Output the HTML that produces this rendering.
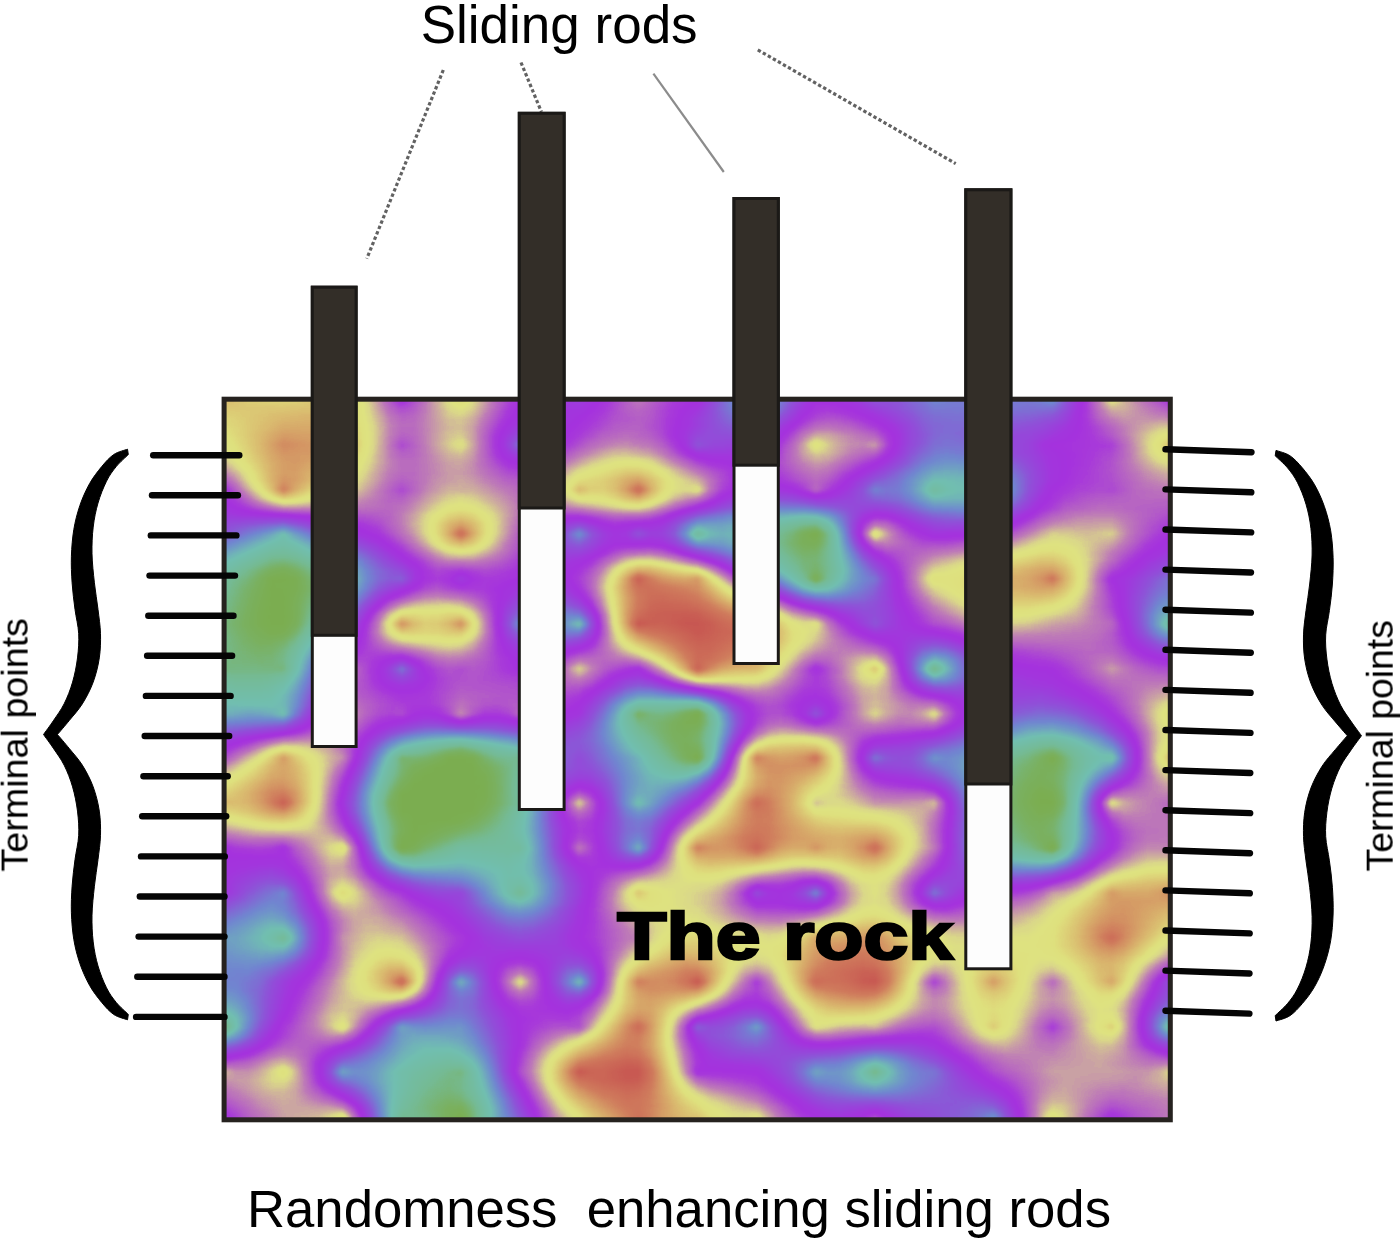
<!DOCTYPE html>
<html><head><meta charset="utf-8"><title>Randomness enhancing sliding rods</title>
<style>html,body{margin:0;padding:0;background:#fff}svg{display:block}</style></head>
<body>
<svg width="1400" height="1239" viewBox="0 0 1400 1239">
<defs>
<linearGradient id="r0" gradientUnits="userSpaceOnUse" x1="224.3" y1="0" x2="1171.0" y2="0"><stop offset=".0000" stop-color="#cccccc"/><stop offset=".0250" stop-color="#c3c3c3"/><stop offset=".0625" stop-color="#bfbfbf"/><stop offset=".1125" stop-color="#c8c8c8"/><stop offset=".1250" stop-color="#cccccc"/><stop offset=".1875" stop-color="#808080"/><stop offset=".2375" stop-color="#b0b0b0"/><stop offset=".2500" stop-color="#bfbfbf"/><stop offset=".2625" stop-color="#aeaeae"/><stop offset=".2875" stop-color="#949494"/><stop offset=".3125" stop-color="#808080"/><stop offset=".3250" stop-color="#7c7c7c"/><stop offset=".3750" stop-color="#737373"/><stop offset=".4375" stop-color="#999999"/><stop offset=".4750" stop-color="#868686"/><stop offset=".5000" stop-color="#808080"/><stop offset=".5375" stop-color="#515151"/><stop offset=".5500" stop-color="#3f3f3f"/><stop offset=".5625" stop-color="#262626"/><stop offset=".5750" stop-color="#414141"/><stop offset=".5875" stop-color="#565656"/><stop offset=".6000" stop-color="#666666"/><stop offset=".6250" stop-color="#808080"/><stop offset=".6500" stop-color="#7c7c7c"/><stop offset=".6625" stop-color="#787878"/><stop offset=".6750" stop-color="#717171"/><stop offset=".6875" stop-color="#666666"/><stop offset=".7000" stop-color="#676767"/><stop offset=".7125" stop-color="#656565"/><stop offset=".7375" stop-color="#5a5a5a"/><stop offset=".7500" stop-color="#525252"/><stop offset=".7750" stop-color="#575757"/><stop offset=".8000" stop-color="#565656"/><stop offset=".8125" stop-color="#525252"/><stop offset=".8250" stop-color="#565656"/><stop offset=".8500" stop-color="#585858"/><stop offset=".8625" stop-color="#545454"/><stop offset=".8750" stop-color="#4d4d4d"/><stop offset=".8875" stop-color="#636363"/><stop offset=".9250" stop-color="#9c9c9c"/><stop offset=".9375" stop-color="#b3b3b3"/><stop offset=".9500" stop-color="#a6a6a6"/><stop offset=".9875" stop-color="#8c8c8c"/><stop offset="1.0000" stop-color="#808080"/></linearGradient>
<linearGradient id="r1" gradientUnits="userSpaceOnUse" x1="224.3" y1="0" x2="1171.0" y2="0"><stop offset=".0000" stop-color="#c4c4c4"/><stop offset=".0625" stop-color="#c6c6c6"/><stop offset=".1125" stop-color="#cacaca"/><stop offset=".1250" stop-color="#c7c7c7"/><stop offset=".1375" stop-color="#bdbdbd"/><stop offset=".1750" stop-color="#949494"/><stop offset=".1875" stop-color="#8c8c8c"/><stop offset=".2000" stop-color="#909090"/><stop offset=".2375" stop-color="#acacac"/><stop offset=".2500" stop-color="#b1b1b1"/><stop offset=".2625" stop-color="#aaaaaa"/><stop offset=".3000" stop-color="#868686"/><stop offset=".3125" stop-color="#7e7e7e"/><stop offset=".3375" stop-color="#787878"/><stop offset=".3750" stop-color="#797979"/><stop offset=".4250" stop-color="#919191"/><stop offset=".4375" stop-color="#949494"/><stop offset=".4500" stop-color="#909090"/><stop offset=".5000" stop-color="#797979"/><stop offset=".5500" stop-color="#484848"/><stop offset=".5625" stop-color="#414141"/><stop offset=".5750" stop-color="#4c4c4c"/><stop offset=".6000" stop-color="#6d6d6d"/><stop offset=".6125" stop-color="#7a7a7a"/><stop offset=".6250" stop-color="#838383"/><stop offset=".6375" stop-color="#858585"/><stop offset=".6625" stop-color="#7f7f7f"/><stop offset=".6875" stop-color="#727272"/><stop offset=".7500" stop-color="#585858"/><stop offset=".8125" stop-color="#585858"/><stop offset=".8750" stop-color="#5d5d5d"/><stop offset=".8875" stop-color="#696969"/><stop offset=".9250" stop-color="#989898"/><stop offset=".9375" stop-color="#a4a4a4"/><stop offset=".9500" stop-color="#a4a4a4"/><stop offset="1.0000" stop-color="#8f8f8f"/></linearGradient>
<linearGradient id="r2" gradientUnits="userSpaceOnUse" x1="224.3" y1="0" x2="1171.0" y2="0"><stop offset=".0000" stop-color="#bfbfbf"/><stop offset=".0625" stop-color="#cccccc"/><stop offset=".0875" stop-color="#cecece"/><stop offset=".1125" stop-color="#cccccc"/><stop offset=".1250" stop-color="#c7c7c7"/><stop offset=".1375" stop-color="#bdbdbd"/><stop offset=".1750" stop-color="#999999"/><stop offset=".1875" stop-color="#939393"/><stop offset=".2000" stop-color="#949494"/><stop offset=".2375" stop-color="#a8a8a8"/><stop offset=".2500" stop-color="#a9a9a9"/><stop offset=".2625" stop-color="#a4a4a4"/><stop offset=".3000" stop-color="#828282"/><stop offset=".3125" stop-color="#7b7b7b"/><stop offset=".3250" stop-color="#777777"/><stop offset=".3625" stop-color="#7a7a7a"/><stop offset=".4125" stop-color="#8d8d8d"/><stop offset=".4375" stop-color="#919191"/><stop offset=".4500" stop-color="#8f8f8f"/><stop offset=".4750" stop-color="#838383"/><stop offset=".5375" stop-color="#5b5b5b"/><stop offset=".5500" stop-color="#555555"/><stop offset=".5625" stop-color="#545454"/><stop offset=".5750" stop-color="#5c5c5c"/><stop offset=".6125" stop-color="#828282"/><stop offset=".6250" stop-color="#8a8a8a"/><stop offset=".6375" stop-color="#8d8d8d"/><stop offset=".6500" stop-color="#8c8c8c"/><stop offset=".6750" stop-color="#838383"/><stop offset=".7375" stop-color="#616161"/><stop offset=".7500" stop-color="#5d5d5d"/><stop offset=".7750" stop-color="#5b5b5b"/><stop offset=".8500" stop-color="#626262"/><stop offset=".8750" stop-color="#686868"/><stop offset=".8875" stop-color="#707070"/><stop offset=".9250" stop-color="#939393"/><stop offset=".9375" stop-color="#9b9b9b"/><stop offset=".9500" stop-color="#9f9f9f"/><stop offset="1.0000" stop-color="#9c9c9c"/></linearGradient>
<linearGradient id="r3" gradientUnits="userSpaceOnUse" x1="224.3" y1="0" x2="1171.0" y2="0"><stop offset=".0000" stop-color="#bbbbbb"/><stop offset=".0625" stop-color="#d1d1d1"/><stop offset=".1000" stop-color="#d2d2d2"/><stop offset=".1125" stop-color="#cfcfcf"/><stop offset=".1250" stop-color="#cacaca"/><stop offset=".1375" stop-color="#c0c0c0"/><stop offset=".1750" stop-color="#9b9b9b"/><stop offset=".1875" stop-color="#959595"/><stop offset=".2000" stop-color="#959595"/><stop offset=".2375" stop-color="#a6a6a6"/><stop offset=".2500" stop-color="#a7a7a7"/><stop offset=".2625" stop-color="#a1a1a1"/><stop offset=".3000" stop-color="#7c7c7c"/><stop offset=".3125" stop-color="#747474"/><stop offset=".3250" stop-color="#727272"/><stop offset=".3375" stop-color="#757575"/><stop offset=".4125" stop-color="#909090"/><stop offset=".4375" stop-color="#929292"/><stop offset=".4625" stop-color="#898989"/><stop offset=".5125" stop-color="#6b6b6b"/><stop offset=".5375" stop-color="#626262"/><stop offset=".5500" stop-color="#606060"/><stop offset=".5625" stop-color="#626262"/><stop offset=".5750" stop-color="#696969"/><stop offset=".6125" stop-color="#8d8d8d"/><stop offset=".6250" stop-color="#959595"/><stop offset=".6375" stop-color="#979797"/><stop offset=".6625" stop-color="#929292"/><stop offset=".6875" stop-color="#878787"/><stop offset=".7375" stop-color="#646464"/><stop offset=".7500" stop-color="#5f5f5f"/><stop offset=".7750" stop-color="#5d5d5d"/><stop offset=".8625" stop-color="#6c6c6c"/><stop offset=".8875" stop-color="#777777"/><stop offset=".9500" stop-color="#9a9a9a"/><stop offset=".9875" stop-color="#a8a8a8"/><stop offset="1.0000" stop-color="#a9a9a9"/></linearGradient>
<linearGradient id="r4" gradientUnits="userSpaceOnUse" x1="224.3" y1="0" x2="1171.0" y2="0"><stop offset=".0000" stop-color="#b7b7b7"/><stop offset=".0625" stop-color="#d8d8d8"/><stop offset=".1125" stop-color="#d4d4d4"/><stop offset=".1250" stop-color="#cfcfcf"/><stop offset=".1750" stop-color="#9a9a9a"/><stop offset=".1875" stop-color="#929292"/><stop offset=".2000" stop-color="#949494"/><stop offset=".2375" stop-color="#a8a8a8"/><stop offset=".2500" stop-color="#aaaaaa"/><stop offset=".2625" stop-color="#a1a1a1"/><stop offset=".3000" stop-color="#757575"/><stop offset=".3125" stop-color="#6a6a6a"/><stop offset=".3250" stop-color="#6c6c6c"/><stop offset=".3500" stop-color="#7b7b7b"/><stop offset=".4000" stop-color="#929292"/><stop offset=".4250" stop-color="#969696"/><stop offset=".4500" stop-color="#919191"/><stop offset=".4625" stop-color="#8b8b8b"/><stop offset=".5000" stop-color="#6d6d6d"/><stop offset=".5125" stop-color="#6a6a6a"/><stop offset=".5500" stop-color="#696969"/><stop offset=".5625" stop-color="#6c6c6c"/><stop offset=".5750" stop-color="#747474"/><stop offset=".5875" stop-color="#7e7e7e"/><stop offset=".6125" stop-color="#9a9a9a"/><stop offset=".6250" stop-color="#a4a4a4"/><stop offset=".6375" stop-color="#a3a3a3"/><stop offset=".6875" stop-color="#939393"/><stop offset=".7250" stop-color="#6d6d6d"/><stop offset=".7500" stop-color="#5f5f5f"/><stop offset=".7625" stop-color="#5c5c5c"/><stop offset=".7875" stop-color="#606060"/><stop offset=".8125" stop-color="#6b6b6b"/><stop offset=".8500" stop-color="#6e6e6e"/><stop offset=".9250" stop-color="#898989"/><stop offset=".9375" stop-color="#8f8f8f"/><stop offset=".9875" stop-color="#b2b2b2"/><stop offset="1.0000" stop-color="#b8b8b8"/></linearGradient>
<linearGradient id="r5" gradientUnits="userSpaceOnUse" x1="224.3" y1="0" x2="1171.0" y2="0"><stop offset=".0000" stop-color="#b2b2b2"/><stop offset=".0375" stop-color="#cbcbcb"/><stop offset=".0625" stop-color="#e0e0e0"/><stop offset=".1000" stop-color="#d7d7d7"/><stop offset=".1250" stop-color="#d9d9d9"/><stop offset=".1500" stop-color="#b5b5b5"/><stop offset=".1875" stop-color="#8a8a8a"/><stop offset=".2500" stop-color="#b2b2b2"/><stop offset=".2875" stop-color="#838383"/><stop offset=".3000" stop-color="#717171"/><stop offset=".3125" stop-color="#595959"/><stop offset=".3250" stop-color="#6a6a6a"/><stop offset=".3500" stop-color="#7f7f7f"/><stop offset=".3875" stop-color="#949494"/><stop offset=".4125" stop-color="#9c9c9c"/><stop offset=".4250" stop-color="#9d9d9d"/><stop offset=".4500" stop-color="#979797"/><stop offset=".4625" stop-color="#919191"/><stop offset=".4750" stop-color="#878787"/><stop offset=".4875" stop-color="#797979"/><stop offset=".5000" stop-color="#666666"/><stop offset=".5125" stop-color="#6c6c6c"/><stop offset=".5625" stop-color="#737373"/><stop offset=".5875" stop-color="#868686"/><stop offset=".6000" stop-color="#939393"/><stop offset=".6125" stop-color="#a3a3a3"/><stop offset=".6250" stop-color="#b8b8b8"/><stop offset=".6375" stop-color="#aaaaaa"/><stop offset=".6500" stop-color="#a2a2a2"/><stop offset=".6625" stop-color="#9d9d9d"/><stop offset=".6750" stop-color="#9c9c9c"/><stop offset=".6875" stop-color="#a1a1a1"/><stop offset=".7000" stop-color="#8a8a8a"/><stop offset=".7125" stop-color="#797979"/><stop offset=".7250" stop-color="#6c6c6c"/><stop offset=".7500" stop-color="#5c5c5c"/><stop offset=".7625" stop-color="#5a5a5a"/><stop offset=".7750" stop-color="#5a5a5a"/><stop offset=".7875" stop-color="#5e5e5e"/><stop offset=".8000" stop-color="#666666"/><stop offset=".8125" stop-color="#737373"/><stop offset=".8250" stop-color="#6e6e6e"/><stop offset=".8375" stop-color="#6d6d6d"/><stop offset=".8500" stop-color="#717171"/><stop offset=".8750" stop-color="#808080"/><stop offset=".9375" stop-color="#878787"/><stop offset=".9750" stop-color="#ababab"/><stop offset=".9875" stop-color="#b9b9b9"/><stop offset="1.0000" stop-color="#cccccc"/></linearGradient>
<linearGradient id="r6" gradientUnits="userSpaceOnUse" x1="224.3" y1="0" x2="1171.0" y2="0"><stop offset=".0000" stop-color="#adadad"/><stop offset=".0500" stop-color="#d3d3d3"/><stop offset=".0625" stop-color="#dadada"/><stop offset=".0875" stop-color="#d9d9d9"/><stop offset=".1125" stop-color="#d3d3d3"/><stop offset=".1250" stop-color="#cecece"/><stop offset=".1625" stop-color="#a5a5a5"/><stop offset=".1750" stop-color="#999999"/><stop offset=".1875" stop-color="#929292"/><stop offset=".2000" stop-color="#939393"/><stop offset=".2375" stop-color="#a5a5a5"/><stop offset=".2500" stop-color="#a7a7a7"/><stop offset=".2625" stop-color="#a0a0a0"/><stop offset=".3000" stop-color="#787878"/><stop offset=".3125" stop-color="#6f6f6f"/><stop offset=".3250" stop-color="#747474"/><stop offset=".3500" stop-color="#878787"/><stop offset=".3750" stop-color="#979797"/><stop offset=".4000" stop-color="#a3a3a3"/><stop offset=".4125" stop-color="#a7a7a7"/><stop offset=".4250" stop-color="#a7a7a7"/><stop offset=".4500" stop-color="#a1a1a1"/><stop offset=".4625" stop-color="#9a9a9a"/><stop offset=".5000" stop-color="#7a7a7a"/><stop offset=".5125" stop-color="#777777"/><stop offset=".5375" stop-color="#777777"/><stop offset=".5625" stop-color="#7b7b7b"/><stop offset=".5750" stop-color="#818181"/><stop offset=".5875" stop-color="#8a8a8a"/><stop offset=".6125" stop-color="#a1a1a1"/><stop offset=".6250" stop-color="#a9a9a9"/><stop offset=".6375" stop-color="#a6a6a6"/><stop offset=".6625" stop-color="#999999"/><stop offset=".6875" stop-color="#909090"/><stop offset=".7250" stop-color="#676767"/><stop offset=".7375" stop-color="#5e5e5e"/><stop offset=".7500" stop-color="#575757"/><stop offset=".7625" stop-color="#545454"/><stop offset=".7875" stop-color="#585858"/><stop offset=".8125" stop-color="#656565"/><stop offset=".8500" stop-color="#707070"/><stop offset=".8750" stop-color="#7c7c7c"/><stop offset=".9375" stop-color="#8b8b8b"/><stop offset=".9500" stop-color="#939393"/><stop offset=".9875" stop-color="#b4b4b4"/><stop offset="1.0000" stop-color="#bbbbbb"/></linearGradient>
<linearGradient id="r7" gradientUnits="userSpaceOnUse" x1="224.3" y1="0" x2="1171.0" y2="0"><stop offset=".0000" stop-color="#a6a6a6"/><stop offset=".0500" stop-color="#d0d0d0"/><stop offset=".0625" stop-color="#d7d7d7"/><stop offset=".0750" stop-color="#d9d9d9"/><stop offset=".1000" stop-color="#d2d2d2"/><stop offset=".1250" stop-color="#c5c5c5"/><stop offset=".1625" stop-color="#a4a4a4"/><stop offset=".1750" stop-color="#9b9b9b"/><stop offset=".1875" stop-color="#959595"/><stop offset=".2000" stop-color="#959595"/><stop offset=".2375" stop-color="#a1a1a1"/><stop offset=".2500" stop-color="#a2a2a2"/><stop offset=".2625" stop-color="#9d9d9d"/><stop offset=".3000" stop-color="#828282"/><stop offset=".3125" stop-color="#7e7e7e"/><stop offset=".3250" stop-color="#808080"/><stop offset=".3375" stop-color="#888888"/><stop offset=".3625" stop-color="#9a9a9a"/><stop offset=".3875" stop-color="#a9a9a9"/><stop offset=".4125" stop-color="#b3b3b3"/><stop offset=".4250" stop-color="#b5b5b5"/><stop offset=".4375" stop-color="#b4b4b4"/><stop offset=".4500" stop-color="#afafaf"/><stop offset=".5000" stop-color="#8a8a8a"/><stop offset=".5125" stop-color="#848484"/><stop offset=".5375" stop-color="#7e7e7e"/><stop offset=".5625" stop-color="#808080"/><stop offset=".5750" stop-color="#858585"/><stop offset=".6125" stop-color="#9b9b9b"/><stop offset=".6250" stop-color="#a0a0a0"/><stop offset=".6375" stop-color="#9e9e9e"/><stop offset=".6750" stop-color="#898989"/><stop offset=".6875" stop-color="#818181"/><stop offset=".7375" stop-color="#565656"/><stop offset=".7500" stop-color="#505050"/><stop offset=".7625" stop-color="#4d4d4d"/><stop offset=".7750" stop-color="#4d4d4d"/><stop offset=".8000" stop-color="#535353"/><stop offset=".8250" stop-color="#5e5e5e"/><stop offset=".8750" stop-color="#7b7b7b"/><stop offset=".9375" stop-color="#8d8d8d"/><stop offset=".9875" stop-color="#ababab"/><stop offset="1.0000" stop-color="#afafaf"/></linearGradient>
<linearGradient id="r8" gradientUnits="userSpaceOnUse" x1="224.3" y1="0" x2="1171.0" y2="0"><stop offset=".0000" stop-color="#9c9c9c"/><stop offset=".0125" stop-color="#a6a6a6"/><stop offset=".0500" stop-color="#cfcfcf"/><stop offset=".0625" stop-color="#d7d7d7"/><stop offset=".0750" stop-color="#d7d7d7"/><stop offset=".1125" stop-color="#c6c6c6"/><stop offset=".1250" stop-color="#bfbfbf"/><stop offset=".1625" stop-color="#a1a1a1"/><stop offset=".1750" stop-color="#999999"/><stop offset=".1875" stop-color="#959595"/><stop offset=".2000" stop-color="#959595"/><stop offset=".2375" stop-color="#a0a0a0"/><stop offset=".2500" stop-color="#a0a0a0"/><stop offset=".2625" stop-color="#9d9d9d"/><stop offset=".3000" stop-color="#8b8b8b"/><stop offset=".3125" stop-color="#898989"/><stop offset=".3250" stop-color="#8b8b8b"/><stop offset=".3375" stop-color="#919191"/><stop offset=".3750" stop-color="#afafaf"/><stop offset=".3875" stop-color="#b5b5b5"/><stop offset=".4250" stop-color="#c4c4c4"/><stop offset=".4375" stop-color="#c4c4c4"/><stop offset=".4500" stop-color="#bebebe"/><stop offset=".4750" stop-color="#a9a9a9"/><stop offset=".5125" stop-color="#909090"/><stop offset=".5375" stop-color="#848484"/><stop offset=".5625" stop-color="#838383"/><stop offset=".5875" stop-color="#898989"/><stop offset=".6125" stop-color="#959595"/><stop offset=".6250" stop-color="#999999"/><stop offset=".6375" stop-color="#969696"/><stop offset=".6625" stop-color="#868686"/><stop offset=".7375" stop-color="#4d4d4d"/><stop offset=".7500" stop-color="#454545"/><stop offset=".7625" stop-color="#434343"/><stop offset=".8000" stop-color="#474747"/><stop offset=".8125" stop-color="#4b4b4b"/><stop offset=".8625" stop-color="#727272"/><stop offset=".8750" stop-color="#7a7a7a"/><stop offset=".9000" stop-color="#848484"/><stop offset=".9375" stop-color="#8d8d8d"/><stop offset=".9750" stop-color="#9e9e9e"/><stop offset="1.0000" stop-color="#a6a6a6"/></linearGradient>
<linearGradient id="r9" gradientUnits="userSpaceOnUse" x1="224.3" y1="0" x2="1171.0" y2="0"><stop offset=".0000" stop-color="#909090"/><stop offset=".0125" stop-color="#9c9c9c"/><stop offset=".0500" stop-color="#cecece"/><stop offset=".0625" stop-color="#dbdbdb"/><stop offset=".0750" stop-color="#d7d7d7"/><stop offset=".1000" stop-color="#c6c6c6"/><stop offset=".1250" stop-color="#b8b8b8"/><stop offset=".1750" stop-color="#969696"/><stop offset=".1875" stop-color="#919191"/><stop offset=".2000" stop-color="#949494"/><stop offset=".2250" stop-color="#9e9e9e"/><stop offset=".2500" stop-color="#a2a2a2"/><stop offset=".2625" stop-color="#a0a0a0"/><stop offset=".3000" stop-color="#929292"/><stop offset=".3125" stop-color="#909090"/><stop offset=".3250" stop-color="#929292"/><stop offset=".3375" stop-color="#989898"/><stop offset=".3500" stop-color="#a2a2a2"/><stop offset=".3750" stop-color="#bcbcbc"/><stop offset=".4000" stop-color="#c2c2c2"/><stop offset=".4125" stop-color="#c8c8c8"/><stop offset=".4250" stop-color="#d2d2d2"/><stop offset=".4375" stop-color="#d8d8d8"/><stop offset=".4750" stop-color="#b1b1b1"/><stop offset=".5000" stop-color="#a5a5a5"/><stop offset=".5250" stop-color="#8c8c8c"/><stop offset=".5375" stop-color="#858585"/><stop offset=".5500" stop-color="#828282"/><stop offset=".5875" stop-color="#848484"/><stop offset=".6250" stop-color="#949494"/><stop offset=".6375" stop-color="#8f8f8f"/><stop offset=".6500" stop-color="#868686"/><stop offset=".6875" stop-color="#646464"/><stop offset=".7125" stop-color="#595959"/><stop offset=".7500" stop-color="#393939"/><stop offset=".7875" stop-color="#3d3d3d"/><stop offset=".8125" stop-color="#3c3c3c"/><stop offset=".8500" stop-color="#676767"/><stop offset=".8750" stop-color="#7b7b7b"/><stop offset=".9000" stop-color="#858585"/><stop offset=".9375" stop-color="#8c8c8c"/><stop offset=".9750" stop-color="#9a9a9a"/><stop offset="1.0000" stop-color="#9f9f9f"/></linearGradient>
<linearGradient id="r10" gradientUnits="userSpaceOnUse" x1="224.3" y1="0" x2="1171.0" y2="0"><stop offset=".0000" stop-color="#808080"/><stop offset=".0375" stop-color="#b3b3b3"/><stop offset=".0500" stop-color="#c8c8c8"/><stop offset=".0625" stop-color="#e6e6e6"/><stop offset=".0750" stop-color="#d1d1d1"/><stop offset=".0875" stop-color="#c4c4c4"/><stop offset=".1000" stop-color="#bcbcbc"/><stop offset=".1250" stop-color="#b2b2b2"/><stop offset=".1875" stop-color="#8a8a8a"/><stop offset=".2125" stop-color="#9b9b9b"/><stop offset=".2375" stop-color="#a5a5a5"/><stop offset=".2625" stop-color="#a4a4a4"/><stop offset=".3125" stop-color="#949494"/><stop offset=".3250" stop-color="#969696"/><stop offset=".3375" stop-color="#9b9b9b"/><stop offset=".3500" stop-color="#a5a5a5"/><stop offset=".3625" stop-color="#b4b4b4"/><stop offset=".3750" stop-color="#cccccc"/><stop offset=".3875" stop-color="#c2c2c2"/><stop offset=".4000" stop-color="#c2c2c2"/><stop offset=".4125" stop-color="#c9c9c9"/><stop offset=".4250" stop-color="#d8d8d8"/><stop offset=".4375" stop-color="#f2f2f2"/><stop offset=".4500" stop-color="#d2d2d2"/><stop offset=".4625" stop-color="#bdbdbd"/><stop offset=".4750" stop-color="#b1b1b1"/><stop offset=".4875" stop-color="#adadad"/><stop offset=".5000" stop-color="#b2b2b2"/><stop offset=".5125" stop-color="#999999"/><stop offset=".5250" stop-color="#898989"/><stop offset=".5375" stop-color="#808080"/><stop offset=".5500" stop-color="#7d7d7d"/><stop offset=".5625" stop-color="#808080"/><stop offset=".5750" stop-color="#7a7a7a"/><stop offset=".5875" stop-color="#797979"/><stop offset=".6000" stop-color="#7d7d7d"/><stop offset=".6125" stop-color="#868686"/><stop offset=".6250" stop-color="#949494"/><stop offset=".6375" stop-color="#878787"/><stop offset=".6625" stop-color="#737373"/><stop offset=".6750" stop-color="#676767"/><stop offset=".6875" stop-color="#545454"/><stop offset=".7000" stop-color="#595959"/><stop offset=".7125" stop-color="#565656"/><stop offset=".7250" stop-color="#4d4d4d"/><stop offset=".7375" stop-color="#3f3f3f"/><stop offset=".7500" stop-color="#292929"/><stop offset=".7625" stop-color="#353535"/><stop offset=".7750" stop-color="#3a3a3a"/><stop offset=".7875" stop-color="#3a3a3a"/><stop offset=".8000" stop-color="#353535"/><stop offset=".8125" stop-color="#292929"/><stop offset=".8250" stop-color="#444444"/><stop offset=".8375" stop-color="#585858"/><stop offset=".8500" stop-color="#686868"/><stop offset=".8750" stop-color="#808080"/><stop offset=".9000" stop-color="#888888"/><stop offset=".9250" stop-color="#8b8b8b"/><stop offset=".9375" stop-color="#8a8a8a"/><stop offset=".9625" stop-color="#949494"/><stop offset="1.0000" stop-color="#999999"/></linearGradient>
<linearGradient id="r11" gradientUnits="userSpaceOnUse" x1="224.3" y1="0" x2="1171.0" y2="0"><stop offset=".0000" stop-color="#7f7f7f"/><stop offset=".0125" stop-color="#888888"/><stop offset=".0250" stop-color="#949494"/><stop offset=".0500" stop-color="#b2b2b2"/><stop offset=".0625" stop-color="#bebebe"/><stop offset=".0750" stop-color="#bababa"/><stop offset=".1000" stop-color="#adadad"/><stop offset=".1750" stop-color="#939393"/><stop offset=".1875" stop-color="#929292"/><stop offset=".2250" stop-color="#a6a6a6"/><stop offset=".2375" stop-color="#ababab"/><stop offset=".2500" stop-color="#adadad"/><stop offset=".2625" stop-color="#ababab"/><stop offset=".3125" stop-color="#979797"/><stop offset=".3250" stop-color="#979797"/><stop offset=".3375" stop-color="#999999"/><stop offset=".3500" stop-color="#9f9f9f"/><stop offset=".3750" stop-color="#b3b3b3"/><stop offset=".4000" stop-color="#b7b7b7"/><stop offset=".4125" stop-color="#bdbdbd"/><stop offset=".4250" stop-color="#c7c7c7"/><stop offset=".4375" stop-color="#cdcdcd"/><stop offset=".4750" stop-color="#a5a5a5"/><stop offset=".5000" stop-color="#979797"/><stop offset=".5250" stop-color="#7d7d7d"/><stop offset=".5375" stop-color="#747474"/><stop offset=".5500" stop-color="#707070"/><stop offset=".5875" stop-color="#696969"/><stop offset=".6000" stop-color="#6b6b6b"/><stop offset=".6250" stop-color="#767676"/><stop offset=".6375" stop-color="#757575"/><stop offset=".6625" stop-color="#6e6e6e"/><stop offset=".6875" stop-color="#626262"/><stop offset=".7125" stop-color="#5c5c5c"/><stop offset=".7250" stop-color="#545454"/><stop offset=".7500" stop-color="#3e3e3e"/><stop offset=".7875" stop-color="#414141"/><stop offset=".8000" stop-color="#3f3f3f"/><stop offset=".8125" stop-color="#404040"/><stop offset=".8250" stop-color="#4e4e4e"/><stop offset=".8500" stop-color="#6d6d6d"/><stop offset=".8625" stop-color="#7a7a7a"/><stop offset=".8750" stop-color="#838383"/><stop offset=".8875" stop-color="#898989"/><stop offset=".9125" stop-color="#8f8f8f"/><stop offset=".9750" stop-color="#949494"/><stop offset="1.0000" stop-color="#949494"/></linearGradient>
<linearGradient id="r12" gradientUnits="userSpaceOnUse" x1="224.3" y1="0" x2="1171.0" y2="0"><stop offset=".0000" stop-color="#7a7a7a"/><stop offset=".0125" stop-color="#7f7f7f"/><stop offset=".0625" stop-color="#9c9c9c"/><stop offset=".0750" stop-color="#9d9d9d"/><stop offset=".1750" stop-color="#949494"/><stop offset=".1875" stop-color="#979797"/><stop offset=".2000" stop-color="#9d9d9d"/><stop offset=".2375" stop-color="#b4b4b4"/><stop offset=".2500" stop-color="#b7b7b7"/><stop offset=".2625" stop-color="#b4b4b4"/><stop offset=".3125" stop-color="#989898"/><stop offset=".3375" stop-color="#939393"/><stop offset=".3625" stop-color="#989898"/><stop offset=".4250" stop-color="#adadad"/><stop offset=".4375" stop-color="#aeaeae"/><stop offset=".4500" stop-color="#a7a7a7"/><stop offset=".4875" stop-color="#878787"/><stop offset=".5250" stop-color="#6b6b6b"/><stop offset=".5625" stop-color="#5a5a5a"/><stop offset=".5875" stop-color="#555555"/><stop offset=".6125" stop-color="#575757"/><stop offset=".6625" stop-color="#6b6b6b"/><stop offset=".6875" stop-color="#707070"/><stop offset=".7000" stop-color="#6e6e6e"/><stop offset=".7125" stop-color="#696969"/><stop offset=".7500" stop-color="#505050"/><stop offset=".7750" stop-color="#4e4e4e"/><stop offset=".8000" stop-color="#4f4f4f"/><stop offset=".8125" stop-color="#535353"/><stop offset=".8250" stop-color="#5d5d5d"/><stop offset=".8625" stop-color="#818181"/><stop offset=".8875" stop-color="#8f8f8f"/><stop offset=".9250" stop-color="#959595"/><stop offset="1.0000" stop-color="#909090"/></linearGradient>
<linearGradient id="r13" gradientUnits="userSpaceOnUse" x1="224.3" y1="0" x2="1171.0" y2="0"><stop offset=".0000" stop-color="#747474"/><stop offset=".0625" stop-color="#7c7c7c"/><stop offset=".1125" stop-color="#898989"/><stop offset=".1625" stop-color="#909090"/><stop offset=".1750" stop-color="#939393"/><stop offset=".2000" stop-color="#a1a1a1"/><stop offset=".2375" stop-color="#c0c0c0"/><stop offset=".2500" stop-color="#c4c4c4"/><stop offset=".2625" stop-color="#c0c0c0"/><stop offset=".3000" stop-color="#a0a0a0"/><stop offset=".3125" stop-color="#979797"/><stop offset=".3375" stop-color="#8b8b8b"/><stop offset=".3625" stop-color="#858585"/><stop offset=".3750" stop-color="#858585"/><stop offset=".4125" stop-color="#939393"/><stop offset=".4375" stop-color="#939393"/><stop offset=".4500" stop-color="#8f8f8f"/><stop offset=".4625" stop-color="#878787"/><stop offset=".5000" stop-color="#636363"/><stop offset=".5125" stop-color="#5c5c5c"/><stop offset=".5625" stop-color="#464646"/><stop offset=".6125" stop-color="#3b3b3b"/><stop offset=".6250" stop-color="#3e3e3e"/><stop offset=".6375" stop-color="#484848"/><stop offset=".6750" stop-color="#787878"/><stop offset=".6875" stop-color="#818181"/><stop offset=".7000" stop-color="#808080"/><stop offset=".7375" stop-color="#676767"/><stop offset=".7500" stop-color="#616161"/><stop offset=".7750" stop-color="#5d5d5d"/><stop offset=".8000" stop-color="#5f5f5f"/><stop offset=".8125" stop-color="#646464"/><stop offset=".8250" stop-color="#6c6c6c"/><stop offset=".8625" stop-color="#8b8b8b"/><stop offset=".8750" stop-color="#929292"/><stop offset=".9000" stop-color="#9a9a9a"/><stop offset=".9375" stop-color="#9b9b9b"/><stop offset="1.0000" stop-color="#8b8b8b"/></linearGradient>
<linearGradient id="r14" gradientUnits="userSpaceOnUse" x1="224.3" y1="0" x2="1171.0" y2="0"><stop offset=".0000" stop-color="#6c6c6c"/><stop offset=".0625" stop-color="#5c5c5c"/><stop offset=".1125" stop-color="#797979"/><stop offset=".1625" stop-color="#8a8a8a"/><stop offset=".1875" stop-color="#999999"/><stop offset=".2125" stop-color="#adadad"/><stop offset=".2375" stop-color="#cdcdcd"/><stop offset=".2500" stop-color="#d7d7d7"/><stop offset=".2625" stop-color="#cccccc"/><stop offset=".2875" stop-color="#acacac"/><stop offset=".3000" stop-color="#9f9f9f"/><stop offset=".3125" stop-color="#949494"/><stop offset=".3625" stop-color="#717171"/><stop offset=".3750" stop-color="#6b6b6b"/><stop offset=".4000" stop-color="#7d7d7d"/><stop offset=".4125" stop-color="#828282"/><stop offset=".4375" stop-color="#7c7c7c"/><stop offset=".4500" stop-color="#7b7b7b"/><stop offset=".4625" stop-color="#777777"/><stop offset=".4750" stop-color="#6b6b6b"/><stop offset=".5000" stop-color="#474747"/><stop offset=".5250" stop-color="#474747"/><stop offset=".5375" stop-color="#444444"/><stop offset=".5625" stop-color="#323232"/><stop offset=".5875" stop-color="#2c2c2c"/><stop offset=".6125" stop-color="#1e1e1e"/><stop offset=".6250" stop-color="#1c1c1c"/><stop offset=".6375" stop-color="#303030"/><stop offset=".6750" stop-color="#858585"/><stop offset=".6875" stop-color="#989898"/><stop offset=".7000" stop-color="#949494"/><stop offset=".7250" stop-color="#7d7d7d"/><stop offset=".7375" stop-color="#757575"/><stop offset=".7500" stop-color="#6f6f6f"/><stop offset=".7625" stop-color="#6c6c6c"/><stop offset=".7875" stop-color="#6d6d6d"/><stop offset=".8125" stop-color="#737373"/><stop offset=".8625" stop-color="#979797"/><stop offset=".8750" stop-color="#9d9d9d"/><stop offset=".8875" stop-color="#a0a0a0"/><stop offset=".9375" stop-color="#a2a2a2"/><stop offset=".9750" stop-color="#8f8f8f"/><stop offset="1.0000" stop-color="#868686"/></linearGradient>
<linearGradient id="r15" gradientUnits="userSpaceOnUse" x1="224.3" y1="0" x2="1171.0" y2="0"><stop offset=".0000" stop-color="#666666"/><stop offset=".0375" stop-color="#4f4f4f"/><stop offset=".0500" stop-color="#464646"/><stop offset=".0625" stop-color="#383838"/><stop offset=".0750" stop-color="#494949"/><stop offset=".1000" stop-color="#606060"/><stop offset=".1250" stop-color="#737373"/><stop offset=".1625" stop-color="#838383"/><stop offset=".2000" stop-color="#9f9f9f"/><stop offset=".2125" stop-color="#acacac"/><stop offset=".2250" stop-color="#bcbcbc"/><stop offset=".2375" stop-color="#d2d2d2"/><stop offset=".2500" stop-color="#f2f2f2"/><stop offset=".2625" stop-color="#d3d3d3"/><stop offset=".2750" stop-color="#bcbcbc"/><stop offset=".2875" stop-color="#ababab"/><stop offset=".3125" stop-color="#8f8f8f"/><stop offset=".3500" stop-color="#727272"/><stop offset=".3625" stop-color="#636363"/><stop offset=".3750" stop-color="#4d4d4d"/><stop offset=".3875" stop-color="#656565"/><stop offset=".4000" stop-color="#737373"/><stop offset=".4125" stop-color="#797979"/><stop offset=".4250" stop-color="#767676"/><stop offset=".4375" stop-color="#666666"/><stop offset=".4500" stop-color="#727272"/><stop offset=".4625" stop-color="#717171"/><stop offset=".4750" stop-color="#656565"/><stop offset=".4875" stop-color="#4d4d4d"/><stop offset=".5000" stop-color="#262626"/><stop offset=".5125" stop-color="#3b3b3b"/><stop offset=".5250" stop-color="#414141"/><stop offset=".5375" stop-color="#3e3e3e"/><stop offset=".5500" stop-color="#323232"/><stop offset=".5625" stop-color="#1f1f1f"/><stop offset=".5750" stop-color="#232323"/><stop offset=".5875" stop-color="#202020"/><stop offset=".6000" stop-color="#171717"/><stop offset=".6125" stop-color="#090909"/><stop offset=".6250" stop-color="#000000"/><stop offset=".6375" stop-color="#1d1d1d"/><stop offset=".6625" stop-color="#666666"/><stop offset=".6750" stop-color="#8c8c8c"/><stop offset=".6875" stop-color="#bababa"/><stop offset=".7000" stop-color="#a2a2a2"/><stop offset=".7125" stop-color="#929292"/><stop offset=".7250" stop-color="#888888"/><stop offset=".7500" stop-color="#7a7a7a"/><stop offset=".8125" stop-color="#7f7f7f"/><stop offset=".8375" stop-color="#939393"/><stop offset=".8750" stop-color="#ababab"/><stop offset=".9125" stop-color="#a7a7a7"/><stop offset=".9375" stop-color="#ababab"/><stop offset=".9500" stop-color="#9e9e9e"/><stop offset=".9625" stop-color="#949494"/><stop offset="1.0000" stop-color="#808080"/></linearGradient>
<linearGradient id="r16" gradientUnits="userSpaceOnUse" x1="224.3" y1="0" x2="1171.0" y2="0"><stop offset=".0000" stop-color="#575757"/><stop offset=".0500" stop-color="#373737"/><stop offset=".0625" stop-color="#323232"/><stop offset=".0750" stop-color="#393939"/><stop offset=".1250" stop-color="#626262"/><stop offset=".1625" stop-color="#797979"/><stop offset=".1875" stop-color="#8d8d8d"/><stop offset=".2125" stop-color="#a4a4a4"/><stop offset=".2375" stop-color="#c4c4c4"/><stop offset=".2500" stop-color="#cecece"/><stop offset=".2625" stop-color="#c4c4c4"/><stop offset=".2875" stop-color="#a5a5a5"/><stop offset=".3000" stop-color="#989898"/><stop offset=".3625" stop-color="#666666"/><stop offset=".3750" stop-color="#616161"/><stop offset=".4000" stop-color="#767676"/><stop offset=".4125" stop-color="#7d7d7d"/><stop offset=".4500" stop-color="#7d7d7d"/><stop offset=".4625" stop-color="#7a7a7a"/><stop offset=".4750" stop-color="#707070"/><stop offset=".5000" stop-color="#4b4b4b"/><stop offset=".5250" stop-color="#494949"/><stop offset=".5375" stop-color="#434343"/><stop offset=".5625" stop-color="#2b2b2b"/><stop offset=".5875" stop-color="#1e1e1e"/><stop offset=".6125" stop-color="#090909"/><stop offset=".6250" stop-color="#070707"/><stop offset=".6375" stop-color="#1d1d1d"/><stop offset=".6750" stop-color="#7f7f7f"/><stop offset=".6875" stop-color="#989898"/><stop offset=".7000" stop-color="#9a9a9a"/><stop offset=".7375" stop-color="#8b8b8b"/><stop offset=".7625" stop-color="#8a8a8a"/><stop offset=".8125" stop-color="#949494"/><stop offset=".8625" stop-color="#afafaf"/><stop offset=".8750" stop-color="#b2b2b2"/><stop offset=".8875" stop-color="#b1b1b1"/><stop offset=".9375" stop-color="#a2a2a2"/><stop offset=".9750" stop-color="#878787"/><stop offset="1.0000" stop-color="#7b7b7b"/></linearGradient>
<linearGradient id="r17" gradientUnits="userSpaceOnUse" x1="224.3" y1="0" x2="1171.0" y2="0"><stop offset=".0000" stop-color="#494949"/><stop offset=".0500" stop-color="#2a2a2a"/><stop offset=".0625" stop-color="#282828"/><stop offset=".0750" stop-color="#2c2c2c"/><stop offset=".1750" stop-color="#787878"/><stop offset=".2375" stop-color="#aeaeae"/><stop offset=".2500" stop-color="#b2b2b2"/><stop offset=".2625" stop-color="#afafaf"/><stop offset=".3250" stop-color="#828282"/><stop offset=".3500" stop-color="#747474"/><stop offset=".3625" stop-color="#6f6f6f"/><stop offset=".3750" stop-color="#6f6f6f"/><stop offset=".3875" stop-color="#767676"/><stop offset=".4125" stop-color="#8a8a8a"/><stop offset=".4250" stop-color="#909090"/><stop offset=".4500" stop-color="#939393"/><stop offset=".4625" stop-color="#8f8f8f"/><stop offset=".4750" stop-color="#868686"/><stop offset=".5000" stop-color="#6d6d6d"/><stop offset=".5375" stop-color="#515151"/><stop offset=".5750" stop-color="#2d2d2d"/><stop offset=".6000" stop-color="#191919"/><stop offset=".6125" stop-color="#111111"/><stop offset=".6250" stop-color="#121212"/><stop offset=".6375" stop-color="#212121"/><stop offset=".6500" stop-color="#393939"/><stop offset=".6750" stop-color="#6e6e6e"/><stop offset=".6875" stop-color="#828282"/><stop offset=".7000" stop-color="#8c8c8c"/><stop offset=".7875" stop-color="#9d9d9d"/><stop offset=".8625" stop-color="#bababa"/><stop offset=".8750" stop-color="#bbbbbb"/><stop offset=".8875" stop-color="#b8b8b8"/><stop offset=".9000" stop-color="#b2b2b2"/><stop offset=".9750" stop-color="#818181"/><stop offset="1.0000" stop-color="#767676"/></linearGradient>
<linearGradient id="r18" gradientUnits="userSpaceOnUse" x1="224.3" y1="0" x2="1171.0" y2="0"><stop offset=".0000" stop-color="#3d3d3d"/><stop offset=".0500" stop-color="#1c1c1c"/><stop offset=".0625" stop-color="#1a1a1a"/><stop offset=".0750" stop-color="#1e1e1e"/><stop offset=".0875" stop-color="#262626"/><stop offset=".1250" stop-color="#434343"/><stop offset=".1625" stop-color="#656565"/><stop offset=".2250" stop-color="#959595"/><stop offset=".2375" stop-color="#9a9a9a"/><stop offset=".2625" stop-color="#9b9b9b"/><stop offset=".2875" stop-color="#939393"/><stop offset=".3375" stop-color="#7b7b7b"/><stop offset=".3625" stop-color="#777777"/><stop offset=".3750" stop-color="#7b7b7b"/><stop offset=".3875" stop-color="#838383"/><stop offset=".4250" stop-color="#a8a8a8"/><stop offset=".4375" stop-color="#afafaf"/><stop offset=".4500" stop-color="#afafaf"/><stop offset=".4750" stop-color="#a2a2a2"/><stop offset=".5000" stop-color="#8e8e8e"/><stop offset=".5250" stop-color="#747474"/><stop offset=".5625" stop-color="#474747"/><stop offset=".6000" stop-color="#202020"/><stop offset=".6125" stop-color="#171717"/><stop offset=".6250" stop-color="#161616"/><stop offset=".6375" stop-color="#212121"/><stop offset=".6750" stop-color="#606060"/><stop offset=".6875" stop-color="#727272"/><stop offset=".7000" stop-color="#7f7f7f"/><stop offset=".7125" stop-color="#8a8a8a"/><stop offset=".7500" stop-color="#a1a1a1"/><stop offset=".8625" stop-color="#c7c7c7"/><stop offset=".8750" stop-color="#c7c7c7"/><stop offset=".8875" stop-color="#c1c1c1"/><stop offset=".9500" stop-color="#8a8a8a"/><stop offset=".9750" stop-color="#797979"/><stop offset="1.0000" stop-color="#6e6e6e"/></linearGradient>
<linearGradient id="r19" gradientUnits="userSpaceOnUse" x1="224.3" y1="0" x2="1171.0" y2="0"><stop offset=".0000" stop-color="#323232"/><stop offset=".0500" stop-color="#0d0d0d"/><stop offset=".0625" stop-color="#080808"/><stop offset=".0750" stop-color="#0f0f0f"/><stop offset=".1000" stop-color="#242424"/><stop offset=".1250" stop-color="#353535"/><stop offset=".1500" stop-color="#535353"/><stop offset=".1625" stop-color="#5e5e5e"/><stop offset=".1875" stop-color="#6c6c6c"/><stop offset=".2125" stop-color="#848484"/><stop offset=".2250" stop-color="#8a8a8a"/><stop offset=".2500" stop-color="#878787"/><stop offset=".2750" stop-color="#8c8c8c"/><stop offset=".3000" stop-color="#878787"/><stop offset=".3375" stop-color="#7a7a7a"/><stop offset=".3500" stop-color="#797979"/><stop offset=".3625" stop-color="#7c7c7c"/><stop offset=".3750" stop-color="#838383"/><stop offset=".3875" stop-color="#8d8d8d"/><stop offset=".4000" stop-color="#9b9b9b"/><stop offset=".4250" stop-color="#c2c2c2"/><stop offset=".4375" stop-color="#d0d0d0"/><stop offset=".4500" stop-color="#cecece"/><stop offset=".4750" stop-color="#bebebe"/><stop offset=".5000" stop-color="#b2b2b2"/><stop offset=".5125" stop-color="#a1a1a1"/><stop offset=".5625" stop-color="#565656"/><stop offset=".6125" stop-color="#1a1a1a"/><stop offset=".6250" stop-color="#121212"/><stop offset=".6375" stop-color="#1f1f1f"/><stop offset=".6625" stop-color="#464646"/><stop offset=".7125" stop-color="#858585"/><stop offset=".7375" stop-color="#a1a1a1"/><stop offset=".7500" stop-color="#acacac"/><stop offset=".7875" stop-color="#b8b8b8"/><stop offset=".8125" stop-color="#c8c8c8"/><stop offset=".8375" stop-color="#cbcbcb"/><stop offset=".8625" stop-color="#d4d4d4"/><stop offset=".8750" stop-color="#d6d6d6"/><stop offset=".8875" stop-color="#cbcbcb"/><stop offset=".9250" stop-color="#999999"/><stop offset=".9375" stop-color="#8b8b8b"/><stop offset=".9750" stop-color="#727272"/><stop offset="1.0000" stop-color="#656565"/></linearGradient>
<linearGradient id="r20" gradientUnits="userSpaceOnUse" x1="224.3" y1="0" x2="1171.0" y2="0"><stop offset=".0000" stop-color="#262626"/><stop offset=".0250" stop-color="#181818"/><stop offset=".0500" stop-color="#010101"/><stop offset=".0625" stop-color="#000000"/><stop offset=".0750" stop-color="#030303"/><stop offset=".0875" stop-color="#111111"/><stop offset=".1000" stop-color="#1d1d1d"/><stop offset=".1125" stop-color="#242424"/><stop offset=".1250" stop-color="#262626"/><stop offset=".1375" stop-color="#3e3e3e"/><stop offset=".1500" stop-color="#505050"/><stop offset=".1625" stop-color="#5d5d5d"/><stop offset=".1750" stop-color="#636363"/><stop offset=".1875" stop-color="#616161"/><stop offset=".2000" stop-color="#767676"/><stop offset=".2125" stop-color="#828282"/><stop offset=".2250" stop-color="#868686"/><stop offset=".2375" stop-color="#828282"/><stop offset=".2500" stop-color="#737373"/><stop offset=".2625" stop-color="#808080"/><stop offset=".2750" stop-color="#858585"/><stop offset=".2875" stop-color="#858585"/><stop offset=".3125" stop-color="#808080"/><stop offset=".3375" stop-color="#777777"/><stop offset=".3500" stop-color="#787878"/><stop offset=".3625" stop-color="#7d7d7d"/><stop offset=".3875" stop-color="#929292"/><stop offset=".4000" stop-color="#a3a3a3"/><stop offset=".4125" stop-color="#bababa"/><stop offset=".4250" stop-color="#d6d6d6"/><stop offset=".4375" stop-color="#fafafa"/><stop offset=".4500" stop-color="#e7e7e7"/><stop offset=".4625" stop-color="#dcdcdc"/><stop offset=".4750" stop-color="#d6d6d6"/><stop offset=".4875" stop-color="#d4d4d4"/><stop offset=".5000" stop-color="#d9d9d9"/><stop offset=".5125" stop-color="#bdbdbd"/><stop offset=".5625" stop-color="#666666"/><stop offset=".5750" stop-color="#5a5a5a"/><stop offset=".5875" stop-color="#4b4b4b"/><stop offset=".6000" stop-color="#393939"/><stop offset=".6125" stop-color="#232323"/><stop offset=".6250" stop-color="#050505"/><stop offset=".6375" stop-color="#222222"/><stop offset=".6500" stop-color="#373737"/><stop offset=".6625" stop-color="#474747"/><stop offset=".6750" stop-color="#525252"/><stop offset=".6875" stop-color="#595959"/><stop offset=".7000" stop-color="#6f6f6f"/><stop offset=".7375" stop-color="#a5a5a5"/><stop offset=".7500" stop-color="#bababa"/><stop offset=".7625" stop-color="#b7b7b7"/><stop offset=".7750" stop-color="#b9b9b9"/><stop offset=".7875" stop-color="#bfbfbf"/><stop offset=".8000" stop-color="#c9c9c9"/><stop offset=".8125" stop-color="#d9d9d9"/><stop offset=".8250" stop-color="#d2d2d2"/><stop offset=".8375" stop-color="#d1d1d1"/><stop offset=".8500" stop-color="#d4d4d4"/><stop offset=".8625" stop-color="#dcdcdc"/><stop offset=".8750" stop-color="#ebebeb"/><stop offset=".8875" stop-color="#d0d0d0"/><stop offset=".9375" stop-color="#7f7f7f"/><stop offset=".9625" stop-color="#737373"/><stop offset="1.0000" stop-color="#595959"/></linearGradient>
<linearGradient id="r21" gradientUnits="userSpaceOnUse" x1="224.3" y1="0" x2="1171.0" y2="0"><stop offset=".0000" stop-color="#242424"/><stop offset=".0500" stop-color="#000000"/><stop offset=".0750" stop-color="#030303"/><stop offset=".1250" stop-color="#323232"/><stop offset=".1500" stop-color="#555555"/><stop offset=".1625" stop-color="#646464"/><stop offset=".2125" stop-color="#8a8a8a"/><stop offset=".2250" stop-color="#8d8d8d"/><stop offset=".2500" stop-color="#858585"/><stop offset=".2750" stop-color="#858585"/><stop offset=".3250" stop-color="#747474"/><stop offset=".3375" stop-color="#717171"/><stop offset=".3500" stop-color="#737373"/><stop offset=".3625" stop-color="#787878"/><stop offset=".3750" stop-color="#838383"/><stop offset=".3875" stop-color="#929292"/><stop offset=".4000" stop-color="#a6a6a6"/><stop offset=".4250" stop-color="#d9d9d9"/><stop offset=".4375" stop-color="#ededed"/><stop offset=".4500" stop-color="#eeeeee"/><stop offset=".5000" stop-color="#dedede"/><stop offset=".5125" stop-color="#cecece"/><stop offset=".5625" stop-color="#838383"/><stop offset=".5875" stop-color="#636363"/><stop offset=".6125" stop-color="#3e3e3e"/><stop offset=".6250" stop-color="#313131"/><stop offset=".6375" stop-color="#373737"/><stop offset=".6625" stop-color="#4e4e4e"/><stop offset=".6875" stop-color="#606060"/><stop offset=".7375" stop-color="#a0a0a0"/><stop offset=".7500" stop-color="#adadad"/><stop offset=".7875" stop-color="#bebebe"/><stop offset=".8125" stop-color="#cecece"/><stop offset=".8375" stop-color="#cfcfcf"/><stop offset=".8625" stop-color="#d5d5d5"/><stop offset=".8750" stop-color="#d5d5d5"/><stop offset=".8875" stop-color="#c9c9c9"/><stop offset=".9375" stop-color="#848484"/><stop offset=".9750" stop-color="#666666"/><stop offset=".9875" stop-color="#5d5d5d"/><stop offset="1.0000" stop-color="#575757"/></linearGradient>
<linearGradient id="r22" gradientUnits="userSpaceOnUse" x1="224.3" y1="0" x2="1171.0" y2="0"><stop offset=".0000" stop-color="#212121"/><stop offset=".0375" stop-color="#070707"/><stop offset=".0500" stop-color="#000000"/><stop offset=".0625" stop-color="#000000"/><stop offset=".0750" stop-color="#060606"/><stop offset=".1125" stop-color="#2d2d2d"/><stop offset=".1250" stop-color="#3d3d3d"/><stop offset=".1625" stop-color="#717171"/><stop offset=".1750" stop-color="#7f7f7f"/><stop offset=".2000" stop-color="#939393"/><stop offset=".2125" stop-color="#999999"/><stop offset=".2250" stop-color="#9b9b9b"/><stop offset=".2500" stop-color="#969696"/><stop offset=".2750" stop-color="#8a8a8a"/><stop offset=".3125" stop-color="#717171"/><stop offset=".3250" stop-color="#6c6c6c"/><stop offset=".3375" stop-color="#696969"/><stop offset=".3500" stop-color="#6a6a6a"/><stop offset=".3625" stop-color="#6f6f6f"/><stop offset=".3750" stop-color="#7a7a7a"/><stop offset=".3875" stop-color="#8b8b8b"/><stop offset=".4000" stop-color="#a2a2a2"/><stop offset=".4250" stop-color="#d5d5d5"/><stop offset=".4375" stop-color="#e8e8e8"/><stop offset=".4500" stop-color="#f0f0f0"/><stop offset=".4625" stop-color="#f1f1f1"/><stop offset=".4875" stop-color="#ececec"/><stop offset=".5000" stop-color="#e6e6e6"/><stop offset=".5125" stop-color="#dbdbdb"/><stop offset=".5500" stop-color="#aeaeae"/><stop offset=".6000" stop-color="#6e6e6e"/><stop offset=".6125" stop-color="#5f5f5f"/><stop offset=".6250" stop-color="#565656"/><stop offset=".6375" stop-color="#535353"/><stop offset=".6500" stop-color="#565656"/><stop offset=".6750" stop-color="#5e5e5e"/><stop offset=".6875" stop-color="#656565"/><stop offset=".7000" stop-color="#707070"/><stop offset=".7375" stop-color="#989898"/><stop offset=".7500" stop-color="#a4a4a4"/><stop offset=".8000" stop-color="#bfbfbf"/><stop offset=".8250" stop-color="#c7c7c7"/><stop offset=".8625" stop-color="#c9c9c9"/><stop offset=".8750" stop-color="#c6c6c6"/><stop offset=".8875" stop-color="#bdbdbd"/><stop offset=".9625" stop-color="#6d6d6d"/><stop offset=".9875" stop-color="#575757"/><stop offset="1.0000" stop-color="#515151"/></linearGradient>
<linearGradient id="r23" gradientUnits="userSpaceOnUse" x1="224.3" y1="0" x2="1171.0" y2="0"><stop offset=".0000" stop-color="#1f1f1f"/><stop offset=".0375" stop-color="#050505"/><stop offset=".0500" stop-color="#000000"/><stop offset=".0625" stop-color="#000000"/><stop offset=".0750" stop-color="#080808"/><stop offset=".1000" stop-color="#252525"/><stop offset=".1250" stop-color="#474747"/><stop offset=".1750" stop-color="#939393"/><stop offset=".1875" stop-color="#a1a1a1"/><stop offset=".2000" stop-color="#a8a8a8"/><stop offset=".2125" stop-color="#ababab"/><stop offset=".2375" stop-color="#adadad"/><stop offset=".2500" stop-color="#a9a9a9"/><stop offset=".2625" stop-color="#9f9f9f"/><stop offset=".3000" stop-color="#737373"/><stop offset=".3125" stop-color="#686868"/><stop offset=".3250" stop-color="#626262"/><stop offset=".3375" stop-color="#606060"/><stop offset=".3625" stop-color="#626262"/><stop offset=".3750" stop-color="#6c6c6c"/><stop offset=".3875" stop-color="#808080"/><stop offset=".4250" stop-color="#d5d5d5"/><stop offset=".4375" stop-color="#e9e9e9"/><stop offset=".4500" stop-color="#f3f3f3"/><stop offset=".4625" stop-color="#f6f6f6"/><stop offset=".4875" stop-color="#f4f4f4"/><stop offset=".5000" stop-color="#f0f0f0"/><stop offset=".5125" stop-color="#e8e8e8"/><stop offset=".5625" stop-color="#bbbbbb"/><stop offset=".6000" stop-color="#8b8b8b"/><stop offset=".6125" stop-color="#7f7f7f"/><stop offset=".6375" stop-color="#6f6f6f"/><stop offset=".6500" stop-color="#696969"/><stop offset=".6750" stop-color="#666666"/><stop offset=".6875" stop-color="#696969"/><stop offset=".7000" stop-color="#707070"/><stop offset=".7500" stop-color="#9b9b9b"/><stop offset=".8000" stop-color="#b7b7b7"/><stop offset=".8250" stop-color="#bebebe"/><stop offset=".8500" stop-color="#bebebe"/><stop offset=".8750" stop-color="#b8b8b8"/><stop offset=".9000" stop-color="#aaaaaa"/><stop offset=".9375" stop-color="#898989"/><stop offset=".9875" stop-color="#505050"/><stop offset="1.0000" stop-color="#494949"/></linearGradient>
<linearGradient id="r24" gradientUnits="userSpaceOnUse" x1="224.3" y1="0" x2="1171.0" y2="0"><stop offset=".0000" stop-color="#1c1c1c"/><stop offset=".0375" stop-color="#040404"/><stop offset=".0500" stop-color="#000000"/><stop offset=".0625" stop-color="#000000"/><stop offset=".0750" stop-color="#070707"/><stop offset=".1375" stop-color="#646464"/><stop offset=".1500" stop-color="#797979"/><stop offset=".1750" stop-color="#a9a9a9"/><stop offset=".1875" stop-color="#bcbcbc"/><stop offset=".2000" stop-color="#bebebe"/><stop offset=".2125" stop-color="#bbbbbb"/><stop offset=".2250" stop-color="#bcbcbc"/><stop offset=".2375" stop-color="#c0c0c0"/><stop offset=".2500" stop-color="#c0c0c0"/><stop offset=".2625" stop-color="#afafaf"/><stop offset=".3000" stop-color="#6d6d6d"/><stop offset=".3125" stop-color="#5d5d5d"/><stop offset=".3250" stop-color="#595959"/><stop offset=".3625" stop-color="#535353"/><stop offset=".3750" stop-color="#575757"/><stop offset=".3875" stop-color="#717171"/><stop offset=".4250" stop-color="#d7d7d7"/><stop offset=".4375" stop-color="#f0f0f0"/><stop offset=".4500" stop-color="#f8f8f8"/><stop offset=".4875" stop-color="#fcfcfc"/><stop offset=".5000" stop-color="#fbfbfb"/><stop offset=".5375" stop-color="#e4e4e4"/><stop offset=".5625" stop-color="#d8d8d8"/><stop offset=".5875" stop-color="#b2b2b2"/><stop offset=".6000" stop-color="#a4a4a4"/><stop offset=".6250" stop-color="#949494"/><stop offset=".6500" stop-color="#7b7b7b"/><stop offset=".6750" stop-color="#6c6c6c"/><stop offset=".6875" stop-color="#696969"/><stop offset=".7000" stop-color="#6f6f6f"/><stop offset=".7500" stop-color="#939393"/><stop offset=".8125" stop-color="#b4b4b4"/><stop offset=".8250" stop-color="#b5b5b5"/><stop offset=".8500" stop-color="#b3b3b3"/><stop offset=".9000" stop-color="#a4a4a4"/><stop offset=".9250" stop-color="#969696"/><stop offset=".9375" stop-color="#8d8d8d"/><stop offset=".9625" stop-color="#6d6d6d"/><stop offset=".9875" stop-color="#484848"/><stop offset="1.0000" stop-color="#3b3b3b"/></linearGradient>
<linearGradient id="r25" gradientUnits="userSpaceOnUse" x1="224.3" y1="0" x2="1171.0" y2="0"><stop offset=".0000" stop-color="#191919"/><stop offset=".0375" stop-color="#040404"/><stop offset=".0500" stop-color="#000000"/><stop offset=".0625" stop-color="#000000"/><stop offset=".0750" stop-color="#090909"/><stop offset=".1000" stop-color="#333333"/><stop offset=".1375" stop-color="#6d6d6d"/><stop offset=".1625" stop-color="#999999"/><stop offset=".1750" stop-color="#b7b7b7"/><stop offset=".1875" stop-color="#dedede"/><stop offset=".2000" stop-color="#cbcbcb"/><stop offset=".2125" stop-color="#c3c3c3"/><stop offset=".2250" stop-color="#c4c4c4"/><stop offset=".2375" stop-color="#cccccc"/><stop offset=".2500" stop-color="#dedede"/><stop offset=".2625" stop-color="#b9b9b9"/><stop offset=".2750" stop-color="#9d9d9d"/><stop offset=".3000" stop-color="#696969"/><stop offset=".3125" stop-color="#4c4c4c"/><stop offset=".3250" stop-color="#545454"/><stop offset=".3375" stop-color="#555555"/><stop offset=".3500" stop-color="#535353"/><stop offset=".3625" stop-color="#4a4a4a"/><stop offset=".3750" stop-color="#383838"/><stop offset=".3875" stop-color="#676767"/><stop offset=".4000" stop-color="#8e8e8e"/><stop offset=".4250" stop-color="#d6d6d6"/><stop offset=".4375" stop-color="#ffffff"/><stop offset=".4500" stop-color="#f9f9f9"/><stop offset=".4625" stop-color="#f8f8f8"/><stop offset=".4875" stop-color="#ffffff"/><stop offset=".5000" stop-color="#ffffff"/><stop offset=".5125" stop-color="#fcfcfc"/><stop offset=".5250" stop-color="#f4f4f4"/><stop offset=".5375" stop-color="#efefef"/><stop offset=".5500" stop-color="#f0f0f0"/><stop offset=".5625" stop-color="#f7f7f7"/><stop offset=".5750" stop-color="#d9d9d9"/><stop offset=".5875" stop-color="#c3c3c3"/><stop offset=".6000" stop-color="#b5b5b5"/><stop offset=".6125" stop-color="#afafaf"/><stop offset=".6250" stop-color="#b3b3b3"/><stop offset=".6375" stop-color="#9a9a9a"/><stop offset=".6500" stop-color="#898989"/><stop offset=".6875" stop-color="#666666"/><stop offset=".7000" stop-color="#707070"/><stop offset=".7500" stop-color="#8c8c8c"/><stop offset=".7625" stop-color="#8f8f8f"/><stop offset=".7875" stop-color="#9b9b9b"/><stop offset=".8125" stop-color="#adadad"/><stop offset=".8500" stop-color="#a8a8a8"/><stop offset=".8750" stop-color="#a1a1a1"/><stop offset=".9000" stop-color="#9e9e9e"/><stop offset=".9375" stop-color="#949494"/><stop offset=".9750" stop-color="#5c5c5c"/><stop offset=".9875" stop-color="#444444"/><stop offset="1.0000" stop-color="#262626"/></linearGradient>
<linearGradient id="r26" gradientUnits="userSpaceOnUse" x1="224.3" y1="0" x2="1171.0" y2="0"><stop offset=".0000" stop-color="#1b1b1b"/><stop offset=".0250" stop-color="#0e0e0e"/><stop offset=".0500" stop-color="#030303"/><stop offset=".0625" stop-color="#050505"/><stop offset=".0750" stop-color="#131313"/><stop offset=".1125" stop-color="#505050"/><stop offset=".1500" stop-color="#868686"/><stop offset=".1750" stop-color="#afafaf"/><stop offset=".1875" stop-color="#c0c0c0"/><stop offset=".2000" stop-color="#c1c1c1"/><stop offset=".2125" stop-color="#bebebe"/><stop offset=".2250" stop-color="#bfbfbf"/><stop offset=".2375" stop-color="#c3c3c3"/><stop offset=".2500" stop-color="#c4c4c4"/><stop offset=".2625" stop-color="#b3b3b3"/><stop offset=".3000" stop-color="#6f6f6f"/><stop offset=".3125" stop-color="#5f5f5f"/><stop offset=".3250" stop-color="#5b5b5b"/><stop offset=".3500" stop-color="#5a5a5a"/><stop offset=".3625" stop-color="#565656"/><stop offset=".3750" stop-color="#595959"/><stop offset=".3875" stop-color="#707070"/><stop offset=".4250" stop-color="#c9c9c9"/><stop offset=".4375" stop-color="#e1e1e1"/><stop offset=".4500" stop-color="#eaeaea"/><stop offset=".5000" stop-color="#fefefe"/><stop offset=".5625" stop-color="#ebebeb"/><stop offset=".5875" stop-color="#c9c9c9"/><stop offset=".6000" stop-color="#bbbbbb"/><stop offset=".6250" stop-color="#acacac"/><stop offset=".6500" stop-color="#929292"/><stop offset=".6625" stop-color="#878787"/><stop offset=".6875" stop-color="#777777"/><stop offset=".7250" stop-color="#787878"/><stop offset=".7500" stop-color="#7d7d7d"/><stop offset=".7750" stop-color="#868686"/><stop offset=".8125" stop-color="#9d9d9d"/><stop offset=".8250" stop-color="#9f9f9f"/><stop offset=".9125" stop-color="#989898"/><stop offset=".9250" stop-color="#969696"/><stop offset=".9375" stop-color="#909090"/><stop offset=".9500" stop-color="#848484"/><stop offset=".9875" stop-color="#515151"/><stop offset="1.0000" stop-color="#444444"/></linearGradient>
<linearGradient id="r27" gradientUnits="userSpaceOnUse" x1="224.3" y1="0" x2="1171.0" y2="0"><stop offset=".0000" stop-color="#1d1d1d"/><stop offset=".0250" stop-color="#111111"/><stop offset=".0375" stop-color="#0d0d0d"/><stop offset=".0500" stop-color="#0d0d0d"/><stop offset=".0625" stop-color="#121212"/><stop offset=".0750" stop-color="#1f1f1f"/><stop offset=".1125" stop-color="#5a5a5a"/><stop offset=".1375" stop-color="#7b7b7b"/><stop offset=".1750" stop-color="#9f9f9f"/><stop offset=".1875" stop-color="#a8a8a8"/><stop offset=".2000" stop-color="#acacac"/><stop offset=".2375" stop-color="#b3b3b3"/><stop offset=".2500" stop-color="#b1b1b1"/><stop offset=".2625" stop-color="#a6a6a6"/><stop offset=".3000" stop-color="#777777"/><stop offset=".3125" stop-color="#6d6d6d"/><stop offset=".3250" stop-color="#686868"/><stop offset=".3375" stop-color="#676767"/><stop offset=".3625" stop-color="#6a6a6a"/><stop offset=".3750" stop-color="#717171"/><stop offset=".3875" stop-color="#7e7e7e"/><stop offset=".4250" stop-color="#b9b9b9"/><stop offset=".4375" stop-color="#cacaca"/><stop offset=".4500" stop-color="#d6d6d6"/><stop offset=".4750" stop-color="#eaeaea"/><stop offset=".4875" stop-color="#f3f3f3"/><stop offset=".5000" stop-color="#f8f8f8"/><stop offset=".5125" stop-color="#f7f7f7"/><stop offset=".5500" stop-color="#eaeaea"/><stop offset=".5625" stop-color="#e2e2e2"/><stop offset=".6000" stop-color="#b9b9b9"/><stop offset=".6375" stop-color="#9e9e9e"/><stop offset=".7375" stop-color="#6e6e6e"/><stop offset=".7500" stop-color="#6c6c6c"/><stop offset=".7625" stop-color="#707070"/><stop offset=".8000" stop-color="#888888"/><stop offset=".8250" stop-color="#939393"/><stop offset=".8500" stop-color="#959595"/><stop offset=".9125" stop-color="#969696"/><stop offset=".9375" stop-color="#909090"/><stop offset=".9500" stop-color="#878787"/><stop offset=".9875" stop-color="#626262"/><stop offset="1.0000" stop-color="#5b5b5b"/></linearGradient>
<linearGradient id="r28" gradientUnits="userSpaceOnUse" x1="224.3" y1="0" x2="1171.0" y2="0"><stop offset=".0000" stop-color="#1d1d1d"/><stop offset=".0125" stop-color="#181818"/><stop offset=".0375" stop-color="#121212"/><stop offset=".0500" stop-color="#131313"/><stop offset=".0625" stop-color="#1a1a1a"/><stop offset=".0750" stop-color="#282828"/><stop offset=".1125" stop-color="#666666"/><stop offset=".1250" stop-color="#787878"/><stop offset=".1375" stop-color="#828282"/><stop offset=".1500" stop-color="#888888"/><stop offset=".1875" stop-color="#919191"/><stop offset=".2250" stop-color="#a2a2a2"/><stop offset=".2375" stop-color="#a4a4a4"/><stop offset=".2500" stop-color="#a2a2a2"/><stop offset=".2625" stop-color="#9c9c9c"/><stop offset=".3000" stop-color="#7d7d7d"/><stop offset=".3125" stop-color="#767676"/><stop offset=".3250" stop-color="#737373"/><stop offset=".3500" stop-color="#777777"/><stop offset=".3875" stop-color="#8b8b8b"/><stop offset=".4125" stop-color="#9d9d9d"/><stop offset=".4375" stop-color="#b4b4b4"/><stop offset=".4875" stop-color="#ebebeb"/><stop offset=".5000" stop-color="#f3f3f3"/><stop offset=".5125" stop-color="#f3f3f3"/><stop offset=".5250" stop-color="#eeeeee"/><stop offset=".5625" stop-color="#d9d9d9"/><stop offset=".6000" stop-color="#b2b2b2"/><stop offset=".6125" stop-color="#a6a6a6"/><stop offset=".6250" stop-color="#9e9e9e"/><stop offset=".6375" stop-color="#9a9a9a"/><stop offset=".6750" stop-color="#999999"/><stop offset=".6875" stop-color="#969696"/><stop offset=".7000" stop-color="#8c8c8c"/><stop offset=".7375" stop-color="#606060"/><stop offset=".7500" stop-color="#595959"/><stop offset=".7625" stop-color="#5c5c5c"/><stop offset=".8000" stop-color="#7b7b7b"/><stop offset=".8250" stop-color="#888888"/><stop offset=".9125" stop-color="#949494"/><stop offset=".9375" stop-color="#929292"/><stop offset=".9500" stop-color="#8c8c8c"/><stop offset=".9875" stop-color="#727272"/><stop offset="1.0000" stop-color="#6d6d6d"/></linearGradient>
<linearGradient id="r29" gradientUnits="userSpaceOnUse" x1="224.3" y1="0" x2="1171.0" y2="0"><stop offset=".0000" stop-color="#1c1c1c"/><stop offset=".0125" stop-color="#191919"/><stop offset=".0375" stop-color="#161616"/><stop offset=".0500" stop-color="#171717"/><stop offset=".0625" stop-color="#1d1d1d"/><stop offset=".0750" stop-color="#2e2e2e"/><stop offset=".1125" stop-color="#747474"/><stop offset=".1250" stop-color="#878787"/><stop offset=".1375" stop-color="#8b8b8b"/><stop offset=".1500" stop-color="#898989"/><stop offset=".1875" stop-color="#787878"/><stop offset=".2125" stop-color="#8c8c8c"/><stop offset=".2250" stop-color="#949494"/><stop offset=".2375" stop-color="#979797"/><stop offset=".2500" stop-color="#969696"/><stop offset=".2750" stop-color="#8f8f8f"/><stop offset=".3125" stop-color="#7c7c7c"/><stop offset=".3250" stop-color="#7c7c7c"/><stop offset=".3375" stop-color="#7f7f7f"/><stop offset=".3500" stop-color="#858585"/><stop offset=".3750" stop-color="#979797"/><stop offset=".4000" stop-color="#949494"/><stop offset=".4250" stop-color="#969696"/><stop offset=".4375" stop-color="#9c9c9c"/><stop offset=".4500" stop-color="#a9a9a9"/><stop offset=".4625" stop-color="#bababa"/><stop offset=".4875" stop-color="#e2e2e2"/><stop offset=".5000" stop-color="#f2f2f2"/><stop offset=".5125" stop-color="#eeeeee"/><stop offset=".5375" stop-color="#dedede"/><stop offset=".5625" stop-color="#d2d2d2"/><stop offset=".6125" stop-color="#9b9b9b"/><stop offset=".6250" stop-color="#929292"/><stop offset=".6375" stop-color="#939393"/><stop offset=".6750" stop-color="#a8a8a8"/><stop offset=".6875" stop-color="#aaaaaa"/><stop offset=".7000" stop-color="#9a9a9a"/><stop offset=".7375" stop-color="#505050"/><stop offset=".7500" stop-color="#3f3f3f"/><stop offset=".7625" stop-color="#484848"/><stop offset=".7875" stop-color="#676767"/><stop offset=".8000" stop-color="#727272"/><stop offset=".8125" stop-color="#797979"/><stop offset=".8375" stop-color="#838383"/><stop offset=".8750" stop-color="#888888"/><stop offset=".9250" stop-color="#979797"/><stop offset=".9375" stop-color="#989898"/><stop offset=".9750" stop-color="#868686"/><stop offset="1.0000" stop-color="#7d7d7d"/></linearGradient>
<linearGradient id="r30" gradientUnits="userSpaceOnUse" x1="224.3" y1="0" x2="1171.0" y2="0"><stop offset=".0000" stop-color="#1a1a1a"/><stop offset=".0250" stop-color="#1b1b1b"/><stop offset=".0625" stop-color="#191919"/><stop offset=".1000" stop-color="#656565"/><stop offset=".1125" stop-color="#808080"/><stop offset=".1250" stop-color="#9e9e9e"/><stop offset=".1625" stop-color="#808080"/><stop offset=".1750" stop-color="#717171"/><stop offset=".1875" stop-color="#595959"/><stop offset=".2000" stop-color="#727272"/><stop offset=".2125" stop-color="#828282"/><stop offset=".2250" stop-color="#8a8a8a"/><stop offset=".2375" stop-color="#8e8e8e"/><stop offset=".2500" stop-color="#8c8c8c"/><stop offset=".2625" stop-color="#8f8f8f"/><stop offset=".2750" stop-color="#8d8d8d"/><stop offset=".3125" stop-color="#7f7f7f"/><stop offset=".3250" stop-color="#828282"/><stop offset=".3500" stop-color="#8e8e8e"/><stop offset=".3625" stop-color="#9a9a9a"/><stop offset=".3750" stop-color="#adadad"/><stop offset=".3875" stop-color="#9c9c9c"/><stop offset=".4000" stop-color="#919191"/><stop offset=".4375" stop-color="#7f7f7f"/><stop offset=".4625" stop-color="#a3a3a3"/><stop offset=".4750" stop-color="#b8b8b8"/><stop offset=".4875" stop-color="#d3d3d3"/><stop offset=".5000" stop-color="#f7f7f7"/><stop offset=".5125" stop-color="#e1e1e1"/><stop offset=".5250" stop-color="#d4d4d4"/><stop offset=".5375" stop-color="#cecece"/><stop offset=".5625" stop-color="#cccccc"/><stop offset=".6250" stop-color="#7f7f7f"/><stop offset=".6625" stop-color="#a3a3a3"/><stop offset=".6750" stop-color="#b2b2b2"/><stop offset=".6875" stop-color="#c7c7c7"/><stop offset=".7000" stop-color="#a5a5a5"/><stop offset=".7250" stop-color="#6a6a6a"/><stop offset=".7375" stop-color="#474747"/><stop offset=".7500" stop-color="#191919"/><stop offset=".7625" stop-color="#3c3c3c"/><stop offset=".7750" stop-color="#535353"/><stop offset=".7875" stop-color="#626262"/><stop offset=".8000" stop-color="#6c6c6c"/><stop offset=".8125" stop-color="#737373"/><stop offset=".8375" stop-color="#7c7c7c"/><stop offset=".8750" stop-color="#808080"/><stop offset=".9125" stop-color="#919191"/><stop offset=".9375" stop-color="#a1a1a1"/><stop offset=".9625" stop-color="#939393"/><stop offset=".9875" stop-color="#8c8c8c"/><stop offset="1.0000" stop-color="#8c8c8c"/></linearGradient>
<linearGradient id="r31" gradientUnits="userSpaceOnUse" x1="224.3" y1="0" x2="1171.0" y2="0"><stop offset=".0000" stop-color="#252525"/><stop offset=".0125" stop-color="#222222"/><stop offset=".0375" stop-color="#222222"/><stop offset=".0500" stop-color="#242424"/><stop offset=".0625" stop-color="#2a2a2a"/><stop offset=".0750" stop-color="#3c3c3c"/><stop offset=".1125" stop-color="#818181"/><stop offset=".1250" stop-color="#919191"/><stop offset=".1375" stop-color="#929292"/><stop offset=".1500" stop-color="#8b8b8b"/><stop offset=".1750" stop-color="#757575"/><stop offset=".1875" stop-color="#6d6d6d"/><stop offset=".2000" stop-color="#747474"/><stop offset=".2250" stop-color="#878787"/><stop offset=".2375" stop-color="#8b8b8b"/><stop offset=".2625" stop-color="#8e8e8e"/><stop offset=".3125" stop-color="#878787"/><stop offset=".3250" stop-color="#888888"/><stop offset=".3750" stop-color="#9b9b9b"/><stop offset=".3875" stop-color="#939393"/><stop offset=".4125" stop-color="#7d7d7d"/><stop offset=".4250" stop-color="#767676"/><stop offset=".4375" stop-color="#737373"/><stop offset=".4500" stop-color="#7b7b7b"/><stop offset=".4625" stop-color="#888888"/><stop offset=".5000" stop-color="#bfbfbf"/><stop offset=".5125" stop-color="#bebebe"/><stop offset=".5250" stop-color="#bababa"/><stop offset=".5625" stop-color="#b6b6b6"/><stop offset=".5750" stop-color="#aeaeae"/><stop offset=".6125" stop-color="#8c8c8c"/><stop offset=".6250" stop-color="#868686"/><stop offset=".6375" stop-color="#8b8b8b"/><stop offset=".6750" stop-color="#aeaeae"/><stop offset=".6875" stop-color="#b2b2b2"/><stop offset=".7000" stop-color="#a4a4a4"/><stop offset=".7125" stop-color="#8d8d8d"/><stop offset=".7375" stop-color="#585858"/><stop offset=".7500" stop-color="#454545"/><stop offset=".7625" stop-color="#4b4b4b"/><stop offset=".7875" stop-color="#636363"/><stop offset=".8000" stop-color="#6b6b6b"/><stop offset=".8250" stop-color="#747474"/><stop offset=".8750" stop-color="#7c7c7c"/><stop offset=".9375" stop-color="#989898"/><stop offset="1.0000" stop-color="#949494"/></linearGradient>
<linearGradient id="r32" gradientUnits="userSpaceOnUse" x1="224.3" y1="0" x2="1171.0" y2="0"><stop offset=".0000" stop-color="#2d2d2d"/><stop offset=".0125" stop-color="#2a2a2a"/><stop offset=".0375" stop-color="#2a2a2a"/><stop offset=".0500" stop-color="#2d2d2d"/><stop offset=".0625" stop-color="#353535"/><stop offset=".0750" stop-color="#454545"/><stop offset=".1125" stop-color="#818181"/><stop offset=".1250" stop-color="#8d8d8d"/><stop offset=".1375" stop-color="#909090"/><stop offset=".1500" stop-color="#8c8c8c"/><stop offset=".1750" stop-color="#7e7e7e"/><stop offset=".1875" stop-color="#7a7a7a"/><stop offset=".2000" stop-color="#7c7c7c"/><stop offset=".2250" stop-color="#888888"/><stop offset=".2500" stop-color="#8f8f8f"/><stop offset=".3125" stop-color="#8c8c8c"/><stop offset=".3625" stop-color="#909090"/><stop offset=".3750" stop-color="#8e8e8e"/><stop offset=".3875" stop-color="#878787"/><stop offset=".4250" stop-color="#666666"/><stop offset=".4375" stop-color="#616161"/><stop offset=".4500" stop-color="#636363"/><stop offset=".4625" stop-color="#6b6b6b"/><stop offset=".5000" stop-color="#8c8c8c"/><stop offset=".5125" stop-color="#949494"/><stop offset=".5500" stop-color="#a2a2a2"/><stop offset=".5625" stop-color="#a3a3a3"/><stop offset=".5750" stop-color="#9f9f9f"/><stop offset=".6125" stop-color="#888888"/><stop offset=".6250" stop-color="#858585"/><stop offset=".6375" stop-color="#898989"/><stop offset=".6750" stop-color="#a6a6a6"/><stop offset=".6875" stop-color="#a8a8a8"/><stop offset=".7000" stop-color="#a1a1a1"/><stop offset=".7375" stop-color="#707070"/><stop offset=".7500" stop-color="#656565"/><stop offset=".7625" stop-color="#636363"/><stop offset=".8125" stop-color="#707070"/><stop offset=".8750" stop-color="#777777"/><stop offset=".9000" stop-color="#808080"/><stop offset=".9375" stop-color="#929292"/><stop offset=".9750" stop-color="#9a9a9a"/><stop offset="1.0000" stop-color="#9d9d9d"/></linearGradient>
<linearGradient id="r33" gradientUnits="userSpaceOnUse" x1="224.3" y1="0" x2="1171.0" y2="0"><stop offset=".0000" stop-color="#353535"/><stop offset=".0125" stop-color="#323232"/><stop offset=".0375" stop-color="#323232"/><stop offset=".0500" stop-color="#343434"/><stop offset=".0625" stop-color="#3c3c3c"/><stop offset=".0750" stop-color="#4b4b4b"/><stop offset=".1000" stop-color="#737373"/><stop offset=".1125" stop-color="#848484"/><stop offset=".1250" stop-color="#909090"/><stop offset=".1375" stop-color="#929292"/><stop offset=".1875" stop-color="#838383"/><stop offset=".2125" stop-color="#858585"/><stop offset=".2500" stop-color="#929292"/><stop offset=".3625" stop-color="#898989"/><stop offset=".3750" stop-color="#858585"/><stop offset=".3875" stop-color="#7b7b7b"/><stop offset=".4250" stop-color="#535353"/><stop offset=".4375" stop-color="#4a4a4a"/><stop offset=".4500" stop-color="#494949"/><stop offset=".4875" stop-color="#555555"/><stop offset=".5000" stop-color="#5c5c5c"/><stop offset=".5375" stop-color="#858585"/><stop offset=".5500" stop-color="#8e8e8e"/><stop offset=".5625" stop-color="#939393"/><stop offset=".5750" stop-color="#949494"/><stop offset=".5875" stop-color="#909090"/><stop offset=".6125" stop-color="#828282"/><stop offset=".6250" stop-color="#808080"/><stop offset=".6375" stop-color="#858585"/><stop offset=".6750" stop-color="#a2a2a2"/><stop offset=".6875" stop-color="#a5a5a5"/><stop offset=".7000" stop-color="#a1a1a1"/><stop offset=".7375" stop-color="#868686"/><stop offset=".7750" stop-color="#747474"/><stop offset=".8625" stop-color="#6e6e6e"/><stop offset=".9000" stop-color="#797979"/><stop offset=".9750" stop-color="#9e9e9e"/><stop offset="1.0000" stop-color="#a6a6a6"/></linearGradient>
<linearGradient id="r34" gradientUnits="userSpaceOnUse" x1="224.3" y1="0" x2="1171.0" y2="0"><stop offset=".0000" stop-color="#3b3b3b"/><stop offset=".0500" stop-color="#393939"/><stop offset=".0625" stop-color="#3d3d3d"/><stop offset=".0750" stop-color="#4e4e4e"/><stop offset=".1000" stop-color="#797979"/><stop offset=".1125" stop-color="#8c8c8c"/><stop offset=".1250" stop-color="#979797"/><stop offset=".1375" stop-color="#979797"/><stop offset=".1625" stop-color="#8d8d8d"/><stop offset=".2000" stop-color="#858585"/><stop offset=".2125" stop-color="#858585"/><stop offset=".2250" stop-color="#888888"/><stop offset=".2500" stop-color="#979797"/><stop offset=".2750" stop-color="#8e8e8e"/><stop offset=".2875" stop-color="#8d8d8d"/><stop offset=".3125" stop-color="#919191"/><stop offset=".3625" stop-color="#848484"/><stop offset=".3750" stop-color="#7e7e7e"/><stop offset=".3875" stop-color="#727272"/><stop offset=".4000" stop-color="#636363"/><stop offset=".4250" stop-color="#3e3e3e"/><stop offset=".4375" stop-color="#2f2f2f"/><stop offset=".4750" stop-color="#2e2e2e"/><stop offset=".4875" stop-color="#2a2a2a"/><stop offset=".5000" stop-color="#2a2a2a"/><stop offset=".5125" stop-color="#404040"/><stop offset=".5250" stop-color="#5a5a5a"/><stop offset=".5375" stop-color="#707070"/><stop offset=".5500" stop-color="#7f7f7f"/><stop offset=".5625" stop-color="#898989"/><stop offset=".5750" stop-color="#8d8d8d"/><stop offset=".5875" stop-color="#8b8b8b"/><stop offset=".6250" stop-color="#767676"/><stop offset=".6375" stop-color="#7e7e7e"/><stop offset=".6750" stop-color="#a1a1a1"/><stop offset=".6875" stop-color="#a7a7a7"/><stop offset=".7250" stop-color="#999999"/><stop offset=".7500" stop-color="#989898"/><stop offset=".7750" stop-color="#808080"/><stop offset=".7875" stop-color="#787878"/><stop offset=".8375" stop-color="#696969"/><stop offset=".8625" stop-color="#676767"/><stop offset=".8875" stop-color="#6b6b6b"/><stop offset=".9125" stop-color="#767676"/><stop offset=".9500" stop-color="#8f8f8f"/><stop offset=".9875" stop-color="#aaaaaa"/><stop offset="1.0000" stop-color="#b1b1b1"/></linearGradient>
<linearGradient id="r35" gradientUnits="userSpaceOnUse" x1="224.3" y1="0" x2="1171.0" y2="0"><stop offset=".0000" stop-color="#404040"/><stop offset=".0250" stop-color="#474747"/><stop offset=".0375" stop-color="#464646"/><stop offset=".0500" stop-color="#424242"/><stop offset=".0625" stop-color="#383838"/><stop offset=".0750" stop-color="#565656"/><stop offset=".0875" stop-color="#6d6d6d"/><stop offset=".1250" stop-color="#a6a6a6"/><stop offset=".1500" stop-color="#929292"/><stop offset=".1625" stop-color="#8c8c8c"/><stop offset=".1750" stop-color="#898989"/><stop offset=".1875" stop-color="#8c8c8c"/><stop offset=".2000" stop-color="#818181"/><stop offset=".2125" stop-color="#7e7e7e"/><stop offset=".2250" stop-color="#818181"/><stop offset=".2375" stop-color="#8b8b8b"/><stop offset=".2500" stop-color="#9e9e9e"/><stop offset=".2625" stop-color="#8e8e8e"/><stop offset=".2750" stop-color="#868686"/><stop offset=".2875" stop-color="#858585"/><stop offset=".3000" stop-color="#898989"/><stop offset=".3125" stop-color="#949494"/><stop offset=".3250" stop-color="#898989"/><stop offset=".3375" stop-color="#848484"/><stop offset=".3750" stop-color="#7a7a7a"/><stop offset=".4000" stop-color="#5b5b5b"/><stop offset=".4125" stop-color="#474747"/><stop offset=".4250" stop-color="#2e2e2e"/><stop offset=".4375" stop-color="#0f0f0f"/><stop offset=".4500" stop-color="#191919"/><stop offset=".4625" stop-color="#1b1b1b"/><stop offset=".4750" stop-color="#161616"/><stop offset=".4875" stop-color="#0a0a0a"/><stop offset=".5000" stop-color="#000000"/><stop offset=".5250" stop-color="#464646"/><stop offset=".5375" stop-color="#626262"/><stop offset=".5500" stop-color="#777777"/><stop offset=".5625" stop-color="#858585"/><stop offset=".5750" stop-color="#8c8c8c"/><stop offset=".5875" stop-color="#8c8c8c"/><stop offset=".6000" stop-color="#878787"/><stop offset=".6125" stop-color="#7a7a7a"/><stop offset=".6250" stop-color="#666666"/><stop offset=".6375" stop-color="#7b7b7b"/><stop offset=".6500" stop-color="#8a8a8a"/><stop offset=".6875" stop-color="#adadad"/><stop offset=".7000" stop-color="#a3a3a3"/><stop offset=".7125" stop-color="#9d9d9d"/><stop offset=".7250" stop-color="#9c9c9c"/><stop offset=".7375" stop-color="#a2a2a2"/><stop offset=".7500" stop-color="#b2b2b2"/><stop offset=".7625" stop-color="#969696"/><stop offset=".7750" stop-color="#848484"/><stop offset=".7875" stop-color="#797979"/><stop offset=".8000" stop-color="#737373"/><stop offset=".8125" stop-color="#737373"/><stop offset=".8250" stop-color="#686868"/><stop offset=".8375" stop-color="#626262"/><stop offset=".8625" stop-color="#5d5d5d"/><stop offset=".8875" stop-color="#606060"/><stop offset=".9000" stop-color="#656565"/><stop offset=".9250" stop-color="#757575"/><stop offset=".9625" stop-color="#959595"/><stop offset=".9875" stop-color="#afafaf"/><stop offset="1.0000" stop-color="#bfbfbf"/></linearGradient>
<linearGradient id="r36" gradientUnits="userSpaceOnUse" x1="224.3" y1="0" x2="1171.0" y2="0"><stop offset=".0000" stop-color="#535353"/><stop offset=".0625" stop-color="#5c5c5c"/><stop offset=".1000" stop-color="#898989"/><stop offset=".1125" stop-color="#959595"/><stop offset=".1250" stop-color="#9b9b9b"/><stop offset=".1375" stop-color="#969696"/><stop offset=".1625" stop-color="#848484"/><stop offset=".2125" stop-color="#6f6f6f"/><stop offset=".2250" stop-color="#707070"/><stop offset=".2500" stop-color="#7b7b7b"/><stop offset=".2750" stop-color="#747474"/><stop offset=".2875" stop-color="#747474"/><stop offset=".3125" stop-color="#7d7d7d"/><stop offset=".3625" stop-color="#757575"/><stop offset=".3750" stop-color="#707070"/><stop offset=".3875" stop-color="#656565"/><stop offset=".4000" stop-color="#555555"/><stop offset=".4375" stop-color="#1c1c1c"/><stop offset=".4625" stop-color="#131313"/><stop offset=".4875" stop-color="#050505"/><stop offset=".5000" stop-color="#050505"/><stop offset=".5125" stop-color="#1f1f1f"/><stop offset=".5250" stop-color="#404040"/><stop offset=".5375" stop-color="#5e5e5e"/><stop offset=".5500" stop-color="#767676"/><stop offset=".5625" stop-color="#888888"/><stop offset=".5750" stop-color="#919191"/><stop offset=".5875" stop-color="#949494"/><stop offset=".6000" stop-color="#919191"/><stop offset=".6250" stop-color="#828282"/><stop offset=".6750" stop-color="#9a9a9a"/><stop offset=".6875" stop-color="#9d9d9d"/><stop offset=".7125" stop-color="#969696"/><stop offset=".7500" stop-color="#999999"/><stop offset=".7750" stop-color="#7e7e7e"/><stop offset=".7875" stop-color="#737373"/><stop offset=".8000" stop-color="#6b6b6b"/><stop offset=".8375" stop-color="#565656"/><stop offset=".8500" stop-color="#525252"/><stop offset=".8750" stop-color="#505050"/><stop offset=".9000" stop-color="#585858"/><stop offset=".9250" stop-color="#696969"/><stop offset=".9500" stop-color="#828282"/><stop offset=".9875" stop-color="#adadad"/><stop offset="1.0000" stop-color="#b7b7b7"/></linearGradient>
<linearGradient id="r37" gradientUnits="userSpaceOnUse" x1="224.3" y1="0" x2="1171.0" y2="0"><stop offset=".0000" stop-color="#646464"/><stop offset=".0500" stop-color="#747474"/><stop offset=".0625" stop-color="#7a7a7a"/><stop offset=".1000" stop-color="#929292"/><stop offset=".1125" stop-color="#979797"/><stop offset=".1250" stop-color="#979797"/><stop offset=".1375" stop-color="#909090"/><stop offset=".1750" stop-color="#6e6e6e"/><stop offset=".2000" stop-color="#5e5e5e"/><stop offset=".2125" stop-color="#595959"/><stop offset=".2250" stop-color="#575757"/><stop offset=".2750" stop-color="#5b5b5b"/><stop offset=".3250" stop-color="#6a6a6a"/><stop offset=".3500" stop-color="#6d6d6d"/><stop offset=".3625" stop-color="#6d6d6d"/><stop offset=".3750" stop-color="#696969"/><stop offset=".3875" stop-color="#606060"/><stop offset=".4000" stop-color="#535353"/><stop offset=".4375" stop-color="#252525"/><stop offset=".4500" stop-color="#1b1b1b"/><stop offset=".4750" stop-color="#0c0c0c"/><stop offset=".4875" stop-color="#090909"/><stop offset=".5000" stop-color="#0f0f0f"/><stop offset=".5125" stop-color="#252525"/><stop offset=".5375" stop-color="#626262"/><stop offset=".5500" stop-color="#7e7e7e"/><stop offset=".5625" stop-color="#929292"/><stop offset=".5750" stop-color="#9e9e9e"/><stop offset=".5875" stop-color="#a3a3a3"/><stop offset=".6000" stop-color="#a2a2a2"/><stop offset=".6375" stop-color="#989898"/><stop offset=".7500" stop-color="#838383"/><stop offset=".8000" stop-color="#5e5e5e"/><stop offset=".8250" stop-color="#4f4f4f"/><stop offset=".8500" stop-color="#434343"/><stop offset=".8750" stop-color="#404040"/><stop offset=".9000" stop-color="#4a4a4a"/><stop offset=".9250" stop-color="#5c5c5c"/><stop offset=".9500" stop-color="#787878"/><stop offset=".9875" stop-color="#aaaaaa"/><stop offset="1.0000" stop-color="#b4b4b4"/></linearGradient>
<linearGradient id="r38" gradientUnits="userSpaceOnUse" x1="224.3" y1="0" x2="1171.0" y2="0"><stop offset=".0000" stop-color="#747474"/><stop offset=".0250" stop-color="#808080"/><stop offset=".0625" stop-color="#979797"/><stop offset=".0875" stop-color="#9c9c9c"/><stop offset=".1125" stop-color="#9b9b9b"/><stop offset=".1250" stop-color="#969696"/><stop offset=".1375" stop-color="#8b8b8b"/><stop offset=".1750" stop-color="#5b5b5b"/><stop offset=".1875" stop-color="#4e4e4e"/><stop offset=".2000" stop-color="#454545"/><stop offset=".2125" stop-color="#404040"/><stop offset=".2375" stop-color="#393939"/><stop offset=".2500" stop-color="#383838"/><stop offset=".3000" stop-color="#4a4a4a"/><stop offset=".3500" stop-color="#646464"/><stop offset=".3625" stop-color="#676767"/><stop offset=".3750" stop-color="#656565"/><stop offset=".3875" stop-color="#5f5f5f"/><stop offset=".4000" stop-color="#545454"/><stop offset=".4375" stop-color="#2d2d2d"/><stop offset=".4625" stop-color="#171717"/><stop offset=".4750" stop-color="#0e0e0e"/><stop offset=".4875" stop-color="#0b0b0b"/><stop offset=".5000" stop-color="#121212"/><stop offset=".5125" stop-color="#282828"/><stop offset=".5500" stop-color="#8c8c8c"/><stop offset=".5625" stop-color="#a4a4a4"/><stop offset=".5750" stop-color="#b1b1b1"/><stop offset=".5875" stop-color="#b5b5b5"/><stop offset=".6125" stop-color="#b6b6b6"/><stop offset=".6250" stop-color="#b2b2b2"/><stop offset=".6375" stop-color="#aaaaaa"/><stop offset=".6750" stop-color="#888888"/><stop offset=".6875" stop-color="#808080"/><stop offset=".7250" stop-color="#797979"/><stop offset=".7500" stop-color="#707070"/><stop offset=".7750" stop-color="#636363"/><stop offset=".8250" stop-color="#404040"/><stop offset=".8625" stop-color="#2f2f2f"/><stop offset=".8750" stop-color="#2e2e2e"/><stop offset=".8875" stop-color="#333333"/><stop offset=".9000" stop-color="#3b3b3b"/><stop offset=".9250" stop-color="#4d4d4d"/><stop offset=".9375" stop-color="#5b5b5b"/><stop offset=".9500" stop-color="#6d6d6d"/><stop offset=".9750" stop-color="#989898"/><stop offset=".9875" stop-color="#aaaaaa"/><stop offset="1.0000" stop-color="#b6b6b6"/></linearGradient>
<linearGradient id="r39" gradientUnits="userSpaceOnUse" x1="224.3" y1="0" x2="1171.0" y2="0"><stop offset=".0000" stop-color="#818181"/><stop offset=".0250" stop-color="#939393"/><stop offset=".0500" stop-color="#acacac"/><stop offset=".0625" stop-color="#b6b6b6"/><stop offset=".0750" stop-color="#b3b3b3"/><stop offset=".1125" stop-color="#a1a1a1"/><stop offset=".1250" stop-color="#989898"/><stop offset=".1375" stop-color="#878787"/><stop offset=".1750" stop-color="#464646"/><stop offset=".1875" stop-color="#343434"/><stop offset=".2375" stop-color="#191919"/><stop offset=".2500" stop-color="#141414"/><stop offset=".2875" stop-color="#2e2e2e"/><stop offset=".3125" stop-color="#383838"/><stop offset=".3375" stop-color="#535353"/><stop offset=".3500" stop-color="#5d5d5d"/><stop offset=".3625" stop-color="#646464"/><stop offset=".3750" stop-color="#666666"/><stop offset=".3875" stop-color="#616161"/><stop offset=".4000" stop-color="#585858"/><stop offset=".4625" stop-color="#1d1d1d"/><stop offset=".4875" stop-color="#090909"/><stop offset=".5000" stop-color="#0b0b0b"/><stop offset=".5125" stop-color="#282828"/><stop offset=".5500" stop-color="#a1a1a1"/><stop offset=".5625" stop-color="#bfbfbf"/><stop offset=".5750" stop-color="#c8c8c8"/><stop offset=".6125" stop-color="#cdcdcd"/><stop offset=".6250" stop-color="#cccccc"/><stop offset=".6375" stop-color="#bcbcbc"/><stop offset=".6750" stop-color="#7f7f7f"/><stop offset=".6875" stop-color="#707070"/><stop offset=".7250" stop-color="#6d6d6d"/><stop offset=".7500" stop-color="#5e5e5e"/><stop offset=".7750" stop-color="#565656"/><stop offset=".7875" stop-color="#4d4d4d"/><stop offset=".8125" stop-color="#373737"/><stop offset=".8625" stop-color="#1d1d1d"/><stop offset=".8750" stop-color="#191919"/><stop offset=".9375" stop-color="#494949"/><stop offset=".9500" stop-color="#616161"/><stop offset=".9750" stop-color="#979797"/><stop offset=".9875" stop-color="#adadad"/><stop offset="1.0000" stop-color="#bdbdbd"/></linearGradient>
<linearGradient id="r40" gradientUnits="userSpaceOnUse" x1="224.3" y1="0" x2="1171.0" y2="0"><stop offset=".0000" stop-color="#8c8c8c"/><stop offset=".0375" stop-color="#b2b2b2"/><stop offset=".0500" stop-color="#c3c3c3"/><stop offset=".0625" stop-color="#d9d9d9"/><stop offset=".0750" stop-color="#c6c6c6"/><stop offset=".0875" stop-color="#b9b9b9"/><stop offset=".1125" stop-color="#a5a5a5"/><stop offset=".1250" stop-color="#9e9e9e"/><stop offset=".1625" stop-color="#505050"/><stop offset=".1750" stop-color="#343434"/><stop offset=".1875" stop-color="#141414"/><stop offset=".2000" stop-color="#161616"/><stop offset=".2125" stop-color="#131313"/><stop offset=".2250" stop-color="#0b0b0b"/><stop offset=".2375" stop-color="#000000"/><stop offset=".2500" stop-color="#000000"/><stop offset=".2625" stop-color="#030303"/><stop offset=".2750" stop-color="#131313"/><stop offset=".2875" stop-color="#1d1d1d"/><stop offset=".3000" stop-color="#212121"/><stop offset=".3125" stop-color="#1f1f1f"/><stop offset=".3250" stop-color="#383838"/><stop offset=".3375" stop-color="#4c4c4c"/><stop offset=".3500" stop-color="#5a5a5a"/><stop offset=".3625" stop-color="#646464"/><stop offset=".3750" stop-color="#6b6b6b"/><stop offset=".3875" stop-color="#646464"/><stop offset=".4375" stop-color="#404040"/><stop offset=".4500" stop-color="#313131"/><stop offset=".5000" stop-color="#000000"/><stop offset=".5500" stop-color="#b4b4b4"/><stop offset=".5625" stop-color="#e5e5e5"/><stop offset=".5750" stop-color="#dbdbdb"/><stop offset=".5875" stop-color="#d7d7d7"/><stop offset=".6000" stop-color="#d8d8d8"/><stop offset=".6125" stop-color="#dedede"/><stop offset=".6250" stop-color="#ededed"/><stop offset=".6375" stop-color="#c9c9c9"/><stop offset=".6500" stop-color="#adadad"/><stop offset=".6750" stop-color="#797979"/><stop offset=".6875" stop-color="#595959"/><stop offset=".7000" stop-color="#656565"/><stop offset=".7125" stop-color="#696969"/><stop offset=".7250" stop-color="#676767"/><stop offset=".7375" stop-color="#5e5e5e"/><stop offset=".7500" stop-color="#4c4c4c"/><stop offset=".7625" stop-color="#515151"/><stop offset=".7750" stop-color="#4e4e4e"/><stop offset=".7875" stop-color="#454545"/><stop offset=".8000" stop-color="#383838"/><stop offset=".8125" stop-color="#262626"/><stop offset=".8250" stop-color="#242424"/><stop offset=".8500" stop-color="#181818"/><stop offset=".8625" stop-color="#0e0e0e"/><stop offset=".8750" stop-color="#000000"/><stop offset=".8875" stop-color="#151515"/><stop offset=".9000" stop-color="#252525"/><stop offset=".9125" stop-color="#303030"/><stop offset=".9250" stop-color="#363636"/><stop offset=".9375" stop-color="#333333"/><stop offset=".9500" stop-color="#5b5b5b"/><stop offset=".9625" stop-color="#7b7b7b"/><stop offset="1.0000" stop-color="#cccccc"/></linearGradient>
<linearGradient id="r41" gradientUnits="userSpaceOnUse" x1="224.3" y1="0" x2="1171.0" y2="0"><stop offset=".0000" stop-color="#9d9d9d"/><stop offset=".0250" stop-color="#b3b3b3"/><stop offset=".0500" stop-color="#cdcdcd"/><stop offset=".0625" stop-color="#d4d4d4"/><stop offset=".0750" stop-color="#cdcdcd"/><stop offset=".1125" stop-color="#a3a3a3"/><stop offset=".1250" stop-color="#939393"/><stop offset=".1375" stop-color="#7c7c7c"/><stop offset=".1750" stop-color="#2c2c2c"/><stop offset=".1875" stop-color="#161616"/><stop offset=".2000" stop-color="#0b0b0b"/><stop offset=".2250" stop-color="#000000"/><stop offset=".2625" stop-color="#000000"/><stop offset=".3125" stop-color="#252525"/><stop offset=".3375" stop-color="#4a4a4a"/><stop offset=".3500" stop-color="#5a5a5a"/><stop offset=".3625" stop-color="#666666"/><stop offset=".3750" stop-color="#6b6b6b"/><stop offset=".3875" stop-color="#686868"/><stop offset=".4000" stop-color="#606060"/><stop offset=".4500" stop-color="#383838"/><stop offset=".4750" stop-color="#262626"/><stop offset=".4875" stop-color="#202020"/><stop offset=".5000" stop-color="#252525"/><stop offset=".5125" stop-color="#424242"/><stop offset=".5500" stop-color="#b9b9b9"/><stop offset=".5625" stop-color="#d6d6d6"/><stop offset=".5750" stop-color="#dddddd"/><stop offset=".6125" stop-color="#dcdcdc"/><stop offset=".6250" stop-color="#d9d9d9"/><stop offset=".6375" stop-color="#c6c6c6"/><stop offset=".6750" stop-color="#808080"/><stop offset=".6875" stop-color="#6f6f6f"/><stop offset=".7250" stop-color="#6a6a6a"/><stop offset=".7500" stop-color="#5a5a5a"/><stop offset=".7750" stop-color="#4d4d4d"/><stop offset=".7875" stop-color="#424242"/><stop offset=".8125" stop-color="#282828"/><stop offset=".8250" stop-color="#1f1f1f"/><stop offset=".8625" stop-color="#0b0b0b"/><stop offset=".8750" stop-color="#090909"/><stop offset=".8875" stop-color="#151515"/><stop offset=".9125" stop-color="#333333"/><stop offset=".9375" stop-color="#4c4c4c"/><stop offset=".9750" stop-color="#969696"/><stop offset=".9875" stop-color="#aaaaaa"/><stop offset="1.0000" stop-color="#b8b8b8"/></linearGradient>
<linearGradient id="r42" gradientUnits="userSpaceOnUse" x1="224.3" y1="0" x2="1171.0" y2="0"><stop offset=".0000" stop-color="#ababab"/><stop offset=".0500" stop-color="#d2d2d2"/><stop offset=".0625" stop-color="#d5d5d5"/><stop offset=".0750" stop-color="#cfcfcf"/><stop offset=".0875" stop-color="#c2c2c2"/><stop offset=".1000" stop-color="#b1b1b1"/><stop offset=".1250" stop-color="#8b8b8b"/><stop offset=".1375" stop-color="#737373"/><stop offset=".1750" stop-color="#262626"/><stop offset=".1875" stop-color="#121212"/><stop offset=".2000" stop-color="#050505"/><stop offset=".2125" stop-color="#000000"/><stop offset=".2625" stop-color="#000000"/><stop offset=".2750" stop-color="#040404"/><stop offset=".3000" stop-color="#1b1b1b"/><stop offset=".3125" stop-color="#282828"/><stop offset=".3500" stop-color="#5e5e5e"/><stop offset=".3625" stop-color="#6b6b6b"/><stop offset=".3750" stop-color="#707070"/><stop offset=".3875" stop-color="#6e6e6e"/><stop offset=".4000" stop-color="#666666"/><stop offset=".4250" stop-color="#4f4f4f"/><stop offset=".4500" stop-color="#3d3d3d"/><stop offset=".4750" stop-color="#363636"/><stop offset=".4875" stop-color="#393939"/><stop offset=".5000" stop-color="#454545"/><stop offset=".5125" stop-color="#5c5c5c"/><stop offset=".5500" stop-color="#bbbbbb"/><stop offset=".5625" stop-color="#d1d1d1"/><stop offset=".5750" stop-color="#dadada"/><stop offset=".5875" stop-color="#dbdbdb"/><stop offset=".6000" stop-color="#d7d7d7"/><stop offset=".6125" stop-color="#d3d3d3"/><stop offset=".6250" stop-color="#cacaca"/><stop offset=".6375" stop-color="#bdbdbd"/><stop offset=".6750" stop-color="#8b8b8b"/><stop offset=".6875" stop-color="#7f7f7f"/><stop offset=".7000" stop-color="#7a7a7a"/><stop offset=".7250" stop-color="#757575"/><stop offset=".7500" stop-color="#676767"/><stop offset=".7750" stop-color="#525252"/><stop offset=".8125" stop-color="#282828"/><stop offset=".8250" stop-color="#1d1d1d"/><stop offset=".8500" stop-color="#0e0e0e"/><stop offset=".8625" stop-color="#0a0a0a"/><stop offset=".8750" stop-color="#0d0d0d"/><stop offset=".8875" stop-color="#181818"/><stop offset=".9625" stop-color="#868686"/><stop offset=".9875" stop-color="#a3a3a3"/><stop offset="1.0000" stop-color="#acacac"/></linearGradient>
<linearGradient id="r43" gradientUnits="userSpaceOnUse" x1="224.3" y1="0" x2="1171.0" y2="0"><stop offset=".0000" stop-color="#b7b7b7"/><stop offset=".0500" stop-color="#dadada"/><stop offset=".0625" stop-color="#dbdbdb"/><stop offset=".0750" stop-color="#d3d3d3"/><stop offset=".0875" stop-color="#c3c3c3"/><stop offset=".1125" stop-color="#9b9b9b"/><stop offset=".1375" stop-color="#6c6c6c"/><stop offset=".1750" stop-color="#1e1e1e"/><stop offset=".1875" stop-color="#0a0a0a"/><stop offset=".2000" stop-color="#000000"/><stop offset=".2625" stop-color="#000000"/><stop offset=".2750" stop-color="#020202"/><stop offset=".3000" stop-color="#1b1b1b"/><stop offset=".3125" stop-color="#2a2a2a"/><stop offset=".3500" stop-color="#646464"/><stop offset=".3625" stop-color="#747474"/><stop offset=".3750" stop-color="#7c7c7c"/><stop offset=".3875" stop-color="#787878"/><stop offset=".4000" stop-color="#6d6d6d"/><stop offset=".4250" stop-color="#505050"/><stop offset=".4375" stop-color="#464646"/><stop offset=".4500" stop-color="#414141"/><stop offset=".4625" stop-color="#424242"/><stop offset=".4750" stop-color="#464646"/><stop offset=".4875" stop-color="#4e4e4e"/><stop offset=".5000" stop-color="#5d5d5d"/><stop offset=".5125" stop-color="#727272"/><stop offset=".5500" stop-color="#c2c2c2"/><stop offset=".5625" stop-color="#d4d4d4"/><stop offset=".5750" stop-color="#dbdbdb"/><stop offset=".5875" stop-color="#d9d9d9"/><stop offset=".6000" stop-color="#d3d3d3"/><stop offset=".6375" stop-color="#b5b5b5"/><stop offset=".6750" stop-color="#949494"/><stop offset=".6875" stop-color="#8b8b8b"/><stop offset=".7000" stop-color="#878787"/><stop offset=".7375" stop-color="#7f7f7f"/><stop offset=".7500" stop-color="#787878"/><stop offset=".7625" stop-color="#6b6b6b"/><stop offset=".8125" stop-color="#272727"/><stop offset=".8375" stop-color="#111111"/><stop offset=".8500" stop-color="#0b0b0b"/><stop offset=".8625" stop-color="#070707"/><stop offset=".8750" stop-color="#0b0b0b"/><stop offset=".8875" stop-color="#191919"/><stop offset=".9000" stop-color="#2f2f2f"/><stop offset=".9250" stop-color="#616161"/><stop offset=".9375" stop-color="#767676"/><stop offset=".9500" stop-color="#858585"/><stop offset=".9750" stop-color="#979797"/><stop offset="1.0000" stop-color="#a3a3a3"/></linearGradient>
<linearGradient id="r44" gradientUnits="userSpaceOnUse" x1="224.3" y1="0" x2="1171.0" y2="0"><stop offset=".0000" stop-color="#c1c1c1"/><stop offset=".0250" stop-color="#cecece"/><stop offset=".0500" stop-color="#e2e2e2"/><stop offset=".0625" stop-color="#e7e7e7"/><stop offset=".0750" stop-color="#dadada"/><stop offset=".1000" stop-color="#afafaf"/><stop offset=".1375" stop-color="#676767"/><stop offset=".1750" stop-color="#151515"/><stop offset=".1875" stop-color="#000000"/><stop offset=".2625" stop-color="#000000"/><stop offset=".2750" stop-color="#020202"/><stop offset=".3000" stop-color="#1b1b1b"/><stop offset=".3125" stop-color="#2a2a2a"/><stop offset=".3250" stop-color="#3e3e3e"/><stop offset=".3625" stop-color="#828282"/><stop offset=".3750" stop-color="#8f8f8f"/><stop offset=".3875" stop-color="#868686"/><stop offset=".4250" stop-color="#4f4f4f"/><stop offset=".4375" stop-color="#434343"/><stop offset=".4500" stop-color="#434343"/><stop offset=".4625" stop-color="#4a4a4a"/><stop offset=".4875" stop-color="#606060"/><stop offset=".5000" stop-color="#707070"/><stop offset=".5125" stop-color="#858585"/><stop offset=".5500" stop-color="#cecece"/><stop offset=".5625" stop-color="#dfdfdf"/><stop offset=".5750" stop-color="#e0e0e0"/><stop offset=".5875" stop-color="#d9d9d9"/><stop offset=".6000" stop-color="#cfcfcf"/><stop offset=".6250" stop-color="#b4b4b4"/><stop offset=".6500" stop-color="#aaaaaa"/><stop offset=".6875" stop-color="#969696"/><stop offset=".7125" stop-color="#929292"/><stop offset=".7375" stop-color="#929292"/><stop offset=".7500" stop-color="#8d8d8d"/><stop offset=".7625" stop-color="#7a7a7a"/><stop offset=".8000" stop-color="#373737"/><stop offset=".8125" stop-color="#242424"/><stop offset=".8250" stop-color="#181818"/><stop offset=".8375" stop-color="#0f0f0f"/><stop offset=".8625" stop-color="#010101"/><stop offset=".8750" stop-color="#040404"/><stop offset=".8875" stop-color="#171717"/><stop offset=".9000" stop-color="#333333"/><stop offset=".9250" stop-color="#747474"/><stop offset=".9375" stop-color="#909090"/><stop offset=".9500" stop-color="#979797"/><stop offset="1.0000" stop-color="#9c9c9c"/></linearGradient>
<linearGradient id="r45" gradientUnits="userSpaceOnUse" x1="224.3" y1="0" x2="1171.0" y2="0"><stop offset=".0000" stop-color="#cccccc"/><stop offset=".0125" stop-color="#cacaca"/><stop offset=".0250" stop-color="#cecece"/><stop offset=".0375" stop-color="#d7d7d7"/><stop offset=".0500" stop-color="#e5e5e5"/><stop offset=".0625" stop-color="#fafafa"/><stop offset=".0750" stop-color="#dcdcdc"/><stop offset=".1125" stop-color="#959595"/><stop offset=".1250" stop-color="#7a7a7a"/><stop offset=".1375" stop-color="#646464"/><stop offset=".1500" stop-color="#4b4b4b"/><stop offset=".1750" stop-color="#0e0e0e"/><stop offset=".1875" stop-color="#000000"/><stop offset=".2625" stop-color="#000000"/><stop offset=".2750" stop-color="#040404"/><stop offset=".3125" stop-color="#262626"/><stop offset=".3500" stop-color="#727272"/><stop offset=".3625" stop-color="#8d8d8d"/><stop offset=".3750" stop-color="#adadad"/><stop offset=".3875" stop-color="#919191"/><stop offset=".4375" stop-color="#383838"/><stop offset=".4750" stop-color="#616161"/><stop offset=".5000" stop-color="#808080"/><stop offset=".5375" stop-color="#c2c2c2"/><stop offset=".5625" stop-color="#f2f2f2"/><stop offset=".6000" stop-color="#cecece"/><stop offset=".6125" stop-color="#bdbdbd"/><stop offset=".6250" stop-color="#a6a6a6"/><stop offset=".6375" stop-color="#acacac"/><stop offset=".6500" stop-color="#adadad"/><stop offset=".6625" stop-color="#aaaaaa"/><stop offset=".6875" stop-color="#9e9e9e"/><stop offset=".7125" stop-color="#9e9e9e"/><stop offset=".7375" stop-color="#a1a1a1"/><stop offset=".7500" stop-color="#a8a8a8"/><stop offset=".7625" stop-color="#878787"/><stop offset=".7750" stop-color="#6a6a6a"/><stop offset=".8125" stop-color="#1f1f1f"/><stop offset=".8500" stop-color="#060606"/><stop offset=".8625" stop-color="#000000"/><stop offset=".8750" stop-color="#000000"/><stop offset=".8875" stop-color="#151515"/><stop offset=".9125" stop-color="#5a5a5a"/><stop offset=".9250" stop-color="#828282"/><stop offset=".9375" stop-color="#b3b3b3"/><stop offset=".9500" stop-color="#a4a4a4"/><stop offset=".9625" stop-color="#9e9e9e"/><stop offset="1.0000" stop-color="#949494"/></linearGradient>
<linearGradient id="r46" gradientUnits="userSpaceOnUse" x1="224.3" y1="0" x2="1171.0" y2="0"><stop offset=".0000" stop-color="#bdbdbd"/><stop offset=".0250" stop-color="#c6c6c6"/><stop offset=".0500" stop-color="#d6d6d6"/><stop offset=".0625" stop-color="#dbdbdb"/><stop offset=".0750" stop-color="#cfcfcf"/><stop offset=".1000" stop-color="#aaaaaa"/><stop offset=".1250" stop-color="#7f7f7f"/><stop offset=".1500" stop-color="#4d4d4d"/><stop offset=".1750" stop-color="#131313"/><stop offset=".1875" stop-color="#000000"/><stop offset=".2625" stop-color="#000000"/><stop offset=".2750" stop-color="#0a0a0a"/><stop offset=".3000" stop-color="#202020"/><stop offset=".3125" stop-color="#2f2f2f"/><stop offset=".3250" stop-color="#434343"/><stop offset=".3625" stop-color="#898989"/><stop offset=".3750" stop-color="#969696"/><stop offset=".3875" stop-color="#8d8d8d"/><stop offset=".4250" stop-color="#565656"/><stop offset=".4375" stop-color="#4c4c4c"/><stop offset=".4500" stop-color="#515151"/><stop offset=".4625" stop-color="#5f5f5f"/><stop offset=".4875" stop-color="#808080"/><stop offset=".5500" stop-color="#dddddd"/><stop offset=".5625" stop-color="#e8e8e8"/><stop offset=".5750" stop-color="#e6e6e6"/><stop offset=".5875" stop-color="#dcdcdc"/><stop offset=".6250" stop-color="#b7b7b7"/><stop offset=".6625" stop-color="#b3b3b3"/><stop offset=".7375" stop-color="#a4a4a4"/><stop offset=".7500" stop-color="#9c9c9c"/><stop offset=".7625" stop-color="#878787"/><stop offset=".8000" stop-color="#3b3b3b"/><stop offset=".8125" stop-color="#272727"/><stop offset=".8250" stop-color="#191919"/><stop offset=".8375" stop-color="#101010"/><stop offset=".8625" stop-color="#030303"/><stop offset=".8750" stop-color="#060606"/><stop offset=".8875" stop-color="#1b1b1b"/><stop offset=".9000" stop-color="#393939"/><stop offset=".9250" stop-color="#7d7d7d"/><stop offset=".9375" stop-color="#989898"/><stop offset=".9500" stop-color="#9e9e9e"/><stop offset="1.0000" stop-color="#969696"/></linearGradient>
<linearGradient id="r47" gradientUnits="userSpaceOnUse" x1="224.3" y1="0" x2="1171.0" y2="0"><stop offset=".0000" stop-color="#aeaeae"/><stop offset=".0500" stop-color="#c1c1c1"/><stop offset=".0625" stop-color="#c2c2c2"/><stop offset=".0750" stop-color="#bdbdbd"/><stop offset=".0875" stop-color="#b4b4b4"/><stop offset=".1125" stop-color="#989898"/><stop offset=".1250" stop-color="#858585"/><stop offset=".1375" stop-color="#6e6e6e"/><stop offset=".1750" stop-color="#1a1a1a"/><stop offset=".1875" stop-color="#060606"/><stop offset=".2000" stop-color="#000000"/><stop offset=".2375" stop-color="#000000"/><stop offset=".2500" stop-color="#020202"/><stop offset=".2875" stop-color="#1a1a1a"/><stop offset=".3000" stop-color="#252525"/><stop offset=".3125" stop-color="#333333"/><stop offset=".3250" stop-color="#454545"/><stop offset=".3500" stop-color="#707070"/><stop offset=".3625" stop-color="#818181"/><stop offset=".3750" stop-color="#8a8a8a"/><stop offset=".3875" stop-color="#868686"/><stop offset=".4250" stop-color="#5c5c5c"/><stop offset=".4375" stop-color="#575757"/><stop offset=".4500" stop-color="#5c5c5c"/><stop offset=".4625" stop-color="#6a6a6a"/><stop offset=".5000" stop-color="#a3a3a3"/><stop offset=".5250" stop-color="#c4c4c4"/><stop offset=".5500" stop-color="#dfdfdf"/><stop offset=".5625" stop-color="#e6e6e6"/><stop offset=".5750" stop-color="#e5e5e5"/><stop offset=".6250" stop-color="#c4c4c4"/><stop offset=".6375" stop-color="#c0c0c0"/><stop offset=".6875" stop-color="#bbbbbb"/><stop offset=".7125" stop-color="#b2b2b2"/><stop offset=".7375" stop-color="#a3a3a3"/><stop offset=".7500" stop-color="#979797"/><stop offset=".7625" stop-color="#848484"/><stop offset=".8000" stop-color="#3e3e3e"/><stop offset=".8125" stop-color="#2b2b2b"/><stop offset=".8250" stop-color="#1d1d1d"/><stop offset=".8375" stop-color="#131313"/><stop offset=".8500" stop-color="#0c0c0c"/><stop offset=".8625" stop-color="#0a0a0a"/><stop offset=".8750" stop-color="#101010"/><stop offset=".8875" stop-color="#212121"/><stop offset=".9000" stop-color="#3b3b3b"/><stop offset=".9250" stop-color="#747474"/><stop offset=".9375" stop-color="#898989"/><stop offset=".9500" stop-color="#949494"/><stop offset=".9625" stop-color="#989898"/><stop offset="1.0000" stop-color="#989898"/></linearGradient>
<linearGradient id="r48" gradientUnits="userSpaceOnUse" x1="224.3" y1="0" x2="1171.0" y2="0"><stop offset=".0000" stop-color="#9f9f9f"/><stop offset=".0375" stop-color="#aaaaaa"/><stop offset=".0625" stop-color="#acacac"/><stop offset=".0875" stop-color="#aaaaaa"/><stop offset=".1000" stop-color="#a6a6a6"/><stop offset=".1125" stop-color="#9e9e9e"/><stop offset=".1250" stop-color="#8f8f8f"/><stop offset=".1375" stop-color="#787878"/><stop offset=".1750" stop-color="#1e1e1e"/><stop offset=".1875" stop-color="#090909"/><stop offset=".2000" stop-color="#000000"/><stop offset=".2125" stop-color="#010101"/><stop offset=".2375" stop-color="#0a0a0a"/><stop offset=".2750" stop-color="#191919"/><stop offset=".3000" stop-color="#282828"/><stop offset=".3125" stop-color="#343434"/><stop offset=".3250" stop-color="#454545"/><stop offset=".3500" stop-color="#6d6d6d"/><stop offset=".3625" stop-color="#7e7e7e"/><stop offset=".3750" stop-color="#878787"/><stop offset=".3875" stop-color="#848484"/><stop offset=".4250" stop-color="#5d5d5d"/><stop offset=".4375" stop-color="#595959"/><stop offset=".4500" stop-color="#616161"/><stop offset=".4625" stop-color="#737373"/><stop offset=".4875" stop-color="#a1a1a1"/><stop offset=".5000" stop-color="#b5b5b5"/><stop offset=".5125" stop-color="#c4c4c4"/><stop offset=".5500" stop-color="#e3e3e3"/><stop offset=".5625" stop-color="#e8e8e8"/><stop offset=".5750" stop-color="#e6e6e6"/><stop offset=".6000" stop-color="#d8d8d8"/><stop offset=".6250" stop-color="#cdcdcd"/><stop offset=".6500" stop-color="#c9c9c9"/><stop offset=".6750" stop-color="#cbcbcb"/><stop offset=".6875" stop-color="#cacaca"/><stop offset=".7000" stop-color="#c4c4c4"/><stop offset=".7375" stop-color="#a4a4a4"/><stop offset=".7500" stop-color="#959595"/><stop offset=".7625" stop-color="#828282"/><stop offset=".8000" stop-color="#3f3f3f"/><stop offset=".8125" stop-color="#2c2c2c"/><stop offset=".8250" stop-color="#1f1f1f"/><stop offset=".8375" stop-color="#161616"/><stop offset=".8500" stop-color="#101010"/><stop offset=".8625" stop-color="#0d0d0d"/><stop offset=".8750" stop-color="#121212"/><stop offset=".8875" stop-color="#232323"/><stop offset=".9250" stop-color="#6e6e6e"/><stop offset=".9375" stop-color="#818181"/><stop offset=".9500" stop-color="#8d8d8d"/><stop offset=".9625" stop-color="#949494"/><stop offset=".9750" stop-color="#979797"/><stop offset="1.0000" stop-color="#989898"/></linearGradient>
<linearGradient id="r49" gradientUnits="userSpaceOnUse" x1="224.3" y1="0" x2="1171.0" y2="0"><stop offset=".0000" stop-color="#909090"/><stop offset=".0250" stop-color="#979797"/><stop offset=".0625" stop-color="#979797"/><stop offset=".1000" stop-color="#a5a5a5"/><stop offset=".1125" stop-color="#a7a7a7"/><stop offset=".1250" stop-color="#a0a0a0"/><stop offset=".1375" stop-color="#868686"/><stop offset=".1750" stop-color="#1e1e1e"/><stop offset=".1875" stop-color="#040404"/><stop offset=".2000" stop-color="#010101"/><stop offset=".2500" stop-color="#1c1c1c"/><stop offset=".3000" stop-color="#292929"/><stop offset=".3125" stop-color="#313131"/><stop offset=".3250" stop-color="#424242"/><stop offset=".3625" stop-color="#808080"/><stop offset=".3750" stop-color="#8b8b8b"/><stop offset=".3875" stop-color="#868686"/><stop offset=".4000" stop-color="#797979"/><stop offset=".4250" stop-color="#5a5a5a"/><stop offset=".4375" stop-color="#525252"/><stop offset=".4500" stop-color="#616161"/><stop offset=".4625" stop-color="#7b7b7b"/><stop offset=".4875" stop-color="#b3b3b3"/><stop offset=".5000" stop-color="#cacaca"/><stop offset=".5125" stop-color="#d3d3d3"/><stop offset=".5250" stop-color="#d8d8d8"/><stop offset=".5500" stop-color="#e8e8e8"/><stop offset=".5625" stop-color="#eeeeee"/><stop offset=".6000" stop-color="#d8d8d8"/><stop offset=".6375" stop-color="#d1d1d1"/><stop offset=".6500" stop-color="#d0d0d0"/><stop offset=".6875" stop-color="#dbdbdb"/><stop offset=".7000" stop-color="#d0d0d0"/><stop offset=".7500" stop-color="#969696"/><stop offset=".7625" stop-color="#828282"/><stop offset=".8000" stop-color="#3e3e3e"/><stop offset=".8125" stop-color="#2b2b2b"/><stop offset=".8250" stop-color="#212121"/><stop offset=".8625" stop-color="#0d0d0d"/><stop offset=".8750" stop-color="#0d0d0d"/><stop offset=".8875" stop-color="#222222"/><stop offset=".9125" stop-color="#575757"/><stop offset=".9250" stop-color="#6d6d6d"/><stop offset=".9375" stop-color="#7e7e7e"/><stop offset=".9500" stop-color="#8b8b8b"/><stop offset=".9625" stop-color="#939393"/><stop offset=".9750" stop-color="#989898"/><stop offset="1.0000" stop-color="#999999"/></linearGradient>
<linearGradient id="r50" gradientUnits="userSpaceOnUse" x1="224.3" y1="0" x2="1171.0" y2="0"><stop offset=".0000" stop-color="#808080"/><stop offset=".0125" stop-color="#868686"/><stop offset=".0375" stop-color="#898989"/><stop offset=".0500" stop-color="#878787"/><stop offset=".0625" stop-color="#808080"/><stop offset=".0750" stop-color="#8f8f8f"/><stop offset=".1125" stop-color="#aeaeae"/><stop offset=".1250" stop-color="#bababa"/><stop offset=".1375" stop-color="#939393"/><stop offset=".1625" stop-color="#4a4a4a"/><stop offset=".1750" stop-color="#222222"/><stop offset=".1875" stop-color="#000000"/><stop offset=".2000" stop-color="#060606"/><stop offset=".2125" stop-color="#131313"/><stop offset=".2500" stop-color="#2b2b2b"/><stop offset=".3125" stop-color="#292929"/><stop offset=".3625" stop-color="#818181"/><stop offset=".3750" stop-color="#999999"/><stop offset=".4125" stop-color="#6c6c6c"/><stop offset=".4250" stop-color="#595959"/><stop offset=".4375" stop-color="#404040"/><stop offset=".4500" stop-color="#646464"/><stop offset=".4875" stop-color="#bfbfbf"/><stop offset=".5000" stop-color="#e6e6e6"/><stop offset=".5125" stop-color="#dcdcdc"/><stop offset=".5250" stop-color="#dadada"/><stop offset=".5375" stop-color="#dddddd"/><stop offset=".5500" stop-color="#e7e7e7"/><stop offset=".5625" stop-color="#f7f7f7"/><stop offset=".5750" stop-color="#e4e4e4"/><stop offset=".5875" stop-color="#d7d7d7"/><stop offset=".6000" stop-color="#d2d2d2"/><stop offset=".6125" stop-color="#d2d2d2"/><stop offset=".6250" stop-color="#dbdbdb"/><stop offset=".6375" stop-color="#d1d1d1"/><stop offset=".6500" stop-color="#cfcfcf"/><stop offset=".6625" stop-color="#d4d4d4"/><stop offset=".6750" stop-color="#dfdfdf"/><stop offset=".6875" stop-color="#f2f2f2"/><stop offset=".7000" stop-color="#d6d6d6"/><stop offset=".7125" stop-color="#c2c2c2"/><stop offset=".7250" stop-color="#b1b1b1"/><stop offset=".7500" stop-color="#999999"/><stop offset=".8000" stop-color="#404040"/><stop offset=".8125" stop-color="#262626"/><stop offset=".8250" stop-color="#272727"/><stop offset=".8375" stop-color="#242424"/><stop offset=".8500" stop-color="#1d1d1d"/><stop offset=".8625" stop-color="#121212"/><stop offset=".8750" stop-color="#000000"/><stop offset=".8875" stop-color="#262626"/><stop offset=".9000" stop-color="#444444"/><stop offset=".9125" stop-color="#5d5d5d"/><stop offset=".9250" stop-color="#717171"/><stop offset=".9500" stop-color="#8e8e8e"/><stop offset=".9625" stop-color="#979797"/><stop offset=".9750" stop-color="#9c9c9c"/><stop offset=".9875" stop-color="#9c9c9c"/><stop offset="1.0000" stop-color="#999999"/></linearGradient>
<linearGradient id="r51" gradientUnits="userSpaceOnUse" x1="224.3" y1="0" x2="1171.0" y2="0"><stop offset=".0000" stop-color="#7e7e7e"/><stop offset=".0625" stop-color="#7f7f7f"/><stop offset=".1125" stop-color="#a9a9a9"/><stop offset=".1250" stop-color="#a9a9a9"/><stop offset=".1375" stop-color="#959595"/><stop offset=".1500" stop-color="#787878"/><stop offset=".1750" stop-color="#383838"/><stop offset=".1875" stop-color="#202020"/><stop offset=".2000" stop-color="#1e1e1e"/><stop offset=".2250" stop-color="#2b2b2b"/><stop offset=".2500" stop-color="#343434"/><stop offset=".3000" stop-color="#2e2e2e"/><stop offset=".3125" stop-color="#333333"/><stop offset=".3250" stop-color="#414141"/><stop offset=".3625" stop-color="#7a7a7a"/><stop offset=".3750" stop-color="#878787"/><stop offset=".3875" stop-color="#868686"/><stop offset=".4000" stop-color="#7e7e7e"/><stop offset=".4250" stop-color="#696969"/><stop offset=".4375" stop-color="#656565"/><stop offset=".4500" stop-color="#757575"/><stop offset=".4875" stop-color="#bdbdbd"/><stop offset=".5000" stop-color="#d0d0d0"/><stop offset=".5125" stop-color="#d3d3d3"/><stop offset=".5375" stop-color="#d3d3d3"/><stop offset=".5625" stop-color="#d9d9d9"/><stop offset=".5875" stop-color="#c8c8c8"/><stop offset=".6000" stop-color="#c3c3c3"/><stop offset=".6125" stop-color="#c3c3c3"/><stop offset=".6500" stop-color="#c6c6c6"/><stop offset=".6750" stop-color="#d5d5d5"/><stop offset=".6875" stop-color="#d9d9d9"/><stop offset=".7000" stop-color="#cdcdcd"/><stop offset=".7250" stop-color="#ababab"/><stop offset=".7500" stop-color="#8f8f8f"/><stop offset=".8000" stop-color="#4b4b4b"/><stop offset=".8125" stop-color="#3d3d3d"/><stop offset=".8625" stop-color="#2a2a2a"/><stop offset=".8750" stop-color="#2a2a2a"/><stop offset=".8875" stop-color="#3d3d3d"/><stop offset=".9125" stop-color="#6a6a6a"/><stop offset=".9250" stop-color="#7d7d7d"/><stop offset=".9375" stop-color="#8b8b8b"/><stop offset=".9500" stop-color="#979797"/><stop offset=".9625" stop-color="#9f9f9f"/><stop offset=".9750" stop-color="#a4a4a4"/><stop offset="1.0000" stop-color="#a5a5a5"/></linearGradient>
<linearGradient id="r52" gradientUnits="userSpaceOnUse" x1="224.3" y1="0" x2="1171.0" y2="0"><stop offset=".0000" stop-color="#7c7c7c"/><stop offset=".0500" stop-color="#777777"/><stop offset=".0625" stop-color="#7a7a7a"/><stop offset=".0750" stop-color="#838383"/><stop offset=".1000" stop-color="#9a9a9a"/><stop offset=".1125" stop-color="#a3a3a3"/><stop offset=".1250" stop-color="#a2a2a2"/><stop offset=".1375" stop-color="#969696"/><stop offset=".1500" stop-color="#818181"/><stop offset=".1750" stop-color="#525252"/><stop offset=".1875" stop-color="#414141"/><stop offset=".2000" stop-color="#3a3a3a"/><stop offset=".2500" stop-color="#3f3f3f"/><stop offset=".3000" stop-color="#333333"/><stop offset=".3125" stop-color="#373737"/><stop offset=".3250" stop-color="#414141"/><stop offset=".3625" stop-color="#717171"/><stop offset=".3750" stop-color="#7d7d7d"/><stop offset=".3875" stop-color="#828282"/><stop offset=".4250" stop-color="#7e7e7e"/><stop offset=".4375" stop-color="#818181"/><stop offset=".4500" stop-color="#8b8b8b"/><stop offset=".4875" stop-color="#b7b7b7"/><stop offset=".5000" stop-color="#c2c2c2"/><stop offset=".5125" stop-color="#c5c5c5"/><stop offset=".5500" stop-color="#c0c0c0"/><stop offset=".6000" stop-color="#aeaeae"/><stop offset=".6125" stop-color="#acacac"/><stop offset=".6375" stop-color="#b1b1b1"/><stop offset=".6750" stop-color="#c5c5c5"/><stop offset=".6875" stop-color="#c6c6c6"/><stop offset=".7000" stop-color="#bfbfbf"/><stop offset=".7625" stop-color="#797979"/><stop offset=".8000" stop-color="#595959"/><stop offset=".8250" stop-color="#4c4c4c"/><stop offset=".8500" stop-color="#484848"/><stop offset=".8625" stop-color="#484848"/><stop offset=".8750" stop-color="#4d4d4d"/><stop offset=".8875" stop-color="#5a5a5a"/><stop offset=".9250" stop-color="#8d8d8d"/><stop offset=".9375" stop-color="#9a9a9a"/><stop offset=".9500" stop-color="#a4a4a4"/><stop offset=".9750" stop-color="#afafaf"/><stop offset="1.0000" stop-color="#b1b1b1"/></linearGradient>
<linearGradient id="r53" gradientUnits="userSpaceOnUse" x1="224.3" y1="0" x2="1171.0" y2="0"><stop offset=".0000" stop-color="#7a7a7a"/><stop offset=".0375" stop-color="#707070"/><stop offset=".0500" stop-color="#6e6e6e"/><stop offset=".0625" stop-color="#727272"/><stop offset=".0750" stop-color="#7b7b7b"/><stop offset=".1000" stop-color="#979797"/><stop offset=".1125" stop-color="#a1a1a1"/><stop offset=".1250" stop-color="#a4a4a4"/><stop offset=".1375" stop-color="#9c9c9c"/><stop offset=".1750" stop-color="#696969"/><stop offset=".1875" stop-color="#5c5c5c"/><stop offset=".2000" stop-color="#545454"/><stop offset=".2125" stop-color="#505050"/><stop offset=".2500" stop-color="#4c4c4c"/><stop offset=".3000" stop-color="#353535"/><stop offset=".3125" stop-color="#363636"/><stop offset=".3250" stop-color="#3f3f3f"/><stop offset=".3625" stop-color="#6c6c6c"/><stop offset=".3750" stop-color="#777777"/><stop offset=".3875" stop-color="#808080"/><stop offset=".4500" stop-color="#9e9e9e"/><stop offset=".4875" stop-color="#b3b3b3"/><stop offset=".5000" stop-color="#b8b8b8"/><stop offset=".5125" stop-color="#b8b8b8"/><stop offset=".5250" stop-color="#b6b6b6"/><stop offset=".5625" stop-color="#a3a3a3"/><stop offset=".6125" stop-color="#939393"/><stop offset=".6250" stop-color="#939393"/><stop offset=".6375" stop-color="#9b9b9b"/><stop offset=".6625" stop-color="#b0b0b0"/><stop offset=".6750" stop-color="#b8b8b8"/><stop offset=".6875" stop-color="#b9b9b9"/><stop offset=".7000" stop-color="#b3b3b3"/><stop offset=".7125" stop-color="#a7a7a7"/><stop offset=".7500" stop-color="#7b7b7b"/><stop offset=".7625" stop-color="#727272"/><stop offset=".8000" stop-color="#676767"/><stop offset=".8375" stop-color="#606060"/><stop offset=".8625" stop-color="#646464"/><stop offset=".8750" stop-color="#6b6b6b"/><stop offset=".9000" stop-color="#828282"/><stop offset=".9250" stop-color="#a0a0a0"/><stop offset=".9375" stop-color="#acacac"/><stop offset=".9500" stop-color="#b4b4b4"/><stop offset=".9750" stop-color="#bdbdbd"/><stop offset="1.0000" stop-color="#bebebe"/></linearGradient>
<linearGradient id="r54" gradientUnits="userSpaceOnUse" x1="224.3" y1="0" x2="1171.0" y2="0"><stop offset=".0000" stop-color="#797979"/><stop offset=".0375" stop-color="#676767"/><stop offset=".0500" stop-color="#636363"/><stop offset=".0625" stop-color="#656565"/><stop offset=".0750" stop-color="#717171"/><stop offset=".1125" stop-color="#a5a5a5"/><stop offset=".1250" stop-color="#adadad"/><stop offset=".1375" stop-color="#a6a6a6"/><stop offset=".1750" stop-color="#7c7c7c"/><stop offset=".2000" stop-color="#696969"/><stop offset=".2125" stop-color="#636363"/><stop offset=".2500" stop-color="#5b5b5b"/><stop offset=".2625" stop-color="#535353"/><stop offset=".3000" stop-color="#333333"/><stop offset=".3125" stop-color="#2f2f2f"/><stop offset=".3250" stop-color="#3a3a3a"/><stop offset=".3625" stop-color="#686868"/><stop offset=".4375" stop-color="#aeaeae"/><stop offset=".4875" stop-color="#b0b0b0"/><stop offset=".5125" stop-color="#aeaeae"/><stop offset=".5250" stop-color="#a9a9a9"/><stop offset=".5375" stop-color="#a0a0a0"/><stop offset=".5625" stop-color="#888888"/><stop offset=".5875" stop-color="#878787"/><stop offset=".6000" stop-color="#838383"/><stop offset=".6125" stop-color="#7a7a7a"/><stop offset=".6250" stop-color="#767676"/><stop offset=".6375" stop-color="#848484"/><stop offset=".6500" stop-color="#979797"/><stop offset=".6625" stop-color="#a6a6a6"/><stop offset=".6750" stop-color="#afafaf"/><stop offset=".6875" stop-color="#b2b2b2"/><stop offset=".7000" stop-color="#acacac"/><stop offset=".7125" stop-color="#a0a0a0"/><stop offset=".7500" stop-color="#6d6d6d"/><stop offset=".7625" stop-color="#6c6c6c"/><stop offset=".8125" stop-color="#777777"/><stop offset=".8375" stop-color="#767676"/><stop offset=".8500" stop-color="#787878"/><stop offset=".8625" stop-color="#7e7e7e"/><stop offset=".9000" stop-color="#999999"/><stop offset=".9375" stop-color="#c1c1c1"/><stop offset=".9500" stop-color="#c5c5c5"/><stop offset="1.0000" stop-color="#cecece"/></linearGradient>
<linearGradient id="r55" gradientUnits="userSpaceOnUse" x1="224.3" y1="0" x2="1171.0" y2="0"><stop offset=".0000" stop-color="#7a7a7a"/><stop offset=".0250" stop-color="#666666"/><stop offset=".0625" stop-color="#525252"/><stop offset=".1125" stop-color="#a7a7a7"/><stop offset=".1250" stop-color="#bfbfbf"/><stop offset=".1375" stop-color="#aeaeae"/><stop offset=".1625" stop-color="#949494"/><stop offset=".1750" stop-color="#8b8b8b"/><stop offset=".1875" stop-color="#858585"/><stop offset=".2000" stop-color="#7a7a7a"/><stop offset=".2250" stop-color="#6e6e6e"/><stop offset=".2500" stop-color="#6e6e6e"/><stop offset=".3000" stop-color="#343434"/><stop offset=".3125" stop-color="#212121"/><stop offset=".3250" stop-color="#383838"/><stop offset=".3500" stop-color="#5a5a5a"/><stop offset=".3750" stop-color="#737373"/><stop offset=".4125" stop-color="#9c9c9c"/><stop offset=".4250" stop-color="#aeaeae"/><stop offset=".4375" stop-color="#c7c7c7"/><stop offset=".4500" stop-color="#bababa"/><stop offset=".4625" stop-color="#b4b4b4"/><stop offset=".5125" stop-color="#a8a8a8"/><stop offset=".5250" stop-color="#a2a2a2"/><stop offset=".5375" stop-color="#979797"/><stop offset=".5500" stop-color="#858585"/><stop offset=".5625" stop-color="#6b6b6b"/><stop offset=".5750" stop-color="#797979"/><stop offset=".5875" stop-color="#7d7d7d"/><stop offset=".6000" stop-color="#787878"/><stop offset=".6125" stop-color="#6b6b6b"/><stop offset=".6250" stop-color="#525252"/><stop offset=".6375" stop-color="#777777"/><stop offset=".6500" stop-color="#909090"/><stop offset=".6625" stop-color="#a1a1a1"/><stop offset=".6750" stop-color="#acacac"/><stop offset=".6875" stop-color="#b2b2b2"/><stop offset=".7000" stop-color="#aaaaaa"/><stop offset=".7125" stop-color="#9e9e9e"/><stop offset=".7250" stop-color="#8d8d8d"/><stop offset=".7375" stop-color="#777777"/><stop offset=".7500" stop-color="#595959"/><stop offset=".7625" stop-color="#6a6a6a"/><stop offset=".7750" stop-color="#747474"/><stop offset=".8125" stop-color="#8c8c8c"/><stop offset=".8250" stop-color="#888888"/><stop offset=".8375" stop-color="#878787"/><stop offset=".8500" stop-color="#8b8b8b"/><stop offset=".8625" stop-color="#939393"/><stop offset=".8750" stop-color="#a1a1a1"/><stop offset=".8875" stop-color="#a3a3a3"/><stop offset=".9000" stop-color="#ababab"/><stop offset=".9125" stop-color="#b6b6b6"/><stop offset=".9250" stop-color="#c6c6c6"/><stop offset=".9375" stop-color="#d9d9d9"/><stop offset=".9500" stop-color="#d3d3d3"/><stop offset=".9750" stop-color="#d3d3d3"/><stop offset=".9875" stop-color="#d7d7d7"/><stop offset="1.0000" stop-color="#e0e0e0"/></linearGradient>
<linearGradient id="r56" gradientUnits="userSpaceOnUse" x1="224.3" y1="0" x2="1171.0" y2="0"><stop offset=".0000" stop-color="#6d6d6d"/><stop offset=".0375" stop-color="#585858"/><stop offset=".0500" stop-color="#535353"/><stop offset=".0625" stop-color="#555555"/><stop offset=".0750" stop-color="#626262"/><stop offset=".1125" stop-color="#9f9f9f"/><stop offset=".1250" stop-color="#acacac"/><stop offset=".1375" stop-color="#ababab"/><stop offset=".2125" stop-color="#7e7e7e"/><stop offset=".2500" stop-color="#707070"/><stop offset=".3000" stop-color="#404040"/><stop offset=".3125" stop-color="#3a3a3a"/><stop offset=".3250" stop-color="#424242"/><stop offset=".4000" stop-color="#8f8f8f"/><stop offset=".4250" stop-color="#acacac"/><stop offset=".4375" stop-color="#b8b8b8"/><stop offset=".4500" stop-color="#b8b8b8"/><stop offset=".5125" stop-color="#a7a7a7"/><stop offset=".5250" stop-color="#a0a0a0"/><stop offset=".5375" stop-color="#969696"/><stop offset=".5625" stop-color="#7d7d7d"/><stop offset=".5875" stop-color="#7e7e7e"/><stop offset=".6250" stop-color="#727272"/><stop offset=".6625" stop-color="#a3a3a3"/><stop offset=".6750" stop-color="#adadad"/><stop offset=".6875" stop-color="#b0b0b0"/><stop offset=".7000" stop-color="#acacac"/><stop offset=".7125" stop-color="#a1a1a1"/><stop offset=".7375" stop-color="#828282"/><stop offset=".7500" stop-color="#757575"/><stop offset=".7625" stop-color="#777777"/><stop offset=".8125" stop-color="#929292"/><stop offset=".8375" stop-color="#959595"/><stop offset=".8500" stop-color="#999999"/><stop offset=".9000" stop-color="#b7b7b7"/><stop offset=".9375" stop-color="#d8d8d8"/><stop offset=".9500" stop-color="#d9d9d9"/><stop offset="1.0000" stop-color="#d5d5d5"/></linearGradient>
<linearGradient id="r57" gradientUnits="userSpaceOnUse" x1="224.3" y1="0" x2="1171.0" y2="0"><stop offset=".0000" stop-color="#626262"/><stop offset=".0375" stop-color="#505050"/><stop offset=".0500" stop-color="#4d4d4d"/><stop offset=".0625" stop-color="#515151"/><stop offset=".0750" stop-color="#5d5d5d"/><stop offset=".1125" stop-color="#959595"/><stop offset=".1250" stop-color="#a1a1a1"/><stop offset=".1375" stop-color="#a5a5a5"/><stop offset=".1625" stop-color="#9f9f9f"/><stop offset=".2375" stop-color="#7b7b7b"/><stop offset=".2500" stop-color="#747474"/><stop offset=".3000" stop-color="#4f4f4f"/><stop offset=".3125" stop-color="#4c4c4c"/><stop offset=".3250" stop-color="#505050"/><stop offset=".3375" stop-color="#585858"/><stop offset=".4250" stop-color="#a5a5a5"/><stop offset=".4375" stop-color="#aeaeae"/><stop offset=".4500" stop-color="#b2b2b2"/><stop offset=".4750" stop-color="#b2b2b2"/><stop offset=".5000" stop-color="#adadad"/><stop offset=".5250" stop-color="#a3a3a3"/><stop offset=".5625" stop-color="#8c8c8c"/><stop offset=".6125" stop-color="#898989"/><stop offset=".6250" stop-color="#8c8c8c"/><stop offset=".6625" stop-color="#acacac"/><stop offset=".6750" stop-color="#b3b3b3"/><stop offset=".6875" stop-color="#b5b5b5"/><stop offset=".7000" stop-color="#b1b1b1"/><stop offset=".7125" stop-color="#a8a8a8"/><stop offset=".7375" stop-color="#929292"/><stop offset=".7500" stop-color="#8a8a8a"/><stop offset=".7625" stop-color="#888888"/><stop offset=".8125" stop-color="#999999"/><stop offset=".8500" stop-color="#a2a2a2"/><stop offset=".8625" stop-color="#a8a8a8"/><stop offset=".8875" stop-color="#b7b7b7"/><stop offset=".9250" stop-color="#d3d3d3"/><stop offset=".9375" stop-color="#d9d9d9"/><stop offset=".9500" stop-color="#dbdbdb"/><stop offset=".9625" stop-color="#d8d8d8"/><stop offset="1.0000" stop-color="#cccccc"/></linearGradient>
<linearGradient id="r58" gradientUnits="userSpaceOnUse" x1="224.3" y1="0" x2="1171.0" y2="0"><stop offset=".0000" stop-color="#585858"/><stop offset=".0375" stop-color="#484848"/><stop offset=".0500" stop-color="#444444"/><stop offset=".0625" stop-color="#484848"/><stop offset=".0750" stop-color="#555555"/><stop offset=".1125" stop-color="#8e8e8e"/><stop offset=".1250" stop-color="#9b9b9b"/><stop offset=".1375" stop-color="#a2a2a2"/><stop offset=".1500" stop-color="#a4a4a4"/><stop offset=".1625" stop-color="#a3a3a3"/><stop offset=".1875" stop-color="#9b9b9b"/><stop offset=".2500" stop-color="#7a7a7a"/><stop offset=".2875" stop-color="#616161"/><stop offset=".3000" stop-color="#5b5b5b"/><stop offset=".3125" stop-color="#595959"/><stop offset=".3250" stop-color="#5b5b5b"/><stop offset=".3500" stop-color="#686868"/><stop offset=".4125" stop-color="#969696"/><stop offset=".4375" stop-color="#a6a6a6"/><stop offset=".4625" stop-color="#b0b0b0"/><stop offset=".4750" stop-color="#b3b3b3"/><stop offset=".5000" stop-color="#b1b1b1"/><stop offset=".5625" stop-color="#999999"/><stop offset=".5875" stop-color="#989898"/><stop offset=".6125" stop-color="#9e9e9e"/><stop offset=".6750" stop-color="#bebebe"/><stop offset=".6875" stop-color="#bfbfbf"/><stop offset=".7000" stop-color="#bbbbbb"/><stop offset=".7375" stop-color="#a1a1a1"/><stop offset=".7500" stop-color="#9b9b9b"/><stop offset=".7750" stop-color="#989898"/><stop offset=".8375" stop-color="#a6a6a6"/><stop offset=".8625" stop-color="#aeaeae"/><stop offset=".8875" stop-color="#bcbcbc"/><stop offset=".9250" stop-color="#d8d8d8"/><stop offset=".9375" stop-color="#dedede"/><stop offset=".9500" stop-color="#dddddd"/><stop offset=".9625" stop-color="#d8d8d8"/><stop offset="1.0000" stop-color="#c4c4c4"/></linearGradient>
<linearGradient id="r59" gradientUnits="userSpaceOnUse" x1="224.3" y1="0" x2="1171.0" y2="0"><stop offset=".0000" stop-color="#505050"/><stop offset=".0250" stop-color="#464646"/><stop offset=".0500" stop-color="#393939"/><stop offset=".0625" stop-color="#393939"/><stop offset=".0750" stop-color="#4a4a4a"/><stop offset=".1000" stop-color="#787878"/><stop offset=".1125" stop-color="#8b8b8b"/><stop offset=".1250" stop-color="#9a9a9a"/><stop offset=".1375" stop-color="#a2a2a2"/><stop offset=".1500" stop-color="#a6a6a6"/><stop offset=".1625" stop-color="#a6a6a6"/><stop offset=".1875" stop-color="#a1a1a1"/><stop offset=".2500" stop-color="#7f7f7f"/><stop offset=".2750" stop-color="#707070"/><stop offset=".3000" stop-color="#656565"/><stop offset=".3125" stop-color="#636363"/><stop offset=".3250" stop-color="#656565"/><stop offset=".3500" stop-color="#6e6e6e"/><stop offset=".4125" stop-color="#939393"/><stop offset=".4375" stop-color="#a0a0a0"/><stop offset=".4625" stop-color="#b0b0b0"/><stop offset=".4875" stop-color="#b7b7b7"/><stop offset=".5000" stop-color="#b7b7b7"/><stop offset=".5500" stop-color="#a8a8a8"/><stop offset=".5750" stop-color="#a5a5a5"/><stop offset=".5875" stop-color="#a6a6a6"/><stop offset=".6000" stop-color="#ababab"/><stop offset=".6250" stop-color="#bbbbbb"/><stop offset=".6750" stop-color="#cccccc"/><stop offset=".6875" stop-color="#cecece"/><stop offset=".7375" stop-color="#afafaf"/><stop offset=".7625" stop-color="#a6a6a6"/><stop offset=".7875" stop-color="#a4a4a4"/><stop offset=".8500" stop-color="#aeaeae"/><stop offset=".8750" stop-color="#b7b7b7"/><stop offset=".9000" stop-color="#c8c8c8"/><stop offset=".9250" stop-color="#dfdfdf"/><stop offset=".9375" stop-color="#e5e5e5"/><stop offset=".9500" stop-color="#e1e1e1"/><stop offset="1.0000" stop-color="#bcbcbc"/></linearGradient>
<linearGradient id="r60" gradientUnits="userSpaceOnUse" x1="224.3" y1="0" x2="1171.0" y2="0"><stop offset=".0000" stop-color="#474747"/><stop offset=".0125" stop-color="#474747"/><stop offset=".0375" stop-color="#3c3c3c"/><stop offset=".0500" stop-color="#323232"/><stop offset=".0625" stop-color="#212121"/><stop offset=".0750" stop-color="#434343"/><stop offset=".0875" stop-color="#5f5f5f"/><stop offset=".1000" stop-color="#777777"/><stop offset=".1250" stop-color="#9e9e9e"/><stop offset=".1500" stop-color="#a9a9a9"/><stop offset=".1625" stop-color="#ababab"/><stop offset=".1875" stop-color="#a8a8a8"/><stop offset=".2250" stop-color="#909090"/><stop offset=".2500" stop-color="#858585"/><stop offset=".2750" stop-color="#757575"/><stop offset=".3125" stop-color="#6b6b6b"/><stop offset=".3500" stop-color="#717171"/><stop offset=".4125" stop-color="#929292"/><stop offset=".4250" stop-color="#989898"/><stop offset=".4375" stop-color="#999999"/><stop offset=".4500" stop-color="#a9a9a9"/><stop offset=".4625" stop-color="#b3b3b3"/><stop offset=".4750" stop-color="#bababa"/><stop offset=".5000" stop-color="#bfbfbf"/><stop offset=".5375" stop-color="#b1b1b1"/><stop offset=".5500" stop-color="#b0b0b0"/><stop offset=".5625" stop-color="#b3b3b3"/><stop offset=".5750" stop-color="#afafaf"/><stop offset=".5875" stop-color="#b1b1b1"/><stop offset=".6000" stop-color="#b8b8b8"/><stop offset=".6125" stop-color="#c3c3c3"/><stop offset=".6250" stop-color="#d4d4d4"/><stop offset=".6375" stop-color="#d1d1d1"/><stop offset=".6500" stop-color="#d2d2d2"/><stop offset=".6750" stop-color="#dadada"/><stop offset=".6875" stop-color="#e0e0e0"/><stop offset=".7125" stop-color="#c7c7c7"/><stop offset=".7250" stop-color="#bebebe"/><stop offset=".7375" stop-color="#b8b8b8"/><stop offset=".7500" stop-color="#b8b8b8"/><stop offset=".7625" stop-color="#afafaf"/><stop offset=".7750" stop-color="#acacac"/><stop offset=".7875" stop-color="#acacac"/><stop offset=".8125" stop-color="#b2b2b2"/><stop offset=".8500" stop-color="#b2b2b2"/><stop offset=".8750" stop-color="#b8b8b8"/><stop offset=".9000" stop-color="#c9c9c9"/><stop offset=".9125" stop-color="#d4d4d4"/><stop offset=".9250" stop-color="#e2e2e2"/><stop offset=".9375" stop-color="#f2f2f2"/><stop offset=".9500" stop-color="#e1e1e1"/><stop offset=".9625" stop-color="#d4d4d4"/><stop offset="1.0000" stop-color="#b2b2b2"/></linearGradient>
<linearGradient id="r61" gradientUnits="userSpaceOnUse" x1="224.3" y1="0" x2="1171.0" y2="0"><stop offset=".0000" stop-color="#4b4b4b"/><stop offset=".0250" stop-color="#444444"/><stop offset=".0500" stop-color="#3b3b3b"/><stop offset=".0625" stop-color="#3b3b3b"/><stop offset=".0750" stop-color="#4c4c4c"/><stop offset=".1000" stop-color="#797979"/><stop offset=".1125" stop-color="#8c8c8c"/><stop offset=".1250" stop-color="#9c9c9c"/><stop offset=".1375" stop-color="#a6a6a6"/><stop offset=".1625" stop-color="#b0b0b0"/><stop offset=".1750" stop-color="#b1b1b1"/><stop offset=".1875" stop-color="#aeaeae"/><stop offset=".2000" stop-color="#a7a7a7"/><stop offset=".2375" stop-color="#898989"/><stop offset=".2625" stop-color="#7b7b7b"/><stop offset=".2875" stop-color="#757575"/><stop offset=".3500" stop-color="#737373"/><stop offset=".3625" stop-color="#767676"/><stop offset=".3875" stop-color="#818181"/><stop offset=".4375" stop-color="#a5a5a5"/><stop offset=".4625" stop-color="#bababa"/><stop offset=".4750" stop-color="#c1c1c1"/><stop offset=".4875" stop-color="#c5c5c5"/><stop offset=".5000" stop-color="#c5c5c5"/><stop offset=".5375" stop-color="#b6b6b6"/><stop offset=".5500" stop-color="#b3b3b3"/><stop offset=".5750" stop-color="#b3b3b3"/><stop offset=".5875" stop-color="#b7b7b7"/><stop offset=".6000" stop-color="#c0c0c0"/><stop offset=".6250" stop-color="#d6d6d6"/><stop offset=".6750" stop-color="#e2e2e2"/><stop offset=".6875" stop-color="#e1e1e1"/><stop offset=".7000" stop-color="#d9d9d9"/><stop offset=".7250" stop-color="#c3c3c3"/><stop offset=".7375" stop-color="#bbbbbb"/><stop offset=".7625" stop-color="#b2b2b2"/><stop offset=".7750" stop-color="#b0b0b0"/><stop offset=".8125" stop-color="#b5b5b5"/><stop offset=".8500" stop-color="#b3b3b3"/><stop offset=".8750" stop-color="#b8b8b8"/><stop offset=".9000" stop-color="#c7c7c7"/><stop offset=".9250" stop-color="#dbdbdb"/><stop offset=".9375" stop-color="#e0e0e0"/><stop offset=".9500" stop-color="#d9d9d9"/><stop offset=".9875" stop-color="#b3b3b3"/><stop offset="1.0000" stop-color="#a9a9a9"/></linearGradient>
<linearGradient id="r62" gradientUnits="userSpaceOnUse" x1="224.3" y1="0" x2="1171.0" y2="0"><stop offset=".0000" stop-color="#4e4e4e"/><stop offset=".0375" stop-color="#484848"/><stop offset=".0500" stop-color="#494949"/><stop offset=".0625" stop-color="#4e4e4e"/><stop offset=".0750" stop-color="#5a5a5a"/><stop offset=".1125" stop-color="#8e8e8e"/><stop offset=".1250" stop-color="#9d9d9d"/><stop offset=".1375" stop-color="#a8a8a8"/><stop offset=".1625" stop-color="#b7b7b7"/><stop offset=".1750" stop-color="#bababa"/><stop offset=".1875" stop-color="#b7b7b7"/><stop offset=".2000" stop-color="#aeaeae"/><stop offset=".2375" stop-color="#848484"/><stop offset=".2500" stop-color="#7b7b7b"/><stop offset=".2625" stop-color="#777777"/><stop offset=".2750" stop-color="#777777"/><stop offset=".3125" stop-color="#7d7d7d"/><stop offset=".3625" stop-color="#717171"/><stop offset=".3750" stop-color="#747474"/><stop offset=".3875" stop-color="#7c7c7c"/><stop offset=".4375" stop-color="#b1b1b1"/><stop offset=".4625" stop-color="#c4c4c4"/><stop offset=".4750" stop-color="#cbcbcb"/><stop offset=".4875" stop-color="#cecece"/><stop offset=".5000" stop-color="#cdcdcd"/><stop offset=".5125" stop-color="#c7c7c7"/><stop offset=".5375" stop-color="#b7b7b7"/><stop offset=".5500" stop-color="#b1b1b1"/><stop offset=".5625" stop-color="#afafaf"/><stop offset=".5750" stop-color="#b2b2b2"/><stop offset=".5875" stop-color="#b9b9b9"/><stop offset=".6250" stop-color="#dadada"/><stop offset=".6375" stop-color="#e0e0e0"/><stop offset=".6625" stop-color="#e7e7e7"/><stop offset=".6750" stop-color="#e9e9e9"/><stop offset=".6875" stop-color="#e6e6e6"/><stop offset=".7000" stop-color="#dddddd"/><stop offset=".7375" stop-color="#b9b9b9"/><stop offset=".7500" stop-color="#b2b2b2"/><stop offset=".7625" stop-color="#b0b0b0"/><stop offset=".7750" stop-color="#b0b0b0"/><stop offset=".8125" stop-color="#b9b9b9"/><stop offset=".8625" stop-color="#b3b3b3"/><stop offset=".8750" stop-color="#b5b5b5"/><stop offset=".8875" stop-color="#bababa"/><stop offset=".9250" stop-color="#d2d2d2"/><stop offset=".9375" stop-color="#d4d4d4"/><stop offset=".9500" stop-color="#cecece"/><stop offset="1.0000" stop-color="#9d9d9d"/></linearGradient>
<linearGradient id="r63" gradientUnits="userSpaceOnUse" x1="224.3" y1="0" x2="1171.0" y2="0"><stop offset=".0000" stop-color="#515151"/><stop offset=".0250" stop-color="#4f4f4f"/><stop offset=".0375" stop-color="#515151"/><stop offset=".0500" stop-color="#555555"/><stop offset=".0625" stop-color="#5c5c5c"/><stop offset=".0750" stop-color="#676767"/><stop offset=".1125" stop-color="#929292"/><stop offset=".1375" stop-color="#ababab"/><stop offset=".1625" stop-color="#bfbfbf"/><stop offset=".1750" stop-color="#c5c5c5"/><stop offset=".1875" stop-color="#c4c4c4"/><stop offset=".2000" stop-color="#b7b7b7"/><stop offset=".2375" stop-color="#7c7c7c"/><stop offset=".2500" stop-color="#707070"/><stop offset=".2625" stop-color="#6f6f6f"/><stop offset=".2750" stop-color="#757575"/><stop offset=".3000" stop-color="#858585"/><stop offset=".3125" stop-color="#888888"/><stop offset=".3250" stop-color="#848484"/><stop offset=".3625" stop-color="#6a6a6a"/><stop offset=".3750" stop-color="#6a6a6a"/><stop offset=".3875" stop-color="#757575"/><stop offset=".4250" stop-color="#aeaeae"/><stop offset=".4375" stop-color="#bebebe"/><stop offset=".4500" stop-color="#c8c8c8"/><stop offset=".4750" stop-color="#d5d5d5"/><stop offset=".4875" stop-color="#dadada"/><stop offset=".5000" stop-color="#d8d8d8"/><stop offset=".5125" stop-color="#cfcfcf"/><stop offset=".5375" stop-color="#b5b5b5"/><stop offset=".5500" stop-color="#acacac"/><stop offset=".5625" stop-color="#a8a8a8"/><stop offset=".5750" stop-color="#acacac"/><stop offset=".5875" stop-color="#b7b7b7"/><stop offset=".6250" stop-color="#dfdfdf"/><stop offset=".6375" stop-color="#e7e7e7"/><stop offset=".6500" stop-color="#ebebeb"/><stop offset=".6750" stop-color="#f0f0f0"/><stop offset=".6875" stop-color="#ededed"/><stop offset=".7000" stop-color="#e2e2e2"/><stop offset=".7375" stop-color="#b3b3b3"/><stop offset=".7500" stop-color="#ababab"/><stop offset=".7625" stop-color="#aaaaaa"/><stop offset=".8000" stop-color="#bcbcbc"/><stop offset=".8125" stop-color="#bfbfbf"/><stop offset=".8250" stop-color="#bebebe"/><stop offset=".8625" stop-color="#afafaf"/><stop offset=".8750" stop-color="#aeaeae"/><stop offset=".8875" stop-color="#b4b4b4"/><stop offset=".9250" stop-color="#cccccc"/><stop offset=".9375" stop-color="#cdcdcd"/><stop offset=".9500" stop-color="#c6c6c6"/><stop offset=".9875" stop-color="#9b9b9b"/><stop offset="1.0000" stop-color="#8f8f8f"/></linearGradient>
<linearGradient id="r64" gradientUnits="userSpaceOnUse" x1="224.3" y1="0" x2="1171.0" y2="0"><stop offset=".0000" stop-color="#535353"/><stop offset=".0250" stop-color="#545454"/><stop offset=".0500" stop-color="#5f5f5f"/><stop offset=".0875" stop-color="#7d7d7d"/><stop offset=".1750" stop-color="#d3d3d3"/><stop offset=".1875" stop-color="#d7d7d7"/><stop offset=".2000" stop-color="#c2c2c2"/><stop offset=".2250" stop-color="#888888"/><stop offset=".2375" stop-color="#6e6e6e"/><stop offset=".2500" stop-color="#5e5e5e"/><stop offset=".2625" stop-color="#636363"/><stop offset=".3000" stop-color="#909090"/><stop offset=".3125" stop-color="#999999"/><stop offset=".3250" stop-color="#8f8f8f"/><stop offset=".3625" stop-color="#5e5e5e"/><stop offset=".3750" stop-color="#585858"/><stop offset=".3875" stop-color="#6a6a6a"/><stop offset=".4250" stop-color="#bababa"/><stop offset=".4375" stop-color="#cecece"/><stop offset=".4500" stop-color="#d6d6d6"/><stop offset=".4750" stop-color="#dfdfdf"/><stop offset=".4875" stop-color="#e6e6e6"/><stop offset=".5000" stop-color="#e8e8e8"/><stop offset=".5125" stop-color="#d8d8d8"/><stop offset=".5375" stop-color="#b0b0b0"/><stop offset=".5500" stop-color="#a1a1a1"/><stop offset=".5625" stop-color="#9b9b9b"/><stop offset=".5750" stop-color="#a2a2a2"/><stop offset=".5875" stop-color="#b1b1b1"/><stop offset=".6125" stop-color="#d7d7d7"/><stop offset=".6250" stop-color="#e7e7e7"/><stop offset=".6750" stop-color="#f9f9f9"/><stop offset=".6875" stop-color="#f9f9f9"/><stop offset=".7000" stop-color="#e9e9e9"/><stop offset=".7375" stop-color="#aaaaaa"/><stop offset=".7500" stop-color="#9d9d9d"/><stop offset=".7625" stop-color="#a1a1a1"/><stop offset=".8000" stop-color="#c2c2c2"/><stop offset=".8125" stop-color="#c9c9c9"/><stop offset=".8250" stop-color="#c4c4c4"/><stop offset=".8625" stop-color="#a8a8a8"/><stop offset=".8750" stop-color="#a4a4a4"/><stop offset=".8875" stop-color="#ababab"/><stop offset=".9250" stop-color="#cacaca"/><stop offset=".9375" stop-color="#cdcdcd"/><stop offset=".9500" stop-color="#c2c2c2"/><stop offset=".9875" stop-color="#8b8b8b"/><stop offset="1.0000" stop-color="#7d7d7d"/></linearGradient>
<linearGradient id="r65" gradientUnits="userSpaceOnUse" x1="224.3" y1="0" x2="1171.0" y2="0"><stop offset=".0000" stop-color="#545454"/><stop offset=".0125" stop-color="#545454"/><stop offset=".0375" stop-color="#5d5d5d"/><stop offset=".0625" stop-color="#737373"/><stop offset=".0875" stop-color="#848484"/><stop offset=".1250" stop-color="#a6a6a6"/><stop offset=".1500" stop-color="#bababa"/><stop offset=".1625" stop-color="#c6c6c6"/><stop offset=".1750" stop-color="#d8d8d8"/><stop offset=".1875" stop-color="#f5f5f5"/><stop offset=".2000" stop-color="#c6c6c6"/><stop offset=".2125" stop-color="#a1a1a1"/><stop offset=".2375" stop-color="#626262"/><stop offset=".2500" stop-color="#404040"/><stop offset=".2625" stop-color="#585858"/><stop offset=".3000" stop-color="#979797"/><stop offset=".3125" stop-color="#b3b3b3"/><stop offset=".3250" stop-color="#979797"/><stop offset=".3625" stop-color="#575757"/><stop offset=".3750" stop-color="#3b3b3b"/><stop offset=".3875" stop-color="#646464"/><stop offset=".4000" stop-color="#868686"/><stop offset=".4250" stop-color="#c4c4c4"/><stop offset=".4375" stop-color="#e6e6e6"/><stop offset=".4500" stop-color="#e0e0e0"/><stop offset=".4625" stop-color="#dfdfdf"/><stop offset=".4750" stop-color="#e2e2e2"/><stop offset=".4875" stop-color="#ececec"/><stop offset=".5000" stop-color="#ffffff"/><stop offset=".5125" stop-color="#d9d9d9"/><stop offset=".5250" stop-color="#bdbdbd"/><stop offset=".5375" stop-color="#a8a8a8"/><stop offset=".5625" stop-color="#858585"/><stop offset=".6000" stop-color="#bfbfbf"/><stop offset=".6125" stop-color="#d6d6d6"/><stop offset=".6250" stop-color="#f2f2f2"/><stop offset=".6375" stop-color="#eeeeee"/><stop offset=".6500" stop-color="#efefef"/><stop offset=".6625" stop-color="#f3f3f3"/><stop offset=".6750" stop-color="#fcfcfc"/><stop offset=".6875" stop-color="#ffffff"/><stop offset=".7000" stop-color="#ebebeb"/><stop offset=".7125" stop-color="#d0d0d0"/><stop offset=".7500" stop-color="#878787"/><stop offset=".7625" stop-color="#999999"/><stop offset=".8000" stop-color="#c6c6c6"/><stop offset=".8125" stop-color="#d9d9d9"/><stop offset=".8250" stop-color="#c8c8c8"/><stop offset=".8750" stop-color="#949494"/><stop offset=".9000" stop-color="#b0b0b0"/><stop offset=".9375" stop-color="#d4d4d4"/><stop offset="1.0000" stop-color="#666666"/></linearGradient>
<linearGradient id="r66" gradientUnits="userSpaceOnUse" x1="224.3" y1="0" x2="1171.0" y2="0"><stop offset=".0000" stop-color="#4f4f4f"/><stop offset=".0125" stop-color="#525252"/><stop offset=".0375" stop-color="#606060"/><stop offset=".1125" stop-color="#9e9e9e"/><stop offset=".1750" stop-color="#c6c6c6"/><stop offset=".1875" stop-color="#c8c8c8"/><stop offset=".2000" stop-color="#b2b2b2"/><stop offset=".2250" stop-color="#7a7a7a"/><stop offset=".2375" stop-color="#626262"/><stop offset=".2500" stop-color="#545454"/><stop offset=".2625" stop-color="#5b5b5b"/><stop offset=".3000" stop-color="#8f8f8f"/><stop offset=".3125" stop-color="#9a9a9a"/><stop offset=".3250" stop-color="#929292"/><stop offset=".3625" stop-color="#636363"/><stop offset=".3750" stop-color="#5d5d5d"/><stop offset=".3875" stop-color="#707070"/><stop offset=".4250" stop-color="#c5c5c5"/><stop offset=".4375" stop-color="#d8d8d8"/><stop offset=".4500" stop-color="#dddddd"/><stop offset=".4750" stop-color="#dbdbdb"/><stop offset=".4875" stop-color="#dddddd"/><stop offset=".5000" stop-color="#dadada"/><stop offset=".5375" stop-color="#9c9c9c"/><stop offset=".5500" stop-color="#8e8e8e"/><stop offset=".5625" stop-color="#888888"/><stop offset=".5750" stop-color="#919191"/><stop offset=".5875" stop-color="#a2a2a2"/><stop offset=".6125" stop-color="#cbcbcb"/><stop offset=".6250" stop-color="#dddddd"/><stop offset=".6375" stop-color="#e3e3e3"/><stop offset=".6750" stop-color="#efefef"/><stop offset=".6875" stop-color="#eeeeee"/><stop offset=".7000" stop-color="#dedede"/><stop offset=".7250" stop-color="#b4b4b4"/><stop offset=".7375" stop-color="#a1a1a1"/><stop offset=".7500" stop-color="#969696"/><stop offset=".7625" stop-color="#9b9b9b"/><stop offset=".8000" stop-color="#c1c1c1"/><stop offset=".8125" stop-color="#c8c8c8"/><stop offset=".8250" stop-color="#c3c3c3"/><stop offset=".8625" stop-color="#a1a1a1"/><stop offset=".8750" stop-color="#9c9c9c"/><stop offset=".8875" stop-color="#a1a1a1"/><stop offset=".9250" stop-color="#bebebe"/><stop offset=".9375" stop-color="#c0c0c0"/><stop offset=".9500" stop-color="#b3b3b3"/><stop offset=".9875" stop-color="#767676"/><stop offset="1.0000" stop-color="#676767"/></linearGradient>
<linearGradient id="r67" gradientUnits="userSpaceOnUse" x1="224.3" y1="0" x2="1171.0" y2="0"><stop offset=".0000" stop-color="#474747"/><stop offset=".0125" stop-color="#4c4c4c"/><stop offset=".0250" stop-color="#555555"/><stop offset=".0750" stop-color="#838383"/><stop offset=".1125" stop-color="#a0a0a0"/><stop offset=".1250" stop-color="#a7a7a7"/><stop offset=".1500" stop-color="#acacac"/><stop offset=".1750" stop-color="#ababab"/><stop offset=".1875" stop-color="#a5a5a5"/><stop offset=".2000" stop-color="#979797"/><stop offset=".2250" stop-color="#717171"/><stop offset=".2375" stop-color="#626262"/><stop offset=".2500" stop-color="#5b5b5b"/><stop offset=".2625" stop-color="#5f5f5f"/><stop offset=".3000" stop-color="#858585"/><stop offset=".3125" stop-color="#8c8c8c"/><stop offset=".3250" stop-color="#8a8a8a"/><stop offset=".3625" stop-color="#727272"/><stop offset=".3750" stop-color="#747474"/><stop offset=".3875" stop-color="#828282"/><stop offset=".4250" stop-color="#c5c5c5"/><stop offset=".4375" stop-color="#d3d3d3"/><stop offset=".4500" stop-color="#d6d6d6"/><stop offset=".4625" stop-color="#d3d3d3"/><stop offset=".4875" stop-color="#c6c6c6"/><stop offset=".5000" stop-color="#bbbbbb"/><stop offset=".5375" stop-color="#8e8e8e"/><stop offset=".5500" stop-color="#848484"/><stop offset=".5625" stop-color="#828282"/><stop offset=".5750" stop-color="#8a8a8a"/><stop offset=".5875" stop-color="#999999"/><stop offset=".6125" stop-color="#bebebe"/><stop offset=".6250" stop-color="#cccccc"/><stop offset=".6375" stop-color="#d4d4d4"/><stop offset=".6625" stop-color="#dbdbdb"/><stop offset=".6750" stop-color="#dcdcdc"/><stop offset=".6875" stop-color="#d8d8d8"/><stop offset=".7000" stop-color="#cdcdcd"/><stop offset=".7250" stop-color="#aeaeae"/><stop offset=".7375" stop-color="#a2a2a2"/><stop offset=".7500" stop-color="#9c9c9c"/><stop offset=".7625" stop-color="#9f9f9f"/><stop offset=".8000" stop-color="#bbbbbb"/><stop offset=".8125" stop-color="#bfbfbf"/><stop offset=".8250" stop-color="#bcbcbc"/><stop offset=".8625" stop-color="#a1a1a1"/><stop offset=".8750" stop-color="#9e9e9e"/><stop offset=".8875" stop-color="#a1a1a1"/><stop offset=".9125" stop-color="#b0b0b0"/><stop offset=".9250" stop-color="#b6b6b6"/><stop offset=".9375" stop-color="#b4b4b4"/><stop offset=".9500" stop-color="#a9a9a9"/><stop offset=".9875" stop-color="#6f6f6f"/><stop offset="1.0000" stop-color="#616161"/></linearGradient>
<linearGradient id="r68" gradientUnits="userSpaceOnUse" x1="224.3" y1="0" x2="1171.0" y2="0"><stop offset=".0000" stop-color="#3d3d3d"/><stop offset=".0125" stop-color="#444444"/><stop offset=".0500" stop-color="#6e6e6e"/><stop offset=".0750" stop-color="#868686"/><stop offset=".1125" stop-color="#a4a4a4"/><stop offset=".1250" stop-color="#a8a8a8"/><stop offset=".1375" stop-color="#a7a7a7"/><stop offset=".1625" stop-color="#9a9a9a"/><stop offset=".2250" stop-color="#676767"/><stop offset=".2375" stop-color="#5e5e5e"/><stop offset=".2500" stop-color="#5b5b5b"/><stop offset=".2625" stop-color="#5f5f5f"/><stop offset=".3000" stop-color="#7d7d7d"/><stop offset=".3125" stop-color="#848484"/><stop offset=".3250" stop-color="#858585"/><stop offset=".3625" stop-color="#7d7d7d"/><stop offset=".3750" stop-color="#828282"/><stop offset=".3875" stop-color="#8f8f8f"/><stop offset=".4250" stop-color="#cacaca"/><stop offset=".4375" stop-color="#d4d4d4"/><stop offset=".4500" stop-color="#d4d4d4"/><stop offset=".4625" stop-color="#cbcbcb"/><stop offset=".5000" stop-color="#9f9f9f"/><stop offset=".5375" stop-color="#7d7d7d"/><stop offset=".5500" stop-color="#767676"/><stop offset=".5625" stop-color="#757575"/><stop offset=".5750" stop-color="#7d7d7d"/><stop offset=".5875" stop-color="#8d8d8d"/><stop offset=".6125" stop-color="#b1b1b1"/><stop offset=".6250" stop-color="#bfbfbf"/><stop offset=".6375" stop-color="#c6c6c6"/><stop offset=".6500" stop-color="#c9c9c9"/><stop offset=".6750" stop-color="#c9c9c9"/><stop offset=".6875" stop-color="#c5c5c5"/><stop offset=".7000" stop-color="#bcbcbc"/><stop offset=".7250" stop-color="#a7a7a7"/><stop offset=".7375" stop-color="#9f9f9f"/><stop offset=".7500" stop-color="#9b9b9b"/><stop offset=".7625" stop-color="#9e9e9e"/><stop offset=".8000" stop-color="#b8b8b8"/><stop offset=".8125" stop-color="#bbbbbb"/><stop offset=".8250" stop-color="#b8b8b8"/><stop offset=".8625" stop-color="#9e9e9e"/><stop offset=".8750" stop-color="#9a9a9a"/><stop offset=".8875" stop-color="#9d9d9d"/><stop offset=".9125" stop-color="#adadad"/><stop offset=".9250" stop-color="#b2b2b2"/><stop offset=".9375" stop-color="#b0b0b0"/><stop offset=".9500" stop-color="#a4a4a4"/><stop offset=".9625" stop-color="#919191"/><stop offset=".9875" stop-color="#656565"/><stop offset="1.0000" stop-color="#565656"/></linearGradient>
<linearGradient id="r69" gradientUnits="userSpaceOnUse" x1="224.3" y1="0" x2="1171.0" y2="0"><stop offset=".0000" stop-color="#2d2d2d"/><stop offset=".0125" stop-color="#3b3b3b"/><stop offset=".0375" stop-color="#616161"/><stop offset=".0625" stop-color="#7f7f7f"/><stop offset=".1125" stop-color="#a8a8a8"/><stop offset=".1250" stop-color="#adadad"/><stop offset=".1375" stop-color="#a5a5a5"/><stop offset=".1875" stop-color="#696969"/><stop offset=".2375" stop-color="#565656"/><stop offset=".2500" stop-color="#565656"/><stop offset=".2625" stop-color="#5b5b5b"/><stop offset=".3000" stop-color="#787878"/><stop offset=".3125" stop-color="#808080"/><stop offset=".3375" stop-color="#868686"/><stop offset=".3625" stop-color="#858585"/><stop offset=".3750" stop-color="#8a8a8a"/><stop offset=".3875" stop-color="#999999"/><stop offset=".4250" stop-color="#d4d4d4"/><stop offset=".4375" stop-color="#dedede"/><stop offset=".4500" stop-color="#d7d7d7"/><stop offset=".4625" stop-color="#c6c6c6"/><stop offset=".5000" stop-color="#828282"/><stop offset=".5500" stop-color="#656565"/><stop offset=".5625" stop-color="#626262"/><stop offset=".5750" stop-color="#6e6e6e"/><stop offset=".6125" stop-color="#a8a8a8"/><stop offset=".6250" stop-color="#b6b6b6"/><stop offset=".6375" stop-color="#bababa"/><stop offset=".6750" stop-color="#b7b7b7"/><stop offset=".6875" stop-color="#b4b4b4"/><stop offset=".7250" stop-color="#9c9c9c"/><stop offset=".7375" stop-color="#979797"/><stop offset=".7500" stop-color="#969696"/><stop offset=".7625" stop-color="#9a9a9a"/><stop offset=".7750" stop-color="#a2a2a2"/><stop offset=".8000" stop-color="#b7b7b7"/><stop offset=".8125" stop-color="#bdbdbd"/><stop offset=".8250" stop-color="#b8b8b8"/><stop offset=".8625" stop-color="#989898"/><stop offset=".8750" stop-color="#929292"/><stop offset=".8875" stop-color="#989898"/><stop offset=".9250" stop-color="#b3b3b3"/><stop offset=".9375" stop-color="#b4b4b4"/><stop offset=".9500" stop-color="#a5a5a5"/><stop offset=".9625" stop-color="#8e8e8e"/><stop offset=".9875" stop-color="#585858"/><stop offset="1.0000" stop-color="#444444"/></linearGradient>
<linearGradient id="r70" gradientUnits="userSpaceOnUse" x1="224.3" y1="0" x2="1171.0" y2="0"><stop offset=".0000" stop-color="#141414"/><stop offset=".0125" stop-color="#383838"/><stop offset=".0250" stop-color="#525252"/><stop offset=".0375" stop-color="#666666"/><stop offset=".0500" stop-color="#767676"/><stop offset=".0625" stop-color="#858585"/><stop offset=".1000" stop-color="#9d9d9d"/><stop offset=".1125" stop-color="#a8a8a8"/><stop offset=".1250" stop-color="#b8b8b8"/><stop offset=".1375" stop-color="#9f9f9f"/><stop offset=".1750" stop-color="#626262"/><stop offset=".1875" stop-color="#474747"/><stop offset=".2000" stop-color="#4e4e4e"/><stop offset=".2125" stop-color="#505050"/><stop offset=".2500" stop-color="#4c4c4c"/><stop offset=".3000" stop-color="#767676"/><stop offset=".3125" stop-color="#808080"/><stop offset=".3250" stop-color="#868686"/><stop offset=".3500" stop-color="#8d8d8d"/><stop offset=".3750" stop-color="#8c8c8c"/><stop offset=".4000" stop-color="#b9b9b9"/><stop offset=".4375" stop-color="#f2f2f2"/><stop offset=".4625" stop-color="#c3c3c3"/><stop offset=".4750" stop-color="#a8a8a8"/><stop offset=".4875" stop-color="#898989"/><stop offset=".5000" stop-color="#616161"/><stop offset=".5125" stop-color="#696969"/><stop offset=".5250" stop-color="#686868"/><stop offset=".5375" stop-color="#626262"/><stop offset=".5500" stop-color="#585858"/><stop offset=".5625" stop-color="#474747"/><stop offset=".5750" stop-color="#616161"/><stop offset=".6250" stop-color="#b2b2b2"/><stop offset=".6500" stop-color="#a7a7a7"/><stop offset=".6750" stop-color="#a4a4a4"/><stop offset=".6875" stop-color="#a6a6a6"/><stop offset=".7125" stop-color="#959595"/><stop offset=".7250" stop-color="#909090"/><stop offset=".7500" stop-color="#8c8c8c"/><stop offset=".7625" stop-color="#939393"/><stop offset=".7875" stop-color="#a7a7a7"/><stop offset=".8125" stop-color="#c4c4c4"/><stop offset=".8250" stop-color="#b6b6b6"/><stop offset=".8625" stop-color="#939393"/><stop offset=".8750" stop-color="#858585"/><stop offset=".8875" stop-color="#939393"/><stop offset=".9375" stop-color="#c2c2c2"/><stop offset=".9750" stop-color="#727272"/><stop offset=".9875" stop-color="#525252"/><stop offset="1.0000" stop-color="#292929"/></linearGradient>
<linearGradient id="r71" gradientUnits="userSpaceOnUse" x1="224.3" y1="0" x2="1171.0" y2="0"><stop offset=".0000" stop-color="#3c3c3c"/><stop offset=".0125" stop-color="#4a4a4a"/><stop offset=".0375" stop-color="#6f6f6f"/><stop offset=".0500" stop-color="#7e7e7e"/><stop offset=".0625" stop-color="#888888"/><stop offset=".0750" stop-color="#8f8f8f"/><stop offset=".1125" stop-color="#9c9c9c"/><stop offset=".1250" stop-color="#9b9b9b"/><stop offset=".1375" stop-color="#8e8e8e"/><stop offset=".1750" stop-color="#585858"/><stop offset=".1875" stop-color="#494949"/><stop offset=".2000" stop-color="#454545"/><stop offset=".2250" stop-color="#454545"/><stop offset=".2500" stop-color="#494949"/><stop offset=".2625" stop-color="#515151"/><stop offset=".3125" stop-color="#808080"/><stop offset=".3250" stop-color="#8a8a8a"/><stop offset=".3750" stop-color="#a6a6a6"/><stop offset=".4125" stop-color="#d5d5d5"/><stop offset=".4250" stop-color="#e2e2e2"/><stop offset=".4375" stop-color="#e6e6e6"/><stop offset=".4500" stop-color="#d8d8d8"/><stop offset=".4625" stop-color="#c1c1c1"/><stop offset=".4875" stop-color="#8a8a8a"/><stop offset=".5000" stop-color="#727272"/><stop offset=".5125" stop-color="#696969"/><stop offset=".5375" stop-color="#616161"/><stop offset=".5500" stop-color="#5a5a5a"/><stop offset=".5625" stop-color="#575757"/><stop offset=".5750" stop-color="#616161"/><stop offset=".6125" stop-color="#8c8c8c"/><stop offset=".6250" stop-color="#959595"/><stop offset=".6375" stop-color="#969696"/><stop offset=".7125" stop-color="#848484"/><stop offset=".7375" stop-color="#828282"/><stop offset=".7500" stop-color="#858585"/><stop offset=".7625" stop-color="#8c8c8c"/><stop offset=".8000" stop-color="#aaaaaa"/><stop offset=".8125" stop-color="#b1b1b1"/><stop offset=".8250" stop-color="#aeaeae"/><stop offset=".8625" stop-color="#959595"/><stop offset=".8750" stop-color="#909090"/><stop offset=".8875" stop-color="#969696"/><stop offset=".9250" stop-color="#afafaf"/><stop offset=".9375" stop-color="#b0b0b0"/><stop offset=".9500" stop-color="#a3a3a3"/><stop offset=".9625" stop-color="#8f8f8f"/><stop offset=".9875" stop-color="#5f5f5f"/><stop offset="1.0000" stop-color="#4e4e4e"/></linearGradient>
<linearGradient id="r72" gradientUnits="userSpaceOnUse" x1="224.3" y1="0" x2="1171.0" y2="0"><stop offset=".0000" stop-color="#5a5a5a"/><stop offset=".0125" stop-color="#636363"/><stop offset=".0500" stop-color="#878787"/><stop offset=".0625" stop-color="#8f8f8f"/><stop offset=".0750" stop-color="#929292"/><stop offset=".0875" stop-color="#929292"/><stop offset=".1125" stop-color="#8c8c8c"/><stop offset=".1250" stop-color="#858585"/><stop offset=".1375" stop-color="#7b7b7b"/><stop offset=".1750" stop-color="#515151"/><stop offset=".1875" stop-color="#464646"/><stop offset=".2000" stop-color="#404040"/><stop offset=".2125" stop-color="#3d3d3d"/><stop offset=".2375" stop-color="#3e3e3e"/><stop offset=".2500" stop-color="#424242"/><stop offset=".2625" stop-color="#4b4b4b"/><stop offset=".3250" stop-color="#8e8e8e"/><stop offset=".4000" stop-color="#d4d4d4"/><stop offset=".4125" stop-color="#dedede"/><stop offset=".4250" stop-color="#e5e5e5"/><stop offset=".4375" stop-color="#e4e4e4"/><stop offset=".4500" stop-color="#d7d7d7"/><stop offset=".4625" stop-color="#c2c2c2"/><stop offset=".4875" stop-color="#909090"/><stop offset=".5000" stop-color="#7c7c7c"/><stop offset=".5125" stop-color="#707070"/><stop offset=".5500" stop-color="#626262"/><stop offset=".5625" stop-color="#616161"/><stop offset=".5750" stop-color="#666666"/><stop offset=".6125" stop-color="#7a7a7a"/><stop offset=".6250" stop-color="#7e7e7e"/><stop offset=".6375" stop-color="#7e7e7e"/><stop offset=".6875" stop-color="#727272"/><stop offset=".7250" stop-color="#737373"/><stop offset=".7500" stop-color="#7b7b7b"/><stop offset=".8000" stop-color="#9e9e9e"/><stop offset=".8125" stop-color="#a3a3a3"/><stop offset=".8250" stop-color="#a4a4a4"/><stop offset=".8625" stop-color="#989898"/><stop offset=".8750" stop-color="#979797"/><stop offset=".9250" stop-color="#a8a8a8"/><stop offset=".9375" stop-color="#a7a7a7"/><stop offset=".9500" stop-color="#9f9f9f"/><stop offset=".9875" stop-color="#747474"/><stop offset="1.0000" stop-color="#6a6a6a"/></linearGradient>
<linearGradient id="r73" gradientUnits="userSpaceOnUse" x1="224.3" y1="0" x2="1171.0" y2="0"><stop offset=".0000" stop-color="#747474"/><stop offset=".0250" stop-color="#828282"/><stop offset=".0500" stop-color="#949494"/><stop offset=".0625" stop-color="#999999"/><stop offset=".0750" stop-color="#979797"/><stop offset=".0875" stop-color="#919191"/><stop offset=".1000" stop-color="#888888"/><stop offset=".1250" stop-color="#717171"/><stop offset=".1875" stop-color="#414141"/><stop offset=".2125" stop-color="#363636"/><stop offset=".2375" stop-color="#343434"/><stop offset=".2500" stop-color="#393939"/><stop offset=".2625" stop-color="#434343"/><stop offset=".2750" stop-color="#525252"/><stop offset=".3125" stop-color="#858585"/><stop offset=".3750" stop-color="#d0d0d0"/><stop offset=".4000" stop-color="#e2e2e2"/><stop offset=".4250" stop-color="#ededed"/><stop offset=".4375" stop-color="#eaeaea"/><stop offset=".4500" stop-color="#dcdcdc"/><stop offset=".4625" stop-color="#c6c6c6"/><stop offset=".4875" stop-color="#959595"/><stop offset=".5000" stop-color="#828282"/><stop offset=".5125" stop-color="#777777"/><stop offset=".5375" stop-color="#6d6d6d"/><stop offset=".5625" stop-color="#6a6a6a"/><stop offset=".6000" stop-color="#6c6c6c"/><stop offset=".6375" stop-color="#686868"/><stop offset=".6500" stop-color="#666666"/><stop offset=".6875" stop-color="#575757"/><stop offset=".7000" stop-color="#595959"/><stop offset=".7500" stop-color="#717171"/><stop offset=".8000" stop-color="#949494"/><stop offset=".8125" stop-color="#999999"/><stop offset=".8250" stop-color="#9c9c9c"/><stop offset=".8750" stop-color="#9b9b9b"/><stop offset=".9250" stop-color="#a4a4a4"/><stop offset=".9375" stop-color="#a2a2a2"/><stop offset=".9500" stop-color="#9e9e9e"/><stop offset="1.0000" stop-color="#818181"/></linearGradient>
<linearGradient id="r74" gradientUnits="userSpaceOnUse" x1="224.3" y1="0" x2="1171.0" y2="0"><stop offset=".0000" stop-color="#8d8d8d"/><stop offset=".0250" stop-color="#939393"/><stop offset=".0500" stop-color="#a2a2a2"/><stop offset=".0625" stop-color="#a7a7a7"/><stop offset=".0750" stop-color="#9f9f9f"/><stop offset=".0875" stop-color="#929292"/><stop offset=".1250" stop-color="#5d5d5d"/><stop offset=".1500" stop-color="#535353"/><stop offset=".2000" stop-color="#343434"/><stop offset=".2375" stop-color="#292929"/><stop offset=".2500" stop-color="#2c2c2c"/><stop offset=".2625" stop-color="#393939"/><stop offset=".2750" stop-color="#4b4b4b"/><stop offset=".3125" stop-color="#888888"/><stop offset=".3375" stop-color="#aaaaaa"/><stop offset=".3750" stop-color="#e5e5e5"/><stop offset=".3875" stop-color="#ececec"/><stop offset=".4250" stop-color="#f8f8f8"/><stop offset=".4375" stop-color="#f7f7f7"/><stop offset=".4500" stop-color="#e5e5e5"/><stop offset=".4875" stop-color="#989898"/><stop offset=".5000" stop-color="#848484"/><stop offset=".5125" stop-color="#7b7b7b"/><stop offset=".5625" stop-color="#747474"/><stop offset=".5875" stop-color="#6c6c6c"/><stop offset=".6250" stop-color="#585858"/><stop offset=".6500" stop-color="#555555"/><stop offset=".6625" stop-color="#4e4e4e"/><stop offset=".6750" stop-color="#434343"/><stop offset=".6875" stop-color="#3b3b3b"/><stop offset=".7000" stop-color="#434343"/><stop offset=".7250" stop-color="#585858"/><stop offset=".7500" stop-color="#656565"/><stop offset=".8000" stop-color="#8b8b8b"/><stop offset=".8250" stop-color="#969696"/><stop offset=".8750" stop-color="#9e9e9e"/><stop offset=".9250" stop-color="#a2a2a2"/><stop offset=".9750" stop-color="#989898"/><stop offset="1.0000" stop-color="#989898"/></linearGradient>
<linearGradient id="r75" gradientUnits="userSpaceOnUse" x1="224.3" y1="0" x2="1171.0" y2="0"><stop offset=".0000" stop-color="#a6a6a6"/><stop offset=".0125" stop-color="#9e9e9e"/><stop offset=".0250" stop-color="#9e9e9e"/><stop offset=".0375" stop-color="#a3a3a3"/><stop offset=".0500" stop-color="#acacac"/><stop offset=".0625" stop-color="#bababa"/><stop offset=".1000" stop-color="#808080"/><stop offset=".1125" stop-color="#676767"/><stop offset=".1250" stop-color="#454545"/><stop offset=".1375" stop-color="#4e4e4e"/><stop offset=".1500" stop-color="#4d4d4d"/><stop offset=".1625" stop-color="#474747"/><stop offset=".1875" stop-color="#333333"/><stop offset=".2500" stop-color="#191919"/><stop offset=".2875" stop-color="#5b5b5b"/><stop offset=".3125" stop-color="#8c8c8c"/><stop offset=".3250" stop-color="#9b9b9b"/><stop offset=".3375" stop-color="#adadad"/><stop offset=".3500" stop-color="#c2c2c2"/><stop offset=".3625" stop-color="#dddddd"/><stop offset=".3750" stop-color="#ffffff"/><stop offset=".3875" stop-color="#f7f7f7"/><stop offset=".4000" stop-color="#f5f5f5"/><stop offset=".4250" stop-color="#ffffff"/><stop offset=".4375" stop-color="#ffffff"/><stop offset=".4500" stop-color="#ededed"/><stop offset=".4875" stop-color="#9c9c9c"/><stop offset=".5000" stop-color="#7f7f7f"/><stop offset=".5125" stop-color="#818181"/><stop offset=".5625" stop-color="#7f7f7f"/><stop offset=".6000" stop-color="#666666"/><stop offset=".6125" stop-color="#585858"/><stop offset=".6250" stop-color="#454545"/><stop offset=".6375" stop-color="#4c4c4c"/><stop offset=".6500" stop-color="#4c4c4c"/><stop offset=".6625" stop-color="#444444"/><stop offset=".6750" stop-color="#353535"/><stop offset=".6875" stop-color="#1a1a1a"/><stop offset=".7000" stop-color="#353535"/><stop offset=".7125" stop-color="#474747"/><stop offset=".7250" stop-color="#515151"/><stop offset=".7375" stop-color="#575757"/><stop offset=".7500" stop-color="#595959"/><stop offset=".7750" stop-color="#717171"/><stop offset=".8125" stop-color="#8c8c8c"/><stop offset=".8750" stop-color="#a1a1a1"/><stop offset=".9375" stop-color="#a1a1a1"/><stop offset=".9625" stop-color="#9e9e9e"/><stop offset=".9750" stop-color="#9f9f9f"/><stop offset=".9875" stop-color="#a4a4a4"/><stop offset="1.0000" stop-color="#b0b0b0"/></linearGradient>
<linearGradient id="r76" gradientUnits="userSpaceOnUse" x1="224.3" y1="0" x2="1171.0" y2="0"><stop offset=".0000" stop-color="#9e9e9e"/><stop offset=".0250" stop-color="#a1a1a1"/><stop offset=".0500" stop-color="#acacac"/><stop offset=".0625" stop-color="#aeaeae"/><stop offset=".0750" stop-color="#a5a5a5"/><stop offset=".0875" stop-color="#969696"/><stop offset=".1250" stop-color="#5d5d5d"/><stop offset=".1500" stop-color="#505050"/><stop offset=".2000" stop-color="#2a2a2a"/><stop offset=".2250" stop-color="#1f1f1f"/><stop offset=".2375" stop-color="#1b1b1b"/><stop offset=".2500" stop-color="#1e1e1e"/><stop offset=".2625" stop-color="#2c2c2c"/><stop offset=".2750" stop-color="#404040"/><stop offset=".3125" stop-color="#838383"/><stop offset=".3375" stop-color="#aaaaaa"/><stop offset=".3625" stop-color="#d7d7d7"/><stop offset=".3750" stop-color="#ebebeb"/><stop offset=".3875" stop-color="#f1f1f1"/><stop offset=".4250" stop-color="#fcfcfc"/><stop offset=".4375" stop-color="#fbfbfb"/><stop offset=".4500" stop-color="#ebebeb"/><stop offset=".4875" stop-color="#a8a8a8"/><stop offset=".5000" stop-color="#969696"/><stop offset=".5125" stop-color="#8f8f8f"/><stop offset=".5625" stop-color="#858585"/><stop offset=".5875" stop-color="#757575"/><stop offset=".6250" stop-color="#535353"/><stop offset=".6500" stop-color="#4e4e4e"/><stop offset=".6625" stop-color="#474747"/><stop offset=".6750" stop-color="#3c3c3c"/><stop offset=".6875" stop-color="#353535"/><stop offset=".7250" stop-color="#525252"/><stop offset=".7500" stop-color="#5c5c5c"/><stop offset=".8125" stop-color="#828282"/><stop offset=".8625" stop-color="#9b9b9b"/><stop offset=".8875" stop-color="#a1a1a1"/><stop offset=".9625" stop-color="#9d9d9d"/><stop offset="1.0000" stop-color="#a7a7a7"/></linearGradient>
<linearGradient id="r77" gradientUnits="userSpaceOnUse" x1="224.3" y1="0" x2="1171.0" y2="0"><stop offset=".0000" stop-color="#979797"/><stop offset=".0500" stop-color="#a7a7a7"/><stop offset=".0625" stop-color="#a7a7a7"/><stop offset=".0750" stop-color="#a2a2a2"/><stop offset=".1000" stop-color="#8d8d8d"/><stop offset=".1875" stop-color="#313131"/><stop offset=".2125" stop-color="#202020"/><stop offset=".2250" stop-color="#1b1b1b"/><stop offset=".2375" stop-color="#191919"/><stop offset=".2500" stop-color="#1d1d1d"/><stop offset=".2625" stop-color="#292929"/><stop offset=".2750" stop-color="#3b3b3b"/><stop offset=".3125" stop-color="#7b7b7b"/><stop offset=".3500" stop-color="#b7b7b7"/><stop offset=".3625" stop-color="#cbcbcb"/><stop offset=".3750" stop-color="#dbdbdb"/><stop offset=".3875" stop-color="#e5e5e5"/><stop offset=".4000" stop-color="#ececec"/><stop offset=".4250" stop-color="#f3f3f3"/><stop offset=".4375" stop-color="#f1f1f1"/><stop offset=".4500" stop-color="#e6e6e6"/><stop offset=".4875" stop-color="#b4b4b4"/><stop offset=".5000" stop-color="#a6a6a6"/><stop offset=".5125" stop-color="#9e9e9e"/><stop offset=".5625" stop-color="#8d8d8d"/><stop offset=".5750" stop-color="#868686"/><stop offset=".6250" stop-color="#606060"/><stop offset=".6750" stop-color="#4e4e4e"/><stop offset=".6875" stop-color="#4b4b4b"/><stop offset=".7000" stop-color="#4e4e4e"/><stop offset=".8000" stop-color="#727272"/><stop offset=".8250" stop-color="#808080"/><stop offset=".8625" stop-color="#9b9b9b"/><stop offset=".8750" stop-color="#a0a0a0"/><stop offset=".8875" stop-color="#a2a2a2"/><stop offset=".9250" stop-color="#9b9b9b"/><stop offset=".9500" stop-color="#999999"/><stop offset="1.0000" stop-color="#a1a1a1"/></linearGradient>
<linearGradient id="r78" gradientUnits="userSpaceOnUse" x1="224.3" y1="0" x2="1171.0" y2="0"><stop offset=".0000" stop-color="#919191"/><stop offset=".0375" stop-color="#9f9f9f"/><stop offset=".0625" stop-color="#a4a4a4"/><stop offset=".0750" stop-color="#a2a2a2"/><stop offset=".1000" stop-color="#979797"/><stop offset=".1125" stop-color="#909090"/><stop offset=".1250" stop-color="#858585"/><stop offset=".1375" stop-color="#767676"/><stop offset=".1750" stop-color="#3e3e3e"/><stop offset=".1875" stop-color="#2e2e2e"/><stop offset=".2000" stop-color="#242424"/><stop offset=".2125" stop-color="#1c1c1c"/><stop offset=".2375" stop-color="#131313"/><stop offset=".2500" stop-color="#161616"/><stop offset=".2625" stop-color="#232323"/><stop offset=".2750" stop-color="#353535"/><stop offset=".3375" stop-color="#9b9b9b"/><stop offset=".3625" stop-color="#bfbfbf"/><stop offset=".3750" stop-color="#cecece"/><stop offset=".4000" stop-color="#e2e2e2"/><stop offset=".4250" stop-color="#ededed"/><stop offset=".4375" stop-color="#ebebeb"/><stop offset=".4500" stop-color="#e4e4e4"/><stop offset=".4875" stop-color="#bebebe"/><stop offset=".5125" stop-color="#ababab"/><stop offset=".5625" stop-color="#989898"/><stop offset=".6250" stop-color="#6c6c6c"/><stop offset=".6375" stop-color="#676767"/><stop offset=".6625" stop-color="#626262"/><stop offset=".7125" stop-color="#5f5f5f"/><stop offset=".8000" stop-color="#686868"/><stop offset=".8125" stop-color="#6d6d6d"/><stop offset=".8250" stop-color="#777777"/><stop offset=".8625" stop-color="#9d9d9d"/><stop offset=".8750" stop-color="#a4a4a4"/><stop offset=".8875" stop-color="#a4a4a4"/><stop offset=".9375" stop-color="#939393"/><stop offset="1.0000" stop-color="#9c9c9c"/></linearGradient>
<linearGradient id="r79" gradientUnits="userSpaceOnUse" x1="224.3" y1="0" x2="1171.0" y2="0"><stop offset=".0000" stop-color="#898989"/><stop offset=".0375" stop-color="#9b9b9b"/><stop offset=".0625" stop-color="#a2a2a2"/><stop offset=".1125" stop-color="#a1a1a1"/><stop offset=".1250" stop-color="#9c9c9c"/><stop offset=".1375" stop-color="#888888"/><stop offset=".1750" stop-color="#3d3d3d"/><stop offset=".1875" stop-color="#2a2a2a"/><stop offset=".2000" stop-color="#202020"/><stop offset=".2375" stop-color="#0c0c0c"/><stop offset=".2500" stop-color="#0b0b0b"/><stop offset=".2625" stop-color="#1a1a1a"/><stop offset=".3000" stop-color="#595959"/><stop offset=".3500" stop-color="#a5a5a5"/><stop offset=".3625" stop-color="#b4b4b4"/><stop offset=".3875" stop-color="#cecece"/><stop offset=".4125" stop-color="#e1e1e1"/><stop offset=".4250" stop-color="#e8e8e8"/><stop offset=".4375" stop-color="#eaeaea"/><stop offset=".4500" stop-color="#e3e3e3"/><stop offset=".4750" stop-color="#cecece"/><stop offset=".5125" stop-color="#b5b5b5"/><stop offset=".5375" stop-color="#aaaaaa"/><stop offset=".5625" stop-color="#a4a4a4"/><stop offset=".6125" stop-color="#7d7d7d"/><stop offset=".6375" stop-color="#727272"/><stop offset=".6500" stop-color="#707070"/><stop offset=".6875" stop-color="#757575"/><stop offset=".7250" stop-color="#696969"/><stop offset=".7750" stop-color="#646464"/><stop offset=".8000" stop-color="#5e5e5e"/><stop offset=".8125" stop-color="#606060"/><stop offset=".8250" stop-color="#6d6d6d"/><stop offset=".8625" stop-color="#a1a1a1"/><stop offset=".8750" stop-color="#ababab"/><stop offset=".8875" stop-color="#a9a9a9"/><stop offset=".9250" stop-color="#919191"/><stop offset=".9375" stop-color="#8b8b8b"/><stop offset="1.0000" stop-color="#9a9a9a"/></linearGradient>
<linearGradient id="r80" gradientUnits="userSpaceOnUse" x1="224.3" y1="0" x2="1171.0" y2="0"><stop offset=".0000" stop-color="#7f7f7f"/><stop offset=".0250" stop-color="#919191"/><stop offset=".0500" stop-color="#9c9c9c"/><stop offset=".0625" stop-color="#a1a1a1"/><stop offset=".1000" stop-color="#a6a6a6"/><stop offset=".1125" stop-color="#adadad"/><stop offset=".1250" stop-color="#bababa"/><stop offset=".1375" stop-color="#959595"/><stop offset=".1500" stop-color="#767676"/><stop offset=".1875" stop-color="#212121"/><stop offset=".2000" stop-color="#202020"/><stop offset=".2125" stop-color="#1c1c1c"/><stop offset=".2250" stop-color="#141414"/><stop offset=".2500" stop-color="#000000"/><stop offset=".2875" stop-color="#434343"/><stop offset=".3125" stop-color="#666666"/><stop offset=".3375" stop-color="#8c8c8c"/><stop offset=".3500" stop-color="#9d9d9d"/><stop offset=".3875" stop-color="#c4c4c4"/><stop offset=".4375" stop-color="#ededed"/><stop offset=".4625" stop-color="#d7d7d7"/><stop offset=".4875" stop-color="#c9c9c9"/><stop offset=".5000" stop-color="#c7c7c7"/><stop offset=".5125" stop-color="#bbbbbb"/><stop offset=".5250" stop-color="#b4b4b4"/><stop offset=".5375" stop-color="#b0b0b0"/><stop offset=".5500" stop-color="#afafaf"/><stop offset=".5625" stop-color="#b3b3b3"/><stop offset=".5750" stop-color="#a3a3a3"/><stop offset=".5875" stop-color="#969696"/><stop offset=".6125" stop-color="#858585"/><stop offset=".6250" stop-color="#7f7f7f"/><stop offset=".6500" stop-color="#7a7a7a"/><stop offset=".6625" stop-color="#7c7c7c"/><stop offset=".6750" stop-color="#818181"/><stop offset=".6875" stop-color="#8c8c8c"/><stop offset=".7000" stop-color="#7e7e7e"/><stop offset=".7125" stop-color="#767676"/><stop offset=".7250" stop-color="#707070"/><stop offset=".7875" stop-color="#5f5f5f"/><stop offset=".8000" stop-color="#585858"/><stop offset=".8125" stop-color="#4c4c4c"/><stop offset=".8250" stop-color="#666666"/><stop offset=".8625" stop-color="#a3a3a3"/><stop offset=".8750" stop-color="#bababa"/><stop offset=".8875" stop-color="#ababab"/><stop offset=".9375" stop-color="#7f7f7f"/><stop offset=".9625" stop-color="#8d8d8d"/><stop offset="1.0000" stop-color="#999999"/></linearGradient>
<linearGradient id="vg" x1="0" y1="0" x2="0" y2="1"><stop offset="0" stop-color="#000"/><stop offset="1" stop-color="#fff"/></linearGradient>
<mask id="vm" maskContentUnits="objectBoundingBox"><rect width="1" height="1" fill="url(#vg)"/></mask>
<filter id="cmap" filterUnits="userSpaceOnUse" x="200" y="380" width="1000" height="760" color-interpolation-filters="sRGB"><feGaussianBlur stdDeviation="1.8"/><feComponentTransfer><feFuncR type="table" tableValues="0.486 0.483 0.480 0.474 0.467 0.460 0.456 0.452 0.448 0.444 0.441 0.439 0.437 0.443 0.480 0.517 0.554 0.584 0.610 0.637 0.647 0.659 0.687 0.716 0.745 0.782 0.819 0.856 0.872 0.874 0.869 0.861 0.854 0.845 0.835 0.825 0.816 0.808 0.800 0.792 0.784"/><feFuncG type="table" tableValues="0.682 0.687 0.692 0.703 0.717 0.731 0.736 0.740 0.744 0.748 0.701 0.641 0.581 0.521 0.458 0.394 0.331 0.284 0.247 0.211 0.196 0.229 0.312 0.395 0.478 0.601 0.723 0.845 0.889 0.880 0.833 0.777 0.721 0.663 0.606 0.548 0.490 0.454 0.418 0.381 0.345"/><feFuncB type="table" tableValues="0.314 0.343 0.373 0.428 0.501 0.574 0.610 0.638 0.665 0.693 0.724 0.757 0.790 0.818 0.827 0.837 0.847 0.855 0.861 0.868 0.871 0.853 0.809 0.765 0.722 0.660 0.599 0.538 0.506 0.493 0.474 0.453 0.432 0.414 0.397 0.381 0.365 0.354 0.343 0.332 0.322"/><feFuncA type="linear" slope="0" intercept="1"/></feComponentTransfer></filter>
<clipPath id="rc"><rect x="222" y="398" width="950" height="723"/></clipPath>
<filter id="soft" filterUnits="userSpaceOnUse" x="-10" y="-10" width="1420" height="1259" color-interpolation-filters="sRGB"><feGaussianBlur stdDeviation="0.65"/></filter>
</defs>
<rect width="1400" height="1239" fill="#fff"/>
<g filter="url(#soft)">
<g clip-path="url(#rc)"><g filter="url(#cmap)"><rect x="190" y="370" width="1020" height="31" fill="url(#r0)"/><rect x="190" y="400" width="1020" height="9" fill="url(#r0)"/><rect x="190" y="400" width="1020" height="9" fill="url(#r1)" mask="url(#vm)"/><rect x="190" y="409" width="1020" height="9" fill="url(#r1)"/><rect x="190" y="409" width="1020" height="9" fill="url(#r2)" mask="url(#vm)"/><rect x="190" y="418" width="1020" height="9" fill="url(#r2)"/><rect x="190" y="418" width="1020" height="9" fill="url(#r3)" mask="url(#vm)"/><rect x="190" y="427" width="1020" height="9" fill="url(#r3)"/><rect x="190" y="427" width="1020" height="9" fill="url(#r4)" mask="url(#vm)"/><rect x="190" y="436" width="1020" height="9" fill="url(#r4)"/><rect x="190" y="436" width="1020" height="9" fill="url(#r5)" mask="url(#vm)"/><rect x="190" y="445" width="1020" height="9" fill="url(#r5)"/><rect x="190" y="445" width="1020" height="9" fill="url(#r6)" mask="url(#vm)"/><rect x="190" y="454" width="1020" height="9" fill="url(#r6)"/><rect x="190" y="454" width="1020" height="9" fill="url(#r7)" mask="url(#vm)"/><rect x="190" y="463" width="1020" height="9" fill="url(#r7)"/><rect x="190" y="463" width="1020" height="9" fill="url(#r8)" mask="url(#vm)"/><rect x="190" y="472" width="1020" height="9" fill="url(#r8)"/><rect x="190" y="472" width="1020" height="9" fill="url(#r9)" mask="url(#vm)"/><rect x="190" y="481" width="1020" height="9" fill="url(#r9)"/><rect x="190" y="481" width="1020" height="9" fill="url(#r10)" mask="url(#vm)"/><rect x="190" y="490" width="1020" height="9" fill="url(#r10)"/><rect x="190" y="490" width="1020" height="9" fill="url(#r11)" mask="url(#vm)"/><rect x="190" y="499" width="1020" height="9" fill="url(#r11)"/><rect x="190" y="499" width="1020" height="9" fill="url(#r12)" mask="url(#vm)"/><rect x="190" y="508" width="1020" height="8" fill="url(#r12)"/><rect x="190" y="508" width="1020" height="8" fill="url(#r13)" mask="url(#vm)"/><rect x="190" y="516" width="1020" height="9" fill="url(#r13)"/><rect x="190" y="516" width="1020" height="9" fill="url(#r14)" mask="url(#vm)"/><rect x="190" y="525" width="1020" height="9" fill="url(#r14)"/><rect x="190" y="525" width="1020" height="9" fill="url(#r15)" mask="url(#vm)"/><rect x="190" y="534" width="1020" height="9" fill="url(#r15)"/><rect x="190" y="534" width="1020" height="9" fill="url(#r16)" mask="url(#vm)"/><rect x="190" y="543" width="1020" height="9" fill="url(#r16)"/><rect x="190" y="543" width="1020" height="9" fill="url(#r17)" mask="url(#vm)"/><rect x="190" y="552" width="1020" height="9" fill="url(#r17)"/><rect x="190" y="552" width="1020" height="9" fill="url(#r18)" mask="url(#vm)"/><rect x="190" y="561" width="1020" height="9" fill="url(#r18)"/><rect x="190" y="561" width="1020" height="9" fill="url(#r19)" mask="url(#vm)"/><rect x="190" y="570" width="1020" height="9" fill="url(#r19)"/><rect x="190" y="570" width="1020" height="9" fill="url(#r20)" mask="url(#vm)"/><rect x="190" y="579" width="1020" height="9" fill="url(#r20)"/><rect x="190" y="579" width="1020" height="9" fill="url(#r21)" mask="url(#vm)"/><rect x="190" y="588" width="1020" height="9" fill="url(#r21)"/><rect x="190" y="588" width="1020" height="9" fill="url(#r22)" mask="url(#vm)"/><rect x="190" y="597" width="1020" height="9" fill="url(#r22)"/><rect x="190" y="597" width="1020" height="9" fill="url(#r23)" mask="url(#vm)"/><rect x="190" y="606" width="1020" height="9" fill="url(#r23)"/><rect x="190" y="606" width="1020" height="9" fill="url(#r24)" mask="url(#vm)"/><rect x="190" y="615" width="1020" height="9" fill="url(#r24)"/><rect x="190" y="615" width="1020" height="9" fill="url(#r25)" mask="url(#vm)"/><rect x="190" y="624" width="1020" height="9" fill="url(#r25)"/><rect x="190" y="624" width="1020" height="9" fill="url(#r26)" mask="url(#vm)"/><rect x="190" y="633" width="1020" height="9" fill="url(#r26)"/><rect x="190" y="633" width="1020" height="9" fill="url(#r27)" mask="url(#vm)"/><rect x="190" y="642" width="1020" height="9" fill="url(#r27)"/><rect x="190" y="642" width="1020" height="9" fill="url(#r28)" mask="url(#vm)"/><rect x="190" y="651" width="1020" height="9" fill="url(#r28)"/><rect x="190" y="651" width="1020" height="9" fill="url(#r29)" mask="url(#vm)"/><rect x="190" y="660" width="1020" height="9" fill="url(#r29)"/><rect x="190" y="660" width="1020" height="9" fill="url(#r30)" mask="url(#vm)"/><rect x="190" y="669" width="1020" height="9" fill="url(#r30)"/><rect x="190" y="669" width="1020" height="9" fill="url(#r31)" mask="url(#vm)"/><rect x="190" y="678" width="1020" height="9" fill="url(#r31)"/><rect x="190" y="678" width="1020" height="9" fill="url(#r32)" mask="url(#vm)"/><rect x="190" y="687" width="1020" height="9" fill="url(#r32)"/><rect x="190" y="687" width="1020" height="9" fill="url(#r33)" mask="url(#vm)"/><rect x="190" y="696" width="1020" height="9" fill="url(#r33)"/><rect x="190" y="696" width="1020" height="9" fill="url(#r34)" mask="url(#vm)"/><rect x="190" y="705" width="1020" height="9" fill="url(#r34)"/><rect x="190" y="705" width="1020" height="9" fill="url(#r35)" mask="url(#vm)"/><rect x="190" y="714" width="1020" height="9" fill="url(#r35)"/><rect x="190" y="714" width="1020" height="9" fill="url(#r36)" mask="url(#vm)"/><rect x="190" y="723" width="1020" height="9" fill="url(#r36)"/><rect x="190" y="723" width="1020" height="9" fill="url(#r37)" mask="url(#vm)"/><rect x="190" y="732" width="1020" height="8" fill="url(#r37)"/><rect x="190" y="732" width="1020" height="8" fill="url(#r38)" mask="url(#vm)"/><rect x="190" y="740" width="1020" height="9" fill="url(#r38)"/><rect x="190" y="740" width="1020" height="9" fill="url(#r39)" mask="url(#vm)"/><rect x="190" y="749" width="1020" height="9" fill="url(#r39)"/><rect x="190" y="749" width="1020" height="9" fill="url(#r40)" mask="url(#vm)"/><rect x="190" y="758" width="1020" height="9" fill="url(#r40)"/><rect x="190" y="758" width="1020" height="9" fill="url(#r41)" mask="url(#vm)"/><rect x="190" y="767" width="1020" height="9" fill="url(#r41)"/><rect x="190" y="767" width="1020" height="9" fill="url(#r42)" mask="url(#vm)"/><rect x="190" y="776" width="1020" height="9" fill="url(#r42)"/><rect x="190" y="776" width="1020" height="9" fill="url(#r43)" mask="url(#vm)"/><rect x="190" y="785" width="1020" height="9" fill="url(#r43)"/><rect x="190" y="785" width="1020" height="9" fill="url(#r44)" mask="url(#vm)"/><rect x="190" y="794" width="1020" height="9" fill="url(#r44)"/><rect x="190" y="794" width="1020" height="9" fill="url(#r45)" mask="url(#vm)"/><rect x="190" y="803" width="1020" height="9" fill="url(#r45)"/><rect x="190" y="803" width="1020" height="9" fill="url(#r46)" mask="url(#vm)"/><rect x="190" y="812" width="1020" height="9" fill="url(#r46)"/><rect x="190" y="812" width="1020" height="9" fill="url(#r47)" mask="url(#vm)"/><rect x="190" y="821" width="1020" height="9" fill="url(#r47)"/><rect x="190" y="821" width="1020" height="9" fill="url(#r48)" mask="url(#vm)"/><rect x="190" y="830" width="1020" height="9" fill="url(#r48)"/><rect x="190" y="830" width="1020" height="9" fill="url(#r49)" mask="url(#vm)"/><rect x="190" y="839" width="1020" height="9" fill="url(#r49)"/><rect x="190" y="839" width="1020" height="9" fill="url(#r50)" mask="url(#vm)"/><rect x="190" y="848" width="1020" height="9" fill="url(#r50)"/><rect x="190" y="848" width="1020" height="9" fill="url(#r51)" mask="url(#vm)"/><rect x="190" y="857" width="1020" height="9" fill="url(#r51)"/><rect x="190" y="857" width="1020" height="9" fill="url(#r52)" mask="url(#vm)"/><rect x="190" y="866" width="1020" height="9" fill="url(#r52)"/><rect x="190" y="866" width="1020" height="9" fill="url(#r53)" mask="url(#vm)"/><rect x="190" y="875" width="1020" height="9" fill="url(#r53)"/><rect x="190" y="875" width="1020" height="9" fill="url(#r54)" mask="url(#vm)"/><rect x="190" y="884" width="1020" height="9" fill="url(#r54)"/><rect x="190" y="884" width="1020" height="9" fill="url(#r55)" mask="url(#vm)"/><rect x="190" y="893" width="1020" height="9" fill="url(#r55)"/><rect x="190" y="893" width="1020" height="9" fill="url(#r56)" mask="url(#vm)"/><rect x="190" y="902" width="1020" height="9" fill="url(#r56)"/><rect x="190" y="902" width="1020" height="9" fill="url(#r57)" mask="url(#vm)"/><rect x="190" y="911" width="1020" height="9" fill="url(#r57)"/><rect x="190" y="911" width="1020" height="9" fill="url(#r58)" mask="url(#vm)"/><rect x="190" y="920" width="1020" height="9" fill="url(#r58)"/><rect x="190" y="920" width="1020" height="9" fill="url(#r59)" mask="url(#vm)"/><rect x="190" y="929" width="1020" height="9" fill="url(#r59)"/><rect x="190" y="929" width="1020" height="9" fill="url(#r60)" mask="url(#vm)"/><rect x="190" y="938" width="1020" height="9" fill="url(#r60)"/><rect x="190" y="938" width="1020" height="9" fill="url(#r61)" mask="url(#vm)"/><rect x="190" y="947" width="1020" height="9" fill="url(#r61)"/><rect x="190" y="947" width="1020" height="9" fill="url(#r62)" mask="url(#vm)"/><rect x="190" y="956" width="1020" height="8" fill="url(#r62)"/><rect x="190" y="956" width="1020" height="8" fill="url(#r63)" mask="url(#vm)"/><rect x="190" y="964" width="1020" height="9" fill="url(#r63)"/><rect x="190" y="964" width="1020" height="9" fill="url(#r64)" mask="url(#vm)"/><rect x="190" y="973" width="1020" height="9" fill="url(#r64)"/><rect x="190" y="973" width="1020" height="9" fill="url(#r65)" mask="url(#vm)"/><rect x="190" y="982" width="1020" height="9" fill="url(#r65)"/><rect x="190" y="982" width="1020" height="9" fill="url(#r66)" mask="url(#vm)"/><rect x="190" y="991" width="1020" height="9" fill="url(#r66)"/><rect x="190" y="991" width="1020" height="9" fill="url(#r67)" mask="url(#vm)"/><rect x="190" y="1000" width="1020" height="9" fill="url(#r67)"/><rect x="190" y="1000" width="1020" height="9" fill="url(#r68)" mask="url(#vm)"/><rect x="190" y="1009" width="1020" height="9" fill="url(#r68)"/><rect x="190" y="1009" width="1020" height="9" fill="url(#r69)" mask="url(#vm)"/><rect x="190" y="1018" width="1020" height="9" fill="url(#r69)"/><rect x="190" y="1018" width="1020" height="9" fill="url(#r70)" mask="url(#vm)"/><rect x="190" y="1027" width="1020" height="9" fill="url(#r70)"/><rect x="190" y="1027" width="1020" height="9" fill="url(#r71)" mask="url(#vm)"/><rect x="190" y="1036" width="1020" height="9" fill="url(#r71)"/><rect x="190" y="1036" width="1020" height="9" fill="url(#r72)" mask="url(#vm)"/><rect x="190" y="1045" width="1020" height="9" fill="url(#r72)"/><rect x="190" y="1045" width="1020" height="9" fill="url(#r73)" mask="url(#vm)"/><rect x="190" y="1054" width="1020" height="9" fill="url(#r73)"/><rect x="190" y="1054" width="1020" height="9" fill="url(#r74)" mask="url(#vm)"/><rect x="190" y="1063" width="1020" height="9" fill="url(#r74)"/><rect x="190" y="1063" width="1020" height="9" fill="url(#r75)" mask="url(#vm)"/><rect x="190" y="1072" width="1020" height="9" fill="url(#r75)"/><rect x="190" y="1072" width="1020" height="9" fill="url(#r76)" mask="url(#vm)"/><rect x="190" y="1081" width="1020" height="9" fill="url(#r76)"/><rect x="190" y="1081" width="1020" height="9" fill="url(#r77)" mask="url(#vm)"/><rect x="190" y="1090" width="1020" height="9" fill="url(#r77)"/><rect x="190" y="1090" width="1020" height="9" fill="url(#r78)" mask="url(#vm)"/><rect x="190" y="1099" width="1020" height="9" fill="url(#r78)"/><rect x="190" y="1099" width="1020" height="9" fill="url(#r79)" mask="url(#vm)"/><rect x="190" y="1108" width="1020" height="9" fill="url(#r79)"/><rect x="190" y="1108" width="1020" height="9" fill="url(#r80)" mask="url(#vm)"/><rect x="190" y="1117" width="1020" height="31" fill="url(#r80)"/></g></g>
<rect x="224.1" y="399.2" width="946.2" height="720.6" fill="none" stroke="#26221f" stroke-width="5"/>
<text x="420.7" y="43" font-size="53" font-family="&quot;Liberation Sans&quot;, sans-serif" fill="#000">Sliding rods</text>
<line x1="443.3" y1="70.0" x2="366.8" y2="258.6" stroke="#626262" stroke-width="3.2" stroke-dasharray="3.4 2.4"/>
<line x1="521.0" y1="62.5" x2="541.4" y2="111.8" stroke="#626262" stroke-width="3.2" stroke-dasharray="3.4 2.4"/>
<line x1="653.4" y1="73.7" x2="723.8" y2="172.0" stroke="#8c8c8c" stroke-width="2.2"/>
<line x1="757.8" y1="49.9" x2="955.7" y2="163.6" stroke="#626262" stroke-width="3.2" stroke-dasharray="3.4 2.4"/>
<line x1="153.2" y1="455.2" x2="239.3" y2="455.2" stroke="#050505" stroke-width="6.4" stroke-linecap="round"/>
<line x1="152.0" y1="495.3" x2="237.9" y2="495.3" stroke="#050505" stroke-width="6.4" stroke-linecap="round"/>
<line x1="150.8" y1="535.4" x2="236.4" y2="535.4" stroke="#050505" stroke-width="6.4" stroke-linecap="round"/>
<line x1="149.5" y1="575.6" x2="235.0" y2="575.6" stroke="#050505" stroke-width="6.4" stroke-linecap="round"/>
<line x1="148.3" y1="615.7" x2="233.5" y2="615.7" stroke="#050505" stroke-width="6.4" stroke-linecap="round"/>
<line x1="147.1" y1="655.8" x2="232.1" y2="655.8" stroke="#050505" stroke-width="6.4" stroke-linecap="round"/>
<line x1="145.9" y1="695.9" x2="230.6" y2="695.9" stroke="#050505" stroke-width="6.4" stroke-linecap="round"/>
<line x1="144.7" y1="736.0" x2="229.2" y2="736.0" stroke="#050505" stroke-width="6.4" stroke-linecap="round"/>
<line x1="143.4" y1="776.2" x2="227.7" y2="776.2" stroke="#050505" stroke-width="6.4" stroke-linecap="round"/>
<line x1="142.2" y1="816.3" x2="226.2" y2="816.3" stroke="#050505" stroke-width="6.4" stroke-linecap="round"/>
<line x1="141.0" y1="856.4" x2="224.8" y2="856.4" stroke="#050505" stroke-width="6.4" stroke-linecap="round"/>
<line x1="139.8" y1="896.5" x2="224.5" y2="896.5" stroke="#050505" stroke-width="6.4" stroke-linecap="round"/>
<line x1="138.6" y1="936.6" x2="224.5" y2="936.6" stroke="#050505" stroke-width="6.4" stroke-linecap="round"/>
<line x1="137.3" y1="976.8" x2="224.5" y2="976.8" stroke="#050505" stroke-width="6.4" stroke-linecap="round"/>
<line x1="136.1" y1="1016.9" x2="224.5" y2="1016.9" stroke="#050505" stroke-width="6.4" stroke-linecap="round"/>
<line x1="1165.5" y1="449.3" x2="1251.5" y2="452.2" stroke="#050505" stroke-width="6.4" stroke-linecap="round"/>
<line x1="1165.5" y1="489.4" x2="1251.3" y2="492.3" stroke="#050505" stroke-width="6.4" stroke-linecap="round"/>
<line x1="1165.5" y1="529.5" x2="1251.2" y2="532.4" stroke="#050505" stroke-width="6.4" stroke-linecap="round"/>
<line x1="1165.5" y1="569.6" x2="1251.0" y2="572.5" stroke="#050505" stroke-width="6.4" stroke-linecap="round"/>
<line x1="1165.5" y1="609.7" x2="1250.9" y2="612.6" stroke="#050505" stroke-width="6.4" stroke-linecap="round"/>
<line x1="1165.5" y1="649.8" x2="1250.8" y2="652.7" stroke="#050505" stroke-width="6.4" stroke-linecap="round"/>
<line x1="1165.5" y1="689.9" x2="1250.6" y2="692.8" stroke="#050505" stroke-width="6.4" stroke-linecap="round"/>
<line x1="1165.5" y1="730.0" x2="1250.5" y2="732.9" stroke="#050505" stroke-width="6.4" stroke-linecap="round"/>
<line x1="1165.5" y1="770.1" x2="1250.3" y2="773.0" stroke="#050505" stroke-width="6.4" stroke-linecap="round"/>
<line x1="1165.5" y1="810.2" x2="1250.2" y2="813.1" stroke="#050505" stroke-width="6.4" stroke-linecap="round"/>
<line x1="1165.5" y1="850.3" x2="1250.0" y2="853.2" stroke="#050505" stroke-width="6.4" stroke-linecap="round"/>
<line x1="1165.5" y1="890.4" x2="1249.8" y2="893.3" stroke="#050505" stroke-width="6.4" stroke-linecap="round"/>
<line x1="1165.5" y1="930.5" x2="1249.7" y2="933.4" stroke="#050505" stroke-width="6.4" stroke-linecap="round"/>
<line x1="1165.5" y1="970.6" x2="1249.5" y2="973.5" stroke="#050505" stroke-width="6.4" stroke-linecap="round"/>
<line x1="1165.5" y1="1010.7" x2="1249.4" y2="1013.6" stroke="#050505" stroke-width="6.4" stroke-linecap="round"/>
<path d="M127.5,449.2C125.2,450.1 118.1,451.6 113.8,454.5C109.5,457.4 105.7,461.8 101.7,466.6C97.7,471.5 93.2,477.1 89.6,483.6C86.0,490.1 82.5,497.7 79.9,505.4C77.3,513.1 75.2,521.1 73.8,529.6C72.4,538.1 71.7,547.3 71.4,556.2C71.1,565.1 71.5,573.9 72.1,582.8C72.7,591.7 73.9,600.9 75.0,609.4C76.1,617.9 78.3,625.6 78.7,633.7C79.1,641.8 78.5,649.8 77.5,657.9C76.5,666.0 74.8,674.4 72.6,682.1C70.4,689.8 67.3,697.5 64.1,703.9C60.9,710.3 56.7,715.7 53.3,720.8C49.9,725.9 45.1,732.2 43.5,734.5L43.5,734.5C45.1,736.8 49.9,743.1 53.3,748.2C56.7,753.3 60.9,758.7 64.1,765.1C67.3,771.5 70.4,779.2 72.6,786.9C74.8,794.6 76.5,803.0 77.5,811.1C78.5,819.2 79.1,827.2 78.7,835.3C78.3,843.4 76.1,851.1 75.0,859.6C73.9,868.1 72.7,877.3 72.1,886.2C71.5,895.1 71.1,903.9 71.4,912.8C71.7,921.7 72.4,930.9 73.8,939.4C75.2,947.9 77.3,955.9 79.9,963.6C82.5,971.3 86.0,978.9 89.6,985.4C93.2,991.9 97.7,997.5 101.7,1002.4C105.7,1007.2 109.5,1011.6 113.8,1014.5C118.1,1017.4 125.2,1018.9 127.5,1019.8L128.3,1014.4C126.3,1012.4 119.8,1006.8 116.2,1002.4C112.6,998.0 109.5,993.9 106.5,987.8C103.5,981.7 100.2,973.6 98.0,966.0C95.8,958.4 94.2,950.4 93.2,941.9C92.2,933.4 91.8,924.5 92.0,915.2C92.2,905.9 93.4,895.5 94.4,886.2C95.4,876.9 97.0,868.1 98.0,859.6C99.0,851.1 100.3,843.4 100.5,835.3C100.7,827.2 100.5,819.2 99.3,811.1C98.1,803.0 96.0,794.6 93.2,786.9C90.4,779.2 86.3,771.5 82.3,765.1C78.3,758.7 73.1,753.3 69.0,748.2C64.9,743.1 59.4,736.8 57.5,734.5L57.5,734.5C59.4,732.2 64.9,725.9 69.0,720.8C73.1,715.7 78.3,710.3 82.3,703.9C86.3,697.5 90.4,689.8 93.2,682.1C96.0,674.4 98.1,666.0 99.3,657.9C100.5,649.8 100.7,641.8 100.5,633.7C100.3,625.6 99.0,617.9 98.0,609.4C97.0,600.9 95.4,592.1 94.4,582.8C93.4,573.5 92.2,563.1 92.0,553.8C91.8,544.5 92.2,535.6 93.2,527.1C94.2,518.6 95.8,510.6 98.0,503.0C100.2,495.4 103.5,487.3 106.5,481.2C109.5,475.1 112.6,471.0 116.2,466.6C119.8,462.2 126.3,456.6 128.3,454.6Z" fill="#000" stroke="#000" stroke-width="1" stroke-linejoin="round"/>
<path d="M1276.0,450.4C1278.3,451.3 1285.6,452.8 1289.9,455.7C1294.3,458.6 1298.1,462.9 1302.3,467.8C1306.4,472.7 1310.9,478.3 1314.6,484.8C1318.3,491.3 1321.8,498.9 1324.4,506.6C1327.1,514.3 1329.2,522.3 1330.7,530.8C1332.1,539.3 1332.8,548.5 1333.1,557.4C1333.4,566.3 1333.0,575.1 1332.4,584.0C1331.8,592.9 1330.6,602.1 1329.4,610.6C1328.3,619.1 1326.1,626.8 1325.7,634.9C1325.2,643.0 1325.9,651.0 1326.9,659.1C1327.9,667.2 1329.6,675.6 1331.9,683.3C1334.2,691.0 1337.3,698.7 1340.5,705.1C1343.8,711.5 1348.0,716.9 1351.5,722.0C1355.0,727.1 1359.8,733.4 1361.5,735.7L1361.5,735.7C1359.8,738.0 1355.0,744.3 1351.5,749.4C1348.0,754.5 1343.8,759.9 1340.5,766.3C1337.3,772.8 1334.2,780.4 1331.9,788.1C1329.6,795.8 1327.9,804.2 1326.9,812.3C1325.9,820.4 1325.2,828.4 1325.7,836.5C1326.1,844.6 1328.3,852.3 1329.4,860.8C1330.6,869.3 1331.8,878.5 1332.4,887.4C1333.0,896.3 1333.4,905.1 1333.1,914.0C1332.8,922.9 1332.1,932.1 1330.7,940.6C1329.2,949.1 1327.1,957.1 1324.4,964.8C1321.8,972.5 1318.3,980.1 1314.6,986.6C1310.9,993.1 1306.4,998.8 1302.3,1003.6C1298.1,1008.5 1294.3,1012.8 1289.9,1015.7C1285.6,1018.6 1278.3,1020.1 1276.0,1021.0L1275.2,1015.6C1277.2,1013.6 1283.8,1008.0 1287.5,1003.6C1291.2,999.2 1294.3,995.1 1297.4,989.0C1300.5,982.9 1303.8,974.9 1306.0,967.2C1308.3,959.6 1309.9,951.6 1310.9,943.1C1311.9,934.6 1312.3,925.7 1312.1,916.4C1311.9,907.1 1310.7,896.7 1309.7,887.4C1308.7,878.1 1307.1,869.3 1306.0,860.8C1305.0,852.3 1303.7,844.6 1303.5,836.5C1303.3,828.4 1303.5,820.4 1304.7,812.3C1305.9,804.2 1308.0,795.8 1310.9,788.1C1313.8,780.4 1317.9,772.8 1322.0,766.3C1326.1,759.9 1331.3,754.5 1335.5,749.4C1339.8,744.3 1345.3,738.0 1347.3,735.7L1347.3,735.7C1345.3,733.4 1339.8,727.1 1335.5,722.0C1331.3,716.9 1326.1,711.5 1322.0,705.1C1317.9,698.7 1313.8,691.0 1310.9,683.3C1308.0,675.6 1305.9,667.2 1304.7,659.1C1303.5,651.0 1303.3,643.0 1303.5,634.9C1303.7,626.8 1305.0,619.1 1306.0,610.6C1307.1,602.1 1308.7,593.3 1309.7,584.0C1310.7,574.7 1311.9,564.3 1312.1,555.0C1312.3,545.7 1311.9,536.8 1310.9,528.3C1309.9,519.8 1308.3,511.9 1306.0,504.2C1303.8,496.5 1300.5,488.5 1297.4,482.4C1294.3,476.3 1291.2,472.2 1287.5,467.8C1283.8,463.4 1277.2,457.8 1275.2,455.8Z" fill="#000" stroke="#000" stroke-width="1" stroke-linejoin="round"/>
<rect x="312.3" y="287.2" width="43.8" height="459.3" fill="#fdfdfd" stroke="#1b1917" stroke-width="3.0"/>
<rect x="312.3" y="287.2" width="43.8" height="348.1" fill="#332e28" stroke="#1b1917" stroke-width="3.0"/>
<rect x="519.3" y="113.3" width="44.8" height="696.2" fill="#fdfdfd" stroke="#1b1917" stroke-width="3.0"/>
<rect x="519.3" y="113.3" width="44.8" height="394.7" fill="#332e28" stroke="#1b1917" stroke-width="3.0"/>
<rect x="734.0" y="198.5" width="44.3" height="465.0" fill="#fdfdfd" stroke="#1b1917" stroke-width="3.0"/>
<rect x="734.0" y="198.5" width="44.3" height="266.7" fill="#332e28" stroke="#1b1917" stroke-width="3.0"/>
<rect x="965.8" y="189.8" width="45.1" height="779.0" fill="#fdfdfd" stroke="#1b1917" stroke-width="3.0"/>
<rect x="965.8" y="189.8" width="45.1" height="594.2" fill="#332e28" stroke="#1b1917" stroke-width="3.0"/>
<text transform="translate(617.3,959.3) scale(1.212,1)" font-size="66.5" font-weight="bold" font-family="&quot;Liberation Sans&quot;, sans-serif" fill="#000" stroke="#000" stroke-width="2.6" stroke-linejoin="miter">The rock</text>
<text transform="translate(27.6,871.5) rotate(-90)" font-size="37.7" font-family="&quot;Liberation Sans&quot;, sans-serif" fill="#000">Terminal points</text>
<text transform="translate(1392.7,871.5) rotate(-90)" font-size="37.4" font-family="&quot;Liberation Sans&quot;, sans-serif" fill="#000">Terminal points</text>
<text x="247" y="1227" font-size="52.7" font-family="&quot;Liberation Sans&quot;, sans-serif" fill="#000" xml:space="preserve" style="white-space:pre">Randomness  enhancing sliding rods</text>
</g>
</svg>
</body></html>
